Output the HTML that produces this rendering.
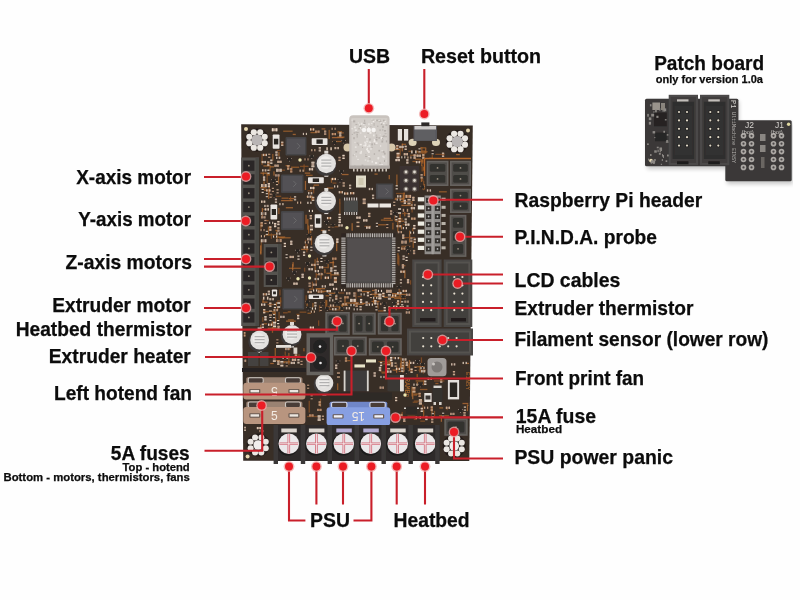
<!DOCTYPE html>
<html><head><meta charset="utf-8"><style>
html,body{margin:0;padding:0;background:#fff;overflow:hidden;}
svg{display:block}
.t{font-family:"Liberation Sans",sans-serif;font-weight:bold;fill:#0c0c0c;stroke:#0c0c0c;stroke-width:0.25px;}
</style></head><body>
<svg width="800" height="600" viewBox="0 0 800 600">
<defs><clipPath id="bclip"><path d="M242.5,125.5 L471.5,126.5 L468,459.5 L244.5,459.5 Z"/></clipPath><filter id="soft" x="0" y="0" width="1" height="1"><feGaussianBlur stdDeviation="0.45"/></filter><filter id="shadow" x="-0.2" y="-0.2" width="1.4" height="1.4"><feGaussianBlur stdDeviation="2"/></filter></defs>
<rect width="800" height="600" fill="#fefefe"/>
<g filter="url(#soft)"><path d="M241.2,124.3 L472.8,125.4 L469.3,461 L243.2,460.8 Z" fill="#382d27"/>
<g clip-path="url(#bclip)"><rect x="285.80" y="207.08" width="7.18" height="1.30" fill="#b87034" opacity="0.75"/><rect x="267.28" y="162.68" width="3.60" height="1.30" fill="#a8652c" opacity="0.75"/><rect x="282.98" y="312.13" width="4.72" height="1.30" fill="#8e5426" opacity="0.75"/><rect x="271.62" y="321.39" width="1.30" height="4.22" fill="#b87034" opacity="0.75"/><rect x="377.20" y="224.13" width="9.48" height="1.30" fill="#a8652c" opacity="0.75"/><rect x="306.44" y="302.76" width="1.30" height="3.83" fill="#a8652c" opacity="0.75"/><rect x="374.50" y="173.45" width="3.16" height="1.30" fill="#b87034" opacity="0.75"/><rect x="408.84" y="359.92" width="1.30" height="11.24" fill="#b87034" opacity="0.75"/><rect x="263.40" y="165.26" width="6.75" height="1.30" fill="#b87034" opacity="0.75"/><rect x="431.63" y="154.73" width="1.30" height="3.27" fill="#8e5426" opacity="0.75"/><rect x="412.60" y="240.38" width="1.30" height="7.48" fill="#a8652c" opacity="0.75"/><rect x="431.35" y="407.93" width="1.30" height="11.55" fill="#b87034" opacity="0.75"/><rect x="306.24" y="244.25" width="1.30" height="8.08" fill="#8e5426" opacity="0.75"/><rect x="283.20" y="130.56" width="9.43" height="1.30" fill="#a8652c" opacity="0.75"/><rect x="400.45" y="201.12" width="11.03" height="1.30" fill="#b87034" opacity="0.75"/><rect x="425.06" y="148.20" width="1.30" height="4.56" fill="#b87034" opacity="0.75"/><rect x="279.98" y="297.21" width="1.30" height="5.31" fill="#8e5426" opacity="0.75"/><rect x="294.13" y="354.41" width="6.20" height="1.30" fill="#8e5426" opacity="0.75"/><rect x="355.24" y="292.39" width="1.30" height="10.67" fill="#8e5426" opacity="0.75"/><rect x="327.54" y="263.84" width="1.30" height="4.44" fill="#a8652c" opacity="0.75"/><rect x="330.28" y="270.92" width="1.30" height="7.89" fill="#8e5426" opacity="0.75"/><rect x="288.21" y="352.87" width="1.30" height="11.72" fill="#a8652c" opacity="0.75"/><rect x="285.65" y="165.05" width="4.42" height="1.30" fill="#b87034" opacity="0.75"/><rect x="401.55" y="411.90" width="1.30" height="6.64" fill="#8e5426" opacity="0.75"/><rect x="285.96" y="320.51" width="9.86" height="1.30" fill="#b87034" opacity="0.75"/><rect x="415.64" y="380.29" width="9.50" height="1.30" fill="#a8652c" opacity="0.75"/><rect x="290.97" y="166.59" width="8.17" height="1.30" fill="#a8652c" opacity="0.75"/><rect x="381.46" y="371.54" width="6.61" height="1.30" fill="#a8652c" opacity="0.75"/><rect x="305.03" y="239.82" width="1.30" height="6.74" fill="#8e5426" opacity="0.75"/><rect x="260.14" y="324.78" width="1.30" height="3.41" fill="#a8652c" opacity="0.75"/><rect x="401.94" y="143.68" width="4.06" height="1.30" fill="#a8652c" opacity="0.75"/><rect x="380.21" y="367.00" width="1.30" height="4.71" fill="#b87034" opacity="0.75"/><rect x="303.96" y="267.74" width="1.30" height="3.92" fill="#8e5426" opacity="0.75"/><rect x="319.11" y="290.65" width="10.83" height="1.30" fill="#a8652c" opacity="0.75"/><rect x="413.77" y="400.46" width="8.88" height="1.30" fill="#8e5426" opacity="0.75"/><rect x="417.49" y="152.18" width="8.96" height="1.30" fill="#a8652c" opacity="0.75"/><rect x="399.40" y="290.77" width="1.30" height="5.95" fill="#a8652c" opacity="0.75"/><rect x="315.55" y="272.96" width="1.30" height="11.12" fill="#8e5426" opacity="0.75"/><rect x="314.46" y="259.26" width="1.30" height="11.05" fill="#a8652c" opacity="0.75"/><rect x="330.81" y="178.23" width="1.30" height="4.60" fill="#a8652c" opacity="0.75"/><rect x="413.76" y="418.58" width="3.20" height="1.30" fill="#8e5426" opacity="0.75"/><rect x="424.08" y="150.99" width="1.30" height="3.42" fill="#8e5426" opacity="0.75"/><rect x="321.56" y="128.28" width="3.80" height="1.30" fill="#b87034" opacity="0.75"/><rect x="288.98" y="267.66" width="11.73" height="1.30" fill="#a8652c" opacity="0.75"/><rect x="276.53" y="169.51" width="8.53" height="1.30" fill="#8e5426" opacity="0.75"/><rect x="311.78" y="281.65" width="1.30" height="6.24" fill="#8e5426" opacity="0.75"/><rect x="274.62" y="348.00" width="1.30" height="9.72" fill="#a8652c" opacity="0.75"/><rect x="296.43" y="313.72" width="3.09" height="1.30" fill="#8e5426" opacity="0.75"/><rect x="364.45" y="225.71" width="6.53" height="1.30" fill="#8e5426" opacity="0.75"/><rect x="262.56" y="189.45" width="3.99" height="1.30" fill="#b87034" opacity="0.75"/><rect x="429.05" y="157.54" width="3.85" height="1.30" fill="#8e5426" opacity="0.75"/><rect x="347.21" y="360.00" width="3.29" height="1.30" fill="#a8652c" opacity="0.75"/><rect x="398.55" y="286.79" width="1.30" height="8.61" fill="#8e5426" opacity="0.75"/><rect x="261.73" y="207.96" width="1.30" height="9.27" fill="#b87034" opacity="0.75"/><rect x="419.39" y="365.86" width="1.30" height="6.63" fill="#b87034" opacity="0.75"/><rect x="466.79" y="404.46" width="1.30" height="6.68" fill="#b87034" opacity="0.75"/><rect x="269.41" y="164.94" width="1.30" height="5.97" fill="#8e5426" opacity="0.75"/><rect x="412.17" y="227.87" width="1.30" height="3.63" fill="#a8652c" opacity="0.75"/><rect x="407.43" y="415.46" width="7.92" height="1.30" fill="#8e5426" opacity="0.75"/><rect x="361.87" y="302.70" width="8.40" height="1.30" fill="#b87034" opacity="0.75"/><rect x="308.58" y="400.76" width="1.30" height="11.85" fill="#8e5426" opacity="0.75"/><rect x="419.98" y="388.86" width="7.40" height="1.30" fill="#a8652c" opacity="0.75"/><rect x="268.71" y="185.99" width="1.30" height="8.22" fill="#8e5426" opacity="0.75"/><rect x="420.01" y="147.24" width="6.28" height="1.30" fill="#a8652c" opacity="0.75"/><rect x="263.57" y="311.07" width="11.42" height="1.30" fill="#a8652c" opacity="0.75"/><rect x="395.97" y="364.33" width="1.30" height="8.51" fill="#b87034" opacity="0.75"/><rect x="288.82" y="197.98" width="5.78" height="1.30" fill="#b87034" opacity="0.75"/><rect x="467.55" y="404.65" width="10.69" height="1.30" fill="#b87034" opacity="0.75"/><rect x="319.91" y="266.78" width="8.24" height="1.30" fill="#8e5426" opacity="0.75"/><rect x="434.02" y="380.31" width="10.41" height="1.30" fill="#8e5426" opacity="0.75"/><rect x="404.09" y="210.35" width="1.30" height="5.94" fill="#b87034" opacity="0.75"/><rect x="438.93" y="191.15" width="7.85" height="1.30" fill="#a8652c" opacity="0.75"/><rect x="274.95" y="317.79" width="1.30" height="4.95" fill="#b87034" opacity="0.75"/><rect x="383.69" y="217.70" width="7.34" height="1.30" fill="#b87034" opacity="0.75"/><rect x="312.29" y="302.88" width="1.30" height="10.22" fill="#a8652c" opacity="0.75"/><rect x="326.88" y="187.36" width="6.60" height="1.30" fill="#a8652c" opacity="0.75"/><rect x="292.42" y="262.12" width="1.30" height="4.60" fill="#b87034" opacity="0.75"/><rect x="320.53" y="272.46" width="1.30" height="6.82" fill="#8e5426" opacity="0.75"/><rect x="327.48" y="306.13" width="11.28" height="1.30" fill="#8e5426" opacity="0.75"/><rect x="409.05" y="230.59" width="1.30" height="11.90" fill="#b87034" opacity="0.75"/><rect x="267.99" y="188.87" width="1.30" height="10.11" fill="#a8652c" opacity="0.75"/><rect x="422.99" y="410.02" width="1.30" height="7.94" fill="#a8652c" opacity="0.75"/><rect x="287.34" y="348.24" width="3.14" height="1.30" fill="#b87034" opacity="0.75"/><rect x="289.93" y="196.37" width="1.30" height="4.54" fill="#8e5426" opacity="0.75"/><rect x="398.62" y="370.70" width="5.79" height="1.30" fill="#b87034" opacity="0.75"/><rect x="380.87" y="219.43" width="4.11" height="1.30" fill="#a8652c" opacity="0.75"/><rect x="307.10" y="415.84" width="10.69" height="1.30" fill="#8e5426" opacity="0.75"/><rect x="317.99" y="320.40" width="1.30" height="5.41" fill="#8e5426" opacity="0.75"/><rect x="319.85" y="398.59" width="1.30" height="8.32" fill="#8e5426" opacity="0.75"/><rect x="374.47" y="291.62" width="1.30" height="7.64" fill="#a8652c" opacity="0.75"/><rect x="409.91" y="154.65" width="8.84" height="1.30" fill="#8e5426" opacity="0.75"/><rect x="266.51" y="172.56" width="1.30" height="10.29" fill="#8e5426" opacity="0.75"/><rect x="267.81" y="226.55" width="1.30" height="8.79" fill="#a8652c" opacity="0.75"/><rect x="330.70" y="226.13" width="7.83" height="1.30" fill="#8e5426" opacity="0.75"/><rect x="301.11" y="248.76" width="7.29" height="1.30" fill="#b87034" opacity="0.75"/><rect x="407.96" y="250.60" width="1.30" height="3.94" fill="#8e5426" opacity="0.75"/><rect x="408.31" y="150.65" width="10.51" height="1.30" fill="#8e5426" opacity="0.75"/><rect x="264.83" y="234.29" width="11.53" height="1.30" fill="#a8652c" opacity="0.75"/><rect x="398.15" y="255.43" width="1.30" height="3.95" fill="#8e5426" opacity="0.75"/><rect x="435.36" y="382.85" width="3.13" height="1.30" fill="#a8652c" opacity="0.75"/><rect x="276.26" y="359.97" width="3.81" height="1.30" fill="#b87034" opacity="0.75"/><rect x="404.21" y="270.23" width="1.30" height="8.04" fill="#b87034" opacity="0.75"/><rect x="412.45" y="160.86" width="10.63" height="1.30" fill="#a8652c" opacity="0.75"/><rect x="307.46" y="312.62" width="3.68" height="1.30" fill="#a8652c" opacity="0.75"/><rect x="307.14" y="218.88" width="1.30" height="10.86" fill="#a8652c" opacity="0.75"/><rect x="423.05" y="180.88" width="1.30" height="9.32" fill="#8e5426" opacity="0.75"/><rect x="401.64" y="265.12" width="3.71" height="1.30" fill="#b87034" opacity="0.75"/><rect x="277.01" y="306.14" width="1.30" height="4.39" fill="#b87034" opacity="0.75"/><rect x="262.44" y="298.87" width="1.30" height="3.29" fill="#a8652c" opacity="0.75"/><rect x="310.03" y="226.56" width="1.30" height="6.73" fill="#a8652c" opacity="0.75"/><rect x="413.41" y="394.38" width="3.61" height="1.30" fill="#a8652c" opacity="0.75"/><rect x="462.47" y="402.85" width="6.02" height="1.30" fill="#b87034" opacity="0.75"/><rect x="284.59" y="351.45" width="1.30" height="8.36" fill="#8e5426" opacity="0.75"/><rect x="310.84" y="236.09" width="1.30" height="9.07" fill="#a8652c" opacity="0.75"/><rect x="292.01" y="264.15" width="1.30" height="6.34" fill="#b87034" opacity="0.75"/><rect x="270.70" y="233.34" width="1.30" height="5.46" fill="#8e5426" opacity="0.75"/><rect x="456.10" y="153.97" width="3.69" height="1.30" fill="#b87034" opacity="0.75"/><rect x="332.68" y="140.81" width="8.70" height="1.30" fill="#a8652c" opacity="0.75"/><rect x="351.50" y="223.19" width="1.30" height="7.53" fill="#b87034" opacity="0.75"/><rect x="401.65" y="143.64" width="1.30" height="7.74" fill="#b87034" opacity="0.75"/><rect x="287.83" y="319.24" width="5.95" height="1.30" fill="#a8652c" opacity="0.75"/><rect x="337.43" y="131.05" width="4.64" height="1.30" fill="#a8652c" opacity="0.75"/><rect x="462.98" y="362.77" width="6.28" height="1.30" fill="#b87034" opacity="0.75"/><rect x="361.87" y="290.91" width="8.63" height="1.30" fill="#b87034" opacity="0.75"/><rect x="392.24" y="222.71" width="1.30" height="6.78" fill="#a8652c" opacity="0.75"/><rect x="373.13" y="297.02" width="1.30" height="6.58" fill="#b87034" opacity="0.75"/><rect x="276.44" y="229.98" width="1.30" height="11.40" fill="#a8652c" opacity="0.75"/><rect x="446.49" y="406.95" width="1.30" height="3.25" fill="#8e5426" opacity="0.75"/><rect x="420.29" y="420.50" width="4.64" height="1.30" fill="#8e5426" opacity="0.75"/><rect x="399.53" y="147.74" width="1.30" height="7.89" fill="#8e5426" opacity="0.75"/><rect x="353.67" y="303.52" width="10.14" height="1.30" fill="#b87034" opacity="0.75"/><rect x="393.08" y="357.21" width="7.21" height="1.30" fill="#b87034" opacity="0.75"/><rect x="292.74" y="133.80" width="3.03" height="1.30" fill="#b87034" opacity="0.75"/><rect x="310.44" y="131.96" width="6.75" height="1.30" fill="#a8652c" opacity="0.75"/><rect x="303.45" y="164.39" width="1.30" height="7.22" fill="#8e5426" opacity="0.75"/><rect x="267.64" y="303.87" width="6.84" height="1.30" fill="#8e5426" opacity="0.75"/><rect x="394.69" y="198.76" width="7.89" height="1.30" fill="#b87034" opacity="0.75"/><rect x="313.00" y="185.67" width="1.30" height="7.71" fill="#8e5426" opacity="0.75"/><rect x="409.94" y="232.78" width="3.06" height="1.30" fill="#8e5426" opacity="0.75"/><rect x="394.75" y="148.81" width="5.13" height="1.30" fill="#b87034" opacity="0.75"/><rect x="300.02" y="165.69" width="8.48" height="1.30" fill="#8e5426" opacity="0.75"/><rect x="414.23" y="366.11" width="10.43" height="1.30" fill="#a8652c" opacity="0.75"/><rect x="388.61" y="174.99" width="1.30" height="4.25" fill="#b87034" opacity="0.75"/><rect x="307.50" y="190.22" width="4.80" height="1.30" fill="#8e5426" opacity="0.75"/><rect x="299.63" y="311.53" width="6.74" height="1.30" fill="#8e5426" opacity="0.75"/><rect x="384.47" y="219.58" width="8.46" height="1.30" fill="#a8652c" opacity="0.75"/><rect x="303.29" y="348.07" width="1.30" height="3.27" fill="#a8652c" opacity="0.75"/><rect x="287.71" y="311.27" width="3.01" height="1.30" fill="#a8652c" opacity="0.75"/><rect x="394.26" y="215.77" width="1.30" height="5.17" fill="#8e5426" opacity="0.75"/><rect x="409.87" y="280.25" width="1.30" height="4.37" fill="#8e5426" opacity="0.75"/><rect x="271.82" y="326.73" width="1.30" height="6.10" fill="#a8652c" opacity="0.75"/><rect x="316.51" y="273.98" width="6.82" height="1.30" fill="#a8652c" opacity="0.75"/><rect x="357.63" y="295.95" width="4.18" height="1.30" fill="#8e5426" opacity="0.75"/><rect x="435.33" y="153.71" width="9.31" height="1.30" fill="#8e5426" opacity="0.75"/><rect x="394.90" y="197.78" width="8.45" height="1.30" fill="#a8652c" opacity="0.75"/><rect x="337.03" y="383.34" width="1.30" height="6.77" fill="#a8652c" opacity="0.75"/><rect x="274.48" y="307.84" width="1.30" height="10.78" fill="#a8652c" opacity="0.75"/><rect x="262.84" y="293.23" width="4.20" height="2.20" fill="#9a6a48" /><rect x="262.84" y="293.23" width="1.20" height="2.20" fill="#c8b8a8" /><rect x="265.84" y="293.23" width="1.20" height="2.20" fill="#c8b8a8" /><rect x="418.94" y="383.44" width="3.20" height="3.20" fill="#2a2624" /><rect x="418.34" y="383.84" width="0.60" height="0.80" fill="#b89478" /><rect x="422.14" y="383.84" width="0.60" height="0.80" fill="#b89478" /><rect x="420.14" y="386.64" width="0.80" height="0.60" fill="#b89478" /><rect x="277.28" y="220.96" width="2.20" height="4.20" fill="#8b7568" /><rect x="277.28" y="220.96" width="2.20" height="1.20" fill="#d8c4b0" /><rect x="277.28" y="223.96" width="2.20" height="1.20" fill="#d8c4b0" /><rect x="382.65" y="302.10" width="3.20" height="3.20" fill="#2a2624" /><rect x="382.05" y="302.50" width="0.60" height="0.80" fill="#b89478" /><rect x="385.85" y="302.50" width="0.60" height="0.80" fill="#b89478" /><rect x="383.85" y="305.30" width="0.80" height="0.60" fill="#b89478" /><rect x="380.37" y="375.87" width="4.20" height="2.20" fill="#3a2e28" /><rect x="380.37" y="375.87" width="1.20" height="2.20" fill="#c8b8a8" /><rect x="383.37" y="375.87" width="1.20" height="2.20" fill="#c8b8a8" /><rect x="263.09" y="309.10" width="2.20" height="4.20" fill="#9a6a48" /><rect x="263.09" y="309.10" width="2.20" height="1.20" fill="#d8c4b0" /><rect x="263.09" y="312.10" width="2.20" height="1.20" fill="#d8c4b0" /><rect x="335.13" y="295.45" width="2.20" height="4.20" fill="#9a6a48" /><rect x="335.13" y="295.45" width="2.20" height="1.20" fill="#c8b8a8" /><rect x="335.13" y="298.45" width="2.20" height="1.20" fill="#c8b8a8" /><rect x="280.30" y="315.76" width="4.20" height="2.20" fill="#8b7568" /><rect x="280.30" y="315.76" width="1.20" height="2.20" fill="#c8b8a8" /><rect x="283.30" y="315.76" width="1.20" height="2.20" fill="#c8b8a8" /><rect x="290.16" y="240.73" width="2.20" height="4.20" fill="#b09888" /><rect x="290.16" y="240.73" width="2.20" height="1.20" fill="#c8b8a8" /><rect x="290.16" y="243.73" width="2.20" height="1.20" fill="#c8b8a8" /><rect x="345.85" y="307.13" width="4.20" height="2.20" fill="#6e5a4e" /><rect x="345.85" y="307.13" width="1.20" height="2.20" fill="#c8b8a8" /><rect x="348.85" y="307.13" width="1.20" height="2.20" fill="#c8b8a8" /><rect x="398.21" y="413.88" width="4.20" height="2.20" fill="#9a6a48" /><rect x="398.21" y="413.88" width="1.20" height="2.20" fill="#b89478" /><rect x="401.21" y="413.88" width="1.20" height="2.20" fill="#b89478" /><rect x="279.33" y="203.04" width="4.20" height="2.20" fill="#3a2e28" /><rect x="279.33" y="203.04" width="1.20" height="2.20" fill="#d8c4b0" /><rect x="282.33" y="203.04" width="1.20" height="2.20" fill="#d8c4b0" /><rect x="324.74" y="276.64" width="4.20" height="2.20" fill="#9a6a48" /><rect x="324.74" y="276.64" width="1.20" height="2.20" fill="#e2d2c0" /><rect x="327.74" y="276.64" width="1.20" height="2.20" fill="#e2d2c0" /><rect x="261.06" y="200.60" width="4.20" height="2.20" fill="#8b7568" /><rect x="261.06" y="200.60" width="1.20" height="2.20" fill="#d8c4b0" /><rect x="264.06" y="200.60" width="1.20" height="2.20" fill="#d8c4b0" /><rect x="318.34" y="273.01" width="4.20" height="2.20" fill="#6e5a4e" /><rect x="318.34" y="273.01" width="1.20" height="2.20" fill="#caa98c" /><rect x="321.34" y="273.01" width="1.20" height="2.20" fill="#caa98c" /><rect x="261.59" y="188.75" width="2.20" height="4.20" fill="#2a221e" /><rect x="261.59" y="188.75" width="2.20" height="1.20" fill="#e2d2c0" /><rect x="261.59" y="191.75" width="2.20" height="1.20" fill="#e2d2c0" /><rect x="418.90" y="399.02" width="3.00" height="5.50" fill="#b09888" /><rect x="418.90" y="399.02" width="3.00" height="1.50" fill="#caa98c" /><rect x="418.90" y="403.02" width="3.00" height="1.50" fill="#caa98c" /><rect x="333.88" y="277.26" width="3.00" height="5.50" fill="#9a6a48" /><rect x="333.88" y="277.26" width="3.00" height="1.50" fill="#d8c4b0" /><rect x="333.88" y="281.26" width="3.00" height="1.50" fill="#d8c4b0" /><rect x="397.55" y="247.13" width="2.20" height="4.20" fill="#2a221e" /><rect x="397.55" y="247.13" width="2.20" height="1.20" fill="#d8c4b0" /><rect x="397.55" y="250.13" width="2.20" height="1.20" fill="#d8c4b0" /><rect x="297.07" y="201.56" width="4.20" height="2.20" fill="#2a221e" /><rect x="297.07" y="201.56" width="1.20" height="2.20" fill="#caa98c" /><rect x="300.07" y="201.56" width="1.20" height="2.20" fill="#caa98c" /><rect x="259.26" y="429.96" width="4.20" height="2.20" fill="#2a221e" /><rect x="259.26" y="429.96" width="1.20" height="2.20" fill="#b89478" /><rect x="262.26" y="429.96" width="1.20" height="2.20" fill="#b89478" /><rect x="350.05" y="192.08" width="4.20" height="2.20" fill="#9a6a48" /><rect x="350.05" y="192.08" width="1.20" height="2.20" fill="#d8c4b0" /><rect x="353.05" y="192.08" width="1.20" height="2.20" fill="#d8c4b0" /><rect x="395.51" y="158.99" width="4.20" height="2.20" fill="#b09888" /><rect x="395.51" y="158.99" width="1.20" height="2.20" fill="#e2d2c0" /><rect x="398.51" y="158.99" width="1.20" height="2.20" fill="#e2d2c0" /><rect x="350.21" y="298.87" width="5.50" height="3.00" fill="#b09888" /><rect x="350.21" y="298.87" width="1.50" height="3.00" fill="#e2d2c0" /><rect x="354.21" y="298.87" width="1.50" height="3.00" fill="#e2d2c0" /><rect x="309.80" y="326.62" width="4.20" height="2.20" fill="#b09888" /><rect x="309.80" y="326.62" width="1.20" height="2.20" fill="#e2d2c0" /><rect x="312.80" y="326.62" width="1.20" height="2.20" fill="#e2d2c0" /><rect x="414.46" y="366.81" width="2.20" height="4.20" fill="#2a221e" /><rect x="414.46" y="366.81" width="2.20" height="1.20" fill="#b89478" /><rect x="414.46" y="369.81" width="2.20" height="1.20" fill="#b89478" /><rect x="294.80" y="351.56" width="2.20" height="4.20" fill="#6e5a4e" /><rect x="294.80" y="351.56" width="2.20" height="1.20" fill="#caa98c" /><rect x="294.80" y="354.56" width="2.20" height="1.20" fill="#caa98c" /><rect x="424.05" y="406.65" width="4.20" height="2.20" fill="#3a2e28" /><rect x="424.05" y="406.65" width="1.20" height="2.20" fill="#caa98c" /><rect x="427.05" y="406.65" width="1.20" height="2.20" fill="#caa98c" /><rect x="243.55" y="426.76" width="2.20" height="4.20" fill="#8b7568" /><rect x="243.55" y="426.76" width="2.20" height="1.20" fill="#d8c4b0" /><rect x="243.55" y="429.76" width="2.20" height="1.20" fill="#d8c4b0" /><rect x="308.90" y="168.16" width="4.20" height="2.20" fill="#b09888" /><rect x="308.90" y="168.16" width="1.20" height="2.20" fill="#d8c4b0" /><rect x="311.90" y="168.16" width="1.20" height="2.20" fill="#d8c4b0" /><rect x="297.38" y="255.51" width="2.20" height="4.20" fill="#3a2e28" /><rect x="297.38" y="255.51" width="2.20" height="1.20" fill="#e2d2c0" /><rect x="297.38" y="258.51" width="2.20" height="1.20" fill="#e2d2c0" /><rect x="394.45" y="362.53" width="2.20" height="4.20" fill="#3a2e28" /><rect x="394.45" y="362.53" width="2.20" height="1.20" fill="#caa98c" /><rect x="394.45" y="365.53" width="2.20" height="1.20" fill="#caa98c" /><rect x="267.17" y="161.49" width="2.20" height="4.20" fill="#9a6a48" /><rect x="267.17" y="161.49" width="2.20" height="1.20" fill="#d8c4b0" /><rect x="267.17" y="164.49" width="2.20" height="1.20" fill="#d8c4b0" /><rect x="368.14" y="212.86" width="2.20" height="4.20" fill="#8b7568" /><rect x="368.14" y="212.86" width="2.20" height="1.20" fill="#caa98c" /><rect x="368.14" y="215.86" width="2.20" height="1.20" fill="#caa98c" /><rect x="285.15" y="347.95" width="4.20" height="2.20" fill="#8b7568" /><rect x="285.15" y="347.95" width="1.20" height="2.20" fill="#b89478" /><rect x="288.15" y="347.95" width="1.20" height="2.20" fill="#b89478" /><rect x="243.24" y="332.23" width="2.20" height="4.20" fill="#9a6a48" /><rect x="243.24" y="332.23" width="2.20" height="1.20" fill="#caa98c" /><rect x="243.24" y="335.23" width="2.20" height="1.20" fill="#caa98c" /><rect x="375.83" y="222.72" width="2.20" height="4.20" fill="#2a221e" /><rect x="375.83" y="222.72" width="2.20" height="1.20" fill="#c8b8a8" /><rect x="375.83" y="225.72" width="2.20" height="1.20" fill="#c8b8a8" /><rect x="395.02" y="396.97" width="2.20" height="4.20" fill="#6e5a4e" /><rect x="395.02" y="396.97" width="2.20" height="1.20" fill="#d8c4b0" /><rect x="395.02" y="399.97" width="2.20" height="1.20" fill="#d8c4b0" /><rect x="359.97" y="298.94" width="2.20" height="4.20" fill="#b09888" /><rect x="359.97" y="298.94" width="2.20" height="1.20" fill="#e2d2c0" /><rect x="359.97" y="301.94" width="2.20" height="1.20" fill="#e2d2c0" /><rect x="309.72" y="214.99" width="2.20" height="4.20" fill="#8b7568" /><rect x="309.72" y="214.99" width="2.20" height="1.20" fill="#caa98c" /><rect x="309.72" y="217.99" width="2.20" height="1.20" fill="#caa98c" /><rect x="324.92" y="220.74" width="3.20" height="3.20" fill="#2a2624" /><rect x="324.32" y="221.14" width="0.60" height="0.80" fill="#d8c4b0" /><rect x="328.12" y="221.14" width="0.60" height="0.80" fill="#d8c4b0" /><rect x="326.12" y="223.94" width="0.80" height="0.60" fill="#d8c4b0" /><rect x="400.38" y="270.61" width="4.20" height="2.20" fill="#9a6a48" /><rect x="400.38" y="270.61" width="1.20" height="2.20" fill="#e2d2c0" /><rect x="403.38" y="270.61" width="1.20" height="2.20" fill="#e2d2c0" /><rect x="359.50" y="306.07" width="2.20" height="4.20" fill="#6e5a4e" /><rect x="359.50" y="306.07" width="2.20" height="1.20" fill="#c8b8a8" /><rect x="359.50" y="309.07" width="2.20" height="1.20" fill="#c8b8a8" /><rect x="373.57" y="372.37" width="2.20" height="4.20" fill="#8b7568" /><rect x="373.57" y="372.37" width="2.20" height="1.20" fill="#d8c4b0" /><rect x="373.57" y="375.37" width="2.20" height="1.20" fill="#d8c4b0" /><rect x="463.80" y="406.51" width="2.20" height="4.20" fill="#3a2e28" /><rect x="463.80" y="406.51" width="2.20" height="1.20" fill="#d8c4b0" /><rect x="463.80" y="409.51" width="2.20" height="1.20" fill="#d8c4b0" /><rect x="393.52" y="211.76" width="3.20" height="3.20" fill="#2a2624" /><rect x="392.92" y="212.16" width="0.60" height="0.80" fill="#d8c4b0" /><rect x="396.72" y="212.16" width="0.60" height="0.80" fill="#d8c4b0" /><rect x="394.72" y="214.96" width="0.80" height="0.60" fill="#d8c4b0" /><rect x="366.07" y="226.46" width="4.20" height="2.20" fill="#b09888" /><rect x="366.07" y="226.46" width="1.20" height="2.20" fill="#d8c4b0" /><rect x="369.07" y="226.46" width="1.20" height="2.20" fill="#d8c4b0" /><rect x="368.80" y="187.91" width="4.20" height="2.20" fill="#6e5a4e" /><rect x="368.80" y="187.91" width="1.20" height="2.20" fill="#c8b8a8" /><rect x="371.80" y="187.91" width="1.20" height="2.20" fill="#c8b8a8" /><rect x="307.04" y="384.62" width="2.20" height="4.20" fill="#2a221e" /><rect x="307.04" y="384.62" width="2.20" height="1.20" fill="#b89478" /><rect x="307.04" y="387.62" width="2.20" height="1.20" fill="#b89478" /><rect x="338.60" y="218.87" width="2.20" height="4.20" fill="#b09888" /><rect x="338.60" y="218.87" width="2.20" height="1.20" fill="#e2d2c0" /><rect x="338.60" y="221.87" width="2.20" height="1.20" fill="#e2d2c0" /><rect x="326.66" y="290.02" width="4.20" height="2.20" fill="#b09888" /><rect x="326.66" y="290.02" width="1.20" height="2.20" fill="#e2d2c0" /><rect x="329.66" y="290.02" width="1.20" height="2.20" fill="#e2d2c0" /><rect x="401.85" y="264.17" width="2.20" height="4.20" fill="#b09888" /><rect x="401.85" y="264.17" width="2.20" height="1.20" fill="#b89478" /><rect x="401.85" y="267.17" width="2.20" height="1.20" fill="#b89478" /><rect x="273.04" y="321.77" width="3.00" height="5.50" fill="#8b7568" /><rect x="273.04" y="321.77" width="3.00" height="1.50" fill="#e2d2c0" /><rect x="273.04" y="325.77" width="3.00" height="1.50" fill="#e2d2c0" /><rect x="285.51" y="254.11" width="2.20" height="4.20" fill="#2a221e" /><rect x="285.51" y="254.11" width="2.20" height="1.20" fill="#c8b8a8" /><rect x="285.51" y="257.11" width="2.20" height="1.20" fill="#c8b8a8" /><rect x="402.64" y="289.86" width="4.20" height="2.20" fill="#9a6a48" /><rect x="402.64" y="289.86" width="1.20" height="2.20" fill="#d8c4b0" /><rect x="405.64" y="289.86" width="1.20" height="2.20" fill="#d8c4b0" /><rect x="310.12" y="186.91" width="4.20" height="2.20" fill="#b09888" /><rect x="310.12" y="186.91" width="1.20" height="2.20" fill="#e2d2c0" /><rect x="313.12" y="186.91" width="1.20" height="2.20" fill="#e2d2c0" /><rect x="403.79" y="153.11" width="4.20" height="2.20" fill="#b09888" /><rect x="403.79" y="153.11" width="1.20" height="2.20" fill="#caa98c" /><rect x="406.79" y="153.11" width="1.20" height="2.20" fill="#caa98c" /><rect x="378.85" y="366.87" width="2.20" height="4.20" fill="#b09888" /><rect x="378.85" y="366.87" width="2.20" height="1.20" fill="#c8b8a8" /><rect x="378.85" y="369.87" width="2.20" height="1.20" fill="#c8b8a8" /><rect x="396.56" y="152.78" width="3.00" height="5.50" fill="#9a6a48" /><rect x="396.56" y="152.78" width="3.00" height="1.50" fill="#d8c4b0" /><rect x="396.56" y="156.78" width="3.00" height="1.50" fill="#d8c4b0" /><rect x="394.66" y="357.03" width="4.20" height="2.20" fill="#3a2e28" /><rect x="394.66" y="357.03" width="1.20" height="2.20" fill="#e2d2c0" /><rect x="397.66" y="357.03" width="1.20" height="2.20" fill="#e2d2c0" /><rect x="406.96" y="250.02" width="3.20" height="3.20" fill="#2a2624" /><rect x="406.36" y="250.42" width="0.60" height="0.80" fill="#caa98c" /><rect x="410.16" y="250.42" width="0.60" height="0.80" fill="#caa98c" /><rect x="408.16" y="253.22" width="0.80" height="0.60" fill="#caa98c" /><rect x="303.66" y="246.25" width="4.20" height="2.20" fill="#9a6a48" /><rect x="303.66" y="246.25" width="1.20" height="2.20" fill="#e2d2c0" /><rect x="306.66" y="246.25" width="1.20" height="2.20" fill="#e2d2c0" /><rect x="262.13" y="169.25" width="4.20" height="2.20" fill="#6e5a4e" /><rect x="262.13" y="169.25" width="1.20" height="2.20" fill="#c8b8a8" /><rect x="265.13" y="169.25" width="1.20" height="2.20" fill="#c8b8a8" /><rect x="413.21" y="224.95" width="2.20" height="4.20" fill="#8b7568" /><rect x="413.21" y="224.95" width="2.20" height="1.20" fill="#e2d2c0" /><rect x="413.21" y="227.95" width="2.20" height="1.20" fill="#e2d2c0" /><rect x="310.75" y="310.56" width="4.20" height="2.20" fill="#2a221e" /><rect x="310.75" y="310.56" width="1.20" height="2.20" fill="#caa98c" /><rect x="313.75" y="310.56" width="1.20" height="2.20" fill="#caa98c" /><rect x="406.92" y="279.03" width="2.20" height="4.20" fill="#b09888" /><rect x="406.92" y="279.03" width="2.20" height="1.20" fill="#caa98c" /><rect x="406.92" y="282.03" width="2.20" height="1.20" fill="#caa98c" /><rect x="286.69" y="277.28" width="3.20" height="3.20" fill="#2a2624" /><rect x="286.09" y="277.68" width="0.60" height="0.80" fill="#d8c4b0" /><rect x="289.89" y="277.68" width="0.60" height="0.80" fill="#d8c4b0" /><rect x="287.89" y="280.48" width="0.80" height="0.60" fill="#d8c4b0" /><rect x="274.86" y="198.62" width="2.20" height="4.20" fill="#6e5a4e" /><rect x="274.86" y="198.62" width="2.20" height="1.20" fill="#c8b8a8" /><rect x="274.86" y="201.62" width="2.20" height="1.20" fill="#c8b8a8" /><rect x="311.25" y="149.09" width="4.20" height="2.20" fill="#2a221e" /><rect x="311.25" y="149.09" width="1.20" height="2.20" fill="#caa98c" /><rect x="314.25" y="149.09" width="1.20" height="2.20" fill="#caa98c" /><rect x="365.53" y="301.51" width="2.20" height="4.20" fill="#8b7568" /><rect x="365.53" y="301.51" width="2.20" height="1.20" fill="#c8b8a8" /><rect x="365.53" y="304.51" width="2.20" height="1.20" fill="#c8b8a8" /><rect x="401.26" y="240.63" width="5.50" height="3.00" fill="#8b7568" /><rect x="401.26" y="240.63" width="1.50" height="3.00" fill="#b89478" /><rect x="405.26" y="240.63" width="1.50" height="3.00" fill="#b89478" /><rect x="463.42" y="411.99" width="2.20" height="4.20" fill="#8b7568" /><rect x="463.42" y="411.99" width="2.20" height="1.20" fill="#b89478" /><rect x="463.42" y="414.99" width="2.20" height="1.20" fill="#b89478" /><rect x="404.64" y="218.55" width="2.20" height="4.20" fill="#6e5a4e" /><rect x="404.64" y="218.55" width="2.20" height="1.20" fill="#d8c4b0" /><rect x="404.64" y="221.55" width="2.20" height="1.20" fill="#d8c4b0" /><rect x="293.95" y="196.20" width="2.20" height="4.20" fill="#6e5a4e" /><rect x="293.95" y="196.20" width="2.20" height="1.20" fill="#c8b8a8" /><rect x="293.95" y="199.20" width="2.20" height="1.20" fill="#c8b8a8" /><rect x="293.39" y="282.57" width="4.20" height="2.20" fill="#b09888" /><rect x="293.39" y="282.57" width="1.20" height="2.20" fill="#d8c4b0" /><rect x="296.39" y="282.57" width="1.20" height="2.20" fill="#d8c4b0" /><rect x="307.21" y="238.17" width="4.20" height="2.20" fill="#8b7568" /><rect x="307.21" y="238.17" width="1.20" height="2.20" fill="#caa98c" /><rect x="310.21" y="238.17" width="1.20" height="2.20" fill="#caa98c" /><rect x="395.94" y="417.12" width="2.20" height="4.20" fill="#3a2e28" /><rect x="395.94" y="417.12" width="2.20" height="1.20" fill="#caa98c" /><rect x="395.94" y="420.12" width="2.20" height="1.20" fill="#caa98c" /><rect x="462.60" y="361.85" width="4.20" height="2.20" fill="#3a2e28" /><rect x="462.60" y="361.85" width="1.20" height="2.20" fill="#e2d2c0" /><rect x="465.60" y="361.85" width="1.20" height="2.20" fill="#e2d2c0" /><rect x="331.52" y="127.71" width="4.20" height="2.20" fill="#2a221e" /><rect x="331.52" y="127.71" width="1.20" height="2.20" fill="#b89478" /><rect x="334.52" y="127.71" width="1.20" height="2.20" fill="#b89478" /><rect x="396.96" y="300.39" width="2.20" height="4.20" fill="#9a6a48" /><rect x="396.96" y="300.39" width="2.20" height="1.20" fill="#e2d2c0" /><rect x="396.96" y="303.39" width="2.20" height="1.20" fill="#e2d2c0" /><rect x="410.01" y="231.53" width="4.20" height="2.20" fill="#2a221e" /><rect x="410.01" y="231.53" width="1.20" height="2.20" fill="#d8c4b0" /><rect x="413.01" y="231.53" width="1.20" height="2.20" fill="#d8c4b0" /><rect x="307.53" y="290.87" width="4.20" height="2.20" fill="#9a6a48" /><rect x="307.53" y="290.87" width="1.20" height="2.20" fill="#c8b8a8" /><rect x="310.53" y="290.87" width="1.20" height="2.20" fill="#c8b8a8" /><rect x="332.98" y="287.84" width="4.20" height="2.20" fill="#6e5a4e" /><rect x="332.98" y="287.84" width="1.20" height="2.20" fill="#d8c4b0" /><rect x="335.98" y="287.84" width="1.20" height="2.20" fill="#d8c4b0" /><rect x="261.07" y="303.55" width="4.20" height="2.20" fill="#8b7568" /><rect x="261.07" y="303.55" width="1.20" height="2.20" fill="#e2d2c0" /><rect x="264.07" y="303.55" width="1.20" height="2.20" fill="#e2d2c0" /><rect x="338.36" y="178.64" width="3.20" height="3.20" fill="#2a2624" /><rect x="337.76" y="179.04" width="0.60" height="0.80" fill="#d8c4b0" /><rect x="341.56" y="179.04" width="0.60" height="0.80" fill="#d8c4b0" /><rect x="339.56" y="181.84" width="0.80" height="0.60" fill="#d8c4b0" /><rect x="353.28" y="292.44" width="2.20" height="4.20" fill="#8b7568" /><rect x="353.28" y="292.44" width="2.20" height="1.20" fill="#b89478" /><rect x="353.28" y="295.44" width="2.20" height="1.20" fill="#b89478" /><rect x="338.42" y="224.33" width="4.20" height="2.20" fill="#8b7568" /><rect x="338.42" y="224.33" width="1.20" height="2.20" fill="#d8c4b0" /><rect x="341.42" y="224.33" width="1.20" height="2.20" fill="#d8c4b0" /><rect x="265.81" y="230.76" width="2.20" height="4.20" fill="#2a221e" /><rect x="265.81" y="230.76" width="2.20" height="1.20" fill="#c8b8a8" /><rect x="265.81" y="233.76" width="2.20" height="1.20" fill="#c8b8a8" /><rect x="283.78" y="242.83" width="2.20" height="4.20" fill="#6e5a4e" /><rect x="283.78" y="242.83" width="2.20" height="1.20" fill="#e2d2c0" /><rect x="283.78" y="245.83" width="2.20" height="1.20" fill="#e2d2c0" /><rect x="397.42" y="285.58" width="3.20" height="3.20" fill="#2a2624" /><rect x="396.82" y="285.98" width="0.60" height="0.80" fill="#c8b8a8" /><rect x="400.62" y="285.98" width="0.60" height="0.80" fill="#c8b8a8" /><rect x="398.62" y="288.78" width="0.80" height="0.60" fill="#c8b8a8" /><rect x="307.30" y="201.74" width="4.20" height="2.20" fill="#3a2e28" /><rect x="307.30" y="201.74" width="1.20" height="2.20" fill="#e2d2c0" /><rect x="310.30" y="201.74" width="1.20" height="2.20" fill="#e2d2c0" /><rect x="308.55" y="282.62" width="2.20" height="4.20" fill="#6e5a4e" /><rect x="308.55" y="282.62" width="2.20" height="1.20" fill="#b89478" /><rect x="308.55" y="285.62" width="2.20" height="1.20" fill="#b89478" /><rect x="452.88" y="371.06" width="2.20" height="4.20" fill="#6e5a4e" /><rect x="452.88" y="371.06" width="2.20" height="1.20" fill="#caa98c" /><rect x="452.88" y="374.06" width="2.20" height="1.20" fill="#caa98c" /><rect x="338.43" y="156.82" width="2.20" height="4.20" fill="#6e5a4e" /><rect x="338.43" y="156.82" width="2.20" height="1.20" fill="#b89478" /><rect x="338.43" y="159.82" width="2.20" height="1.20" fill="#b89478" /><rect x="430.64" y="406.47" width="2.20" height="4.20" fill="#9a6a48" /><rect x="430.64" y="406.47" width="2.20" height="1.20" fill="#caa98c" /><rect x="430.64" y="409.47" width="2.20" height="1.20" fill="#caa98c" /><rect x="344.89" y="357.42" width="2.20" height="4.20" fill="#9a6a48" /><rect x="344.89" y="357.42" width="2.20" height="1.20" fill="#b89478" /><rect x="344.89" y="360.42" width="2.20" height="1.20" fill="#b89478" /><rect x="360.55" y="293.33" width="4.20" height="2.20" fill="#3a2e28" /><rect x="360.55" y="293.33" width="1.20" height="2.20" fill="#c8b8a8" /><rect x="363.55" y="293.33" width="1.20" height="2.20" fill="#c8b8a8" /><rect x="336.45" y="360.14" width="3.20" height="3.20" fill="#2a2624" /><rect x="335.85" y="360.54" width="0.60" height="0.80" fill="#d8c4b0" /><rect x="339.65" y="360.54" width="0.60" height="0.80" fill="#d8c4b0" /><rect x="337.65" y="363.34" width="0.80" height="0.60" fill="#d8c4b0" /><rect x="356.46" y="221.63" width="3.00" height="5.50" fill="#3a2e28" /><rect x="356.46" y="221.63" width="3.00" height="1.50" fill="#caa98c" /><rect x="356.46" y="225.63" width="3.00" height="1.50" fill="#caa98c" /><rect x="308.79" y="209.86" width="4.20" height="2.20" fill="#2a221e" /><rect x="308.79" y="209.86" width="1.20" height="2.20" fill="#e2d2c0" /><rect x="311.79" y="209.86" width="1.20" height="2.20" fill="#e2d2c0" /><rect x="268.12" y="153.69" width="2.20" height="4.20" fill="#3a2e28" /><rect x="268.12" y="153.69" width="2.20" height="1.20" fill="#b89478" /><rect x="268.12" y="156.69" width="2.20" height="1.20" fill="#b89478" /><rect x="328.04" y="226.59" width="2.20" height="4.20" fill="#2a221e" /><rect x="328.04" y="226.59" width="2.20" height="1.20" fill="#b89478" /><rect x="328.04" y="229.59" width="2.20" height="1.20" fill="#b89478" /><rect x="276.19" y="168.78" width="5.50" height="3.00" fill="#b09888" /><rect x="276.19" y="168.78" width="1.50" height="3.00" fill="#c8b8a8" /><rect x="280.19" y="168.78" width="1.50" height="3.00" fill="#c8b8a8" /><rect x="431.12" y="418.54" width="2.20" height="4.20" fill="#6e5a4e" /><rect x="431.12" y="418.54" width="2.20" height="1.20" fill="#caa98c" /><rect x="431.12" y="421.54" width="2.20" height="1.20" fill="#caa98c" /><rect x="321.83" y="415.61" width="2.20" height="4.20" fill="#3a2e28" /><rect x="321.83" y="415.61" width="2.20" height="1.20" fill="#caa98c" /><rect x="321.83" y="418.61" width="2.20" height="1.20" fill="#caa98c" /><rect x="272.85" y="356.34" width="3.00" height="5.50" fill="#6e5a4e" /><rect x="272.85" y="356.34" width="3.00" height="1.50" fill="#d8c4b0" /><rect x="272.85" y="360.34" width="3.00" height="1.50" fill="#d8c4b0" /><rect x="309.98" y="224.81" width="3.00" height="5.50" fill="#6e5a4e" /><rect x="309.98" y="224.81" width="3.00" height="1.50" fill="#d8c4b0" /><rect x="309.98" y="228.81" width="3.00" height="1.50" fill="#d8c4b0" /><rect x="402.80" y="226.98" width="4.20" height="2.20" fill="#3a2e28" /><rect x="402.80" y="226.98" width="1.20" height="2.20" fill="#c8b8a8" /><rect x="405.80" y="226.98" width="1.20" height="2.20" fill="#c8b8a8" /><rect x="411.12" y="150.42" width="5.50" height="3.00" fill="#2a221e" /><rect x="411.12" y="150.42" width="1.50" height="3.00" fill="#d8c4b0" /><rect x="415.12" y="150.42" width="1.50" height="3.00" fill="#d8c4b0" /><rect x="287.09" y="165.37" width="2.20" height="4.20" fill="#9a6a48" /><rect x="287.09" y="165.37" width="2.20" height="1.20" fill="#caa98c" /><rect x="287.09" y="168.37" width="2.20" height="1.20" fill="#caa98c" /><rect x="317.67" y="415.34" width="3.00" height="5.50" fill="#b09888" /><rect x="317.67" y="415.34" width="3.00" height="1.50" fill="#c8b8a8" /><rect x="317.67" y="419.34" width="3.00" height="1.50" fill="#c8b8a8" /><rect x="342.12" y="139.57" width="3.20" height="3.20" fill="#2a2624" /><rect x="341.52" y="139.97" width="0.60" height="0.80" fill="#c8b8a8" /><rect x="345.32" y="139.97" width="0.60" height="0.80" fill="#c8b8a8" /><rect x="343.32" y="142.77" width="0.80" height="0.60" fill="#c8b8a8" /><rect x="315.29" y="130.57" width="4.20" height="2.20" fill="#9a6a48" /><rect x="315.29" y="130.57" width="1.20" height="2.20" fill="#b89478" /><rect x="318.29" y="130.57" width="1.20" height="2.20" fill="#b89478" /><rect x="450.23" y="412.82" width="4.20" height="2.20" fill="#8b7568" /><rect x="450.23" y="412.82" width="1.20" height="2.20" fill="#b89478" /><rect x="453.23" y="412.82" width="1.20" height="2.20" fill="#b89478" /><rect x="415.55" y="416.07" width="5.50" height="3.00" fill="#3a2e28" /><rect x="415.55" y="416.07" width="1.50" height="3.00" fill="#caa98c" /><rect x="419.55" y="416.07" width="1.50" height="3.00" fill="#caa98c" /><rect x="268.94" y="310.35" width="3.00" height="5.50" fill="#2a221e" /><rect x="268.94" y="310.35" width="3.00" height="1.50" fill="#b89478" /><rect x="268.94" y="314.35" width="3.00" height="1.50" fill="#b89478" /><rect x="388.11" y="306.35" width="2.20" height="4.20" fill="#6e5a4e" /><rect x="388.11" y="306.35" width="2.20" height="1.20" fill="#caa98c" /><rect x="388.11" y="309.35" width="2.20" height="1.20" fill="#caa98c" /><rect x="321.76" y="285.24" width="4.20" height="2.20" fill="#6e5a4e" /><rect x="321.76" y="285.24" width="1.20" height="2.20" fill="#c8b8a8" /><rect x="324.76" y="285.24" width="1.20" height="2.20" fill="#c8b8a8" /><rect x="325.25" y="259.70" width="3.20" height="3.20" fill="#2a2624" /><rect x="324.65" y="260.10" width="0.60" height="0.80" fill="#b89478" /><rect x="328.45" y="260.10" width="0.60" height="0.80" fill="#b89478" /><rect x="326.45" y="262.90" width="0.80" height="0.60" fill="#b89478" /><rect x="399.35" y="145.84" width="4.20" height="2.20" fill="#b09888" /><rect x="399.35" y="145.84" width="1.20" height="2.20" fill="#c8b8a8" /><rect x="402.35" y="145.84" width="1.20" height="2.20" fill="#c8b8a8" /><rect x="451.07" y="363.28" width="4.20" height="2.20" fill="#6e5a4e" /><rect x="451.07" y="363.28" width="1.20" height="2.20" fill="#c8b8a8" /><rect x="454.07" y="363.28" width="1.20" height="2.20" fill="#c8b8a8" /><rect x="335.32" y="301.56" width="3.20" height="3.20" fill="#2a2624" /><rect x="334.72" y="301.96" width="0.60" height="0.80" fill="#d8c4b0" /><rect x="338.52" y="301.96" width="0.60" height="0.80" fill="#d8c4b0" /><rect x="336.52" y="304.76" width="0.80" height="0.60" fill="#d8c4b0" /><rect x="427.60" y="377.81" width="4.20" height="2.20" fill="#6e5a4e" /><rect x="427.60" y="377.81" width="1.20" height="2.20" fill="#d8c4b0" /><rect x="430.60" y="377.81" width="1.20" height="2.20" fill="#d8c4b0" /><rect x="349.00" y="184.70" width="2.20" height="4.20" fill="#6e5a4e" /><rect x="349.00" y="184.70" width="2.20" height="1.20" fill="#c8b8a8" /><rect x="349.00" y="187.70" width="2.20" height="1.20" fill="#c8b8a8" /><rect x="399.85" y="279.26" width="2.20" height="4.20" fill="#3a2e28" /><rect x="399.85" y="279.26" width="2.20" height="1.20" fill="#d8c4b0" /><rect x="399.85" y="282.26" width="2.20" height="1.20" fill="#d8c4b0" /><rect x="276.12" y="239.09" width="5.50" height="3.00" fill="#6e5a4e" /><rect x="276.12" y="239.09" width="1.50" height="3.00" fill="#b89478" /><rect x="280.12" y="239.09" width="1.50" height="3.00" fill="#b89478" /><rect x="274.46" y="164.60" width="4.20" height="2.20" fill="#b09888" /><rect x="274.46" y="164.60" width="1.20" height="2.20" fill="#b89478" /><rect x="277.46" y="164.60" width="1.20" height="2.20" fill="#b89478" /><rect x="377.87" y="289.78" width="4.20" height="2.20" fill="#2a221e" /><rect x="377.87" y="289.78" width="1.20" height="2.20" fill="#e2d2c0" /><rect x="380.87" y="289.78" width="1.20" height="2.20" fill="#e2d2c0" /><rect x="326.33" y="147.26" width="5.50" height="3.00" fill="#3a2e28" /><rect x="326.33" y="147.26" width="1.50" height="3.00" fill="#d8c4b0" /><rect x="330.33" y="147.26" width="1.50" height="3.00" fill="#d8c4b0" /><rect x="362.69" y="198.59" width="3.00" height="5.50" fill="#8b7568" /><rect x="362.69" y="198.59" width="3.00" height="1.50" fill="#caa98c" /><rect x="362.69" y="202.59" width="3.00" height="1.50" fill="#caa98c" /><rect x="334.55" y="146.98" width="4.20" height="2.20" fill="#6e5a4e" /><rect x="334.55" y="146.98" width="1.20" height="2.20" fill="#d8c4b0" /><rect x="337.55" y="146.98" width="1.20" height="2.20" fill="#d8c4b0" /><rect x="299.53" y="169.58" width="4.20" height="2.20" fill="#3a2e28" /><rect x="299.53" y="169.58" width="1.20" height="2.20" fill="#caa98c" /><rect x="302.53" y="169.58" width="1.20" height="2.20" fill="#caa98c" /><rect x="306.57" y="306.60" width="3.20" height="3.20" fill="#2a2624" /><rect x="305.97" y="307.00" width="0.60" height="0.80" fill="#c8b8a8" /><rect x="309.77" y="307.00" width="0.60" height="0.80" fill="#c8b8a8" /><rect x="307.77" y="309.80" width="0.80" height="0.60" fill="#c8b8a8" /><rect x="317.26" y="408.83" width="4.20" height="2.20" fill="#9a6a48" /><rect x="317.26" y="408.83" width="1.20" height="2.20" fill="#b89478" /><rect x="320.26" y="408.83" width="1.20" height="2.20" fill="#b89478" /><rect x="301.53" y="273.78" width="2.20" height="4.20" fill="#b09888" /><rect x="301.53" y="273.78" width="2.20" height="1.20" fill="#c8b8a8" /><rect x="301.53" y="276.78" width="2.20" height="1.20" fill="#c8b8a8" /><rect x="403.17" y="417.76" width="2.20" height="4.20" fill="#b09888" /><rect x="403.17" y="417.76" width="2.20" height="1.20" fill="#b89478" /><rect x="403.17" y="420.76" width="2.20" height="1.20" fill="#b89478" /><rect x="344.08" y="192.45" width="4.20" height="2.20" fill="#9a6a48" /><rect x="344.08" y="192.45" width="1.20" height="2.20" fill="#e2d2c0" /><rect x="347.08" y="192.45" width="1.20" height="2.20" fill="#e2d2c0" /><rect x="320.36" y="257.82" width="2.20" height="4.20" fill="#2a221e" /><rect x="320.36" y="257.82" width="2.20" height="1.20" fill="#e2d2c0" /><rect x="320.36" y="260.82" width="2.20" height="1.20" fill="#e2d2c0" /><rect x="396.62" y="198.49" width="4.20" height="2.20" fill="#3a2e28" /><rect x="396.62" y="198.49" width="1.20" height="2.20" fill="#c8b8a8" /><rect x="399.62" y="198.49" width="1.20" height="2.20" fill="#c8b8a8" /><rect x="264.38" y="316.16" width="2.20" height="4.20" fill="#b09888" /><rect x="264.38" y="316.16" width="2.20" height="1.20" fill="#e2d2c0" /><rect x="264.38" y="319.16" width="2.20" height="1.20" fill="#e2d2c0" /><rect x="311.45" y="161.73" width="3.00" height="5.50" fill="#b09888" /><rect x="311.45" y="161.73" width="3.00" height="1.50" fill="#c8b8a8" /><rect x="311.45" y="165.73" width="3.00" height="1.50" fill="#c8b8a8" /><rect x="425.31" y="415.93" width="2.20" height="4.20" fill="#8b7568" /><rect x="425.31" y="415.93" width="2.20" height="1.20" fill="#d8c4b0" /><rect x="425.31" y="418.93" width="2.20" height="1.20" fill="#d8c4b0" /><rect x="292.69" y="271.00" width="3.20" height="3.20" fill="#2a2624" /><rect x="292.09" y="271.40" width="0.60" height="0.80" fill="#e2d2c0" /><rect x="295.89" y="271.40" width="0.60" height="0.80" fill="#e2d2c0" /><rect x="293.89" y="274.20" width="0.80" height="0.60" fill="#e2d2c0" /><rect x="302.95" y="251.61" width="2.20" height="4.20" fill="#6e5a4e" /><rect x="302.95" y="251.61" width="2.20" height="1.20" fill="#e2d2c0" /><rect x="302.95" y="254.61" width="2.20" height="1.20" fill="#e2d2c0" /><rect x="390.00" y="210.43" width="2.20" height="4.20" fill="#6e5a4e" /><rect x="390.00" y="210.43" width="2.20" height="1.20" fill="#caa98c" /><rect x="390.00" y="213.43" width="2.20" height="1.20" fill="#caa98c" /><rect x="363.16" y="219.31" width="4.20" height="2.20" fill="#b09888" /><rect x="363.16" y="219.31" width="1.20" height="2.20" fill="#d8c4b0" /><rect x="366.16" y="219.31" width="1.20" height="2.20" fill="#d8c4b0" /><rect x="271.85" y="128.26" width="5.50" height="3.00" fill="#b09888" /><rect x="271.85" y="128.26" width="1.50" height="3.00" fill="#e2d2c0" /><rect x="275.85" y="128.26" width="1.50" height="3.00" fill="#e2d2c0" /><rect x="407.49" y="198.89" width="3.00" height="5.50" fill="#6e5a4e" /><rect x="407.49" y="198.89" width="3.00" height="1.50" fill="#caa98c" /><rect x="407.49" y="202.89" width="3.00" height="1.50" fill="#caa98c" /><rect x="289.65" y="255.85" width="4.20" height="2.20" fill="#b09888" /><rect x="289.65" y="255.85" width="1.20" height="2.20" fill="#caa98c" /><rect x="292.65" y="255.85" width="1.20" height="2.20" fill="#caa98c" /><rect x="262.95" y="176.49" width="2.20" height="4.20" fill="#b09888" /><rect x="262.95" y="176.49" width="2.20" height="1.20" fill="#c8b8a8" /><rect x="262.95" y="179.49" width="2.20" height="1.20" fill="#c8b8a8" /><rect x="287.97" y="157.65" width="3.20" height="3.20" fill="#2a2624" /><rect x="287.37" y="158.05" width="0.60" height="0.80" fill="#d8c4b0" /><rect x="291.17" y="158.05" width="0.60" height="0.80" fill="#d8c4b0" /><rect x="289.17" y="160.85" width="0.80" height="0.60" fill="#d8c4b0" /><rect x="445.82" y="406.70" width="4.20" height="2.20" fill="#8b7568" /><rect x="445.82" y="406.70" width="1.20" height="2.20" fill="#caa98c" /><rect x="448.82" y="406.70" width="1.20" height="2.20" fill="#caa98c" /><rect x="273.57" y="309.02" width="4.20" height="2.20" fill="#6e5a4e" /><rect x="273.57" y="309.02" width="1.20" height="2.20" fill="#caa98c" /><rect x="276.57" y="309.02" width="1.20" height="2.20" fill="#caa98c" /><rect x="276.26" y="339.23" width="2.20" height="4.20" fill="#2a221e" /><rect x="276.26" y="339.23" width="2.20" height="1.20" fill="#b89478" /><rect x="276.26" y="342.23" width="2.20" height="1.20" fill="#b89478" /><rect x="297.03" y="314.97" width="2.20" height="4.20" fill="#8b7568" /><rect x="297.03" y="314.97" width="2.20" height="1.20" fill="#d8c4b0" /><rect x="297.03" y="317.97" width="2.20" height="1.20" fill="#d8c4b0" /><rect x="318.60" y="401.40" width="2.20" height="4.20" fill="#9a6a48" /><rect x="318.60" y="401.40" width="2.20" height="1.20" fill="#caa98c" /><rect x="318.60" y="404.40" width="2.20" height="1.20" fill="#caa98c" /><rect x="304.41" y="158.27" width="4.20" height="2.20" fill="#2a221e" /><rect x="304.41" y="158.27" width="1.20" height="2.20" fill="#b89478" /><rect x="307.41" y="158.27" width="1.20" height="2.20" fill="#b89478" /><rect x="412.26" y="196.81" width="2.20" height="4.20" fill="#b09888" /><rect x="412.26" y="196.81" width="2.20" height="1.20" fill="#caa98c" /><rect x="412.26" y="199.81" width="2.20" height="1.20" fill="#caa98c" /><rect x="440.10" y="378.46" width="2.20" height="4.20" fill="#9a6a48" /><rect x="440.10" y="378.46" width="2.20" height="1.20" fill="#c8b8a8" /><rect x="440.10" y="381.46" width="2.20" height="1.20" fill="#c8b8a8" /><rect x="415.87" y="359.90" width="3.20" height="3.20" fill="#2a2624" /><rect x="415.27" y="360.30" width="0.60" height="0.80" fill="#e2d2c0" /><rect x="419.07" y="360.30" width="0.60" height="0.80" fill="#e2d2c0" /><rect x="417.07" y="363.10" width="0.80" height="0.60" fill="#e2d2c0" /><rect x="336.94" y="372.29" width="3.00" height="5.50" fill="#2a221e" /><rect x="336.94" y="372.29" width="3.00" height="1.50" fill="#b89478" /><rect x="336.94" y="376.29" width="3.00" height="1.50" fill="#b89478" /><rect x="339.50" y="297.58" width="2.20" height="4.20" fill="#3a2e28" /><rect x="339.50" y="297.58" width="2.20" height="1.20" fill="#b89478" /><rect x="339.50" y="300.58" width="2.20" height="1.20" fill="#b89478" /><rect x="267.78" y="182.98" width="2.20" height="4.20" fill="#b09888" /><rect x="267.78" y="182.98" width="2.20" height="1.20" fill="#d8c4b0" /><rect x="267.78" y="185.98" width="2.20" height="1.20" fill="#d8c4b0" /><rect x="309.29" y="414.33" width="4.20" height="2.20" fill="#9a6a48" /><rect x="309.29" y="414.33" width="1.20" height="2.20" fill="#b89478" /><rect x="312.29" y="414.33" width="1.20" height="2.20" fill="#b89478" /><rect x="302.82" y="132.84" width="4.20" height="2.20" fill="#3a2e28" /><rect x="302.82" y="132.84" width="1.20" height="2.20" fill="#c8b8a8" /><rect x="305.82" y="132.84" width="1.20" height="2.20" fill="#c8b8a8" /><rect x="426.84" y="189.38" width="4.20" height="2.20" fill="#6e5a4e" /><rect x="426.84" y="189.38" width="1.20" height="2.20" fill="#c8b8a8" /><rect x="429.84" y="189.38" width="1.20" height="2.20" fill="#c8b8a8" /><rect x="256.85" y="426.97" width="4.20" height="2.20" fill="#b09888" /><rect x="256.85" y="426.97" width="1.20" height="2.20" fill="#d8c4b0" /><rect x="259.85" y="426.97" width="1.20" height="2.20" fill="#d8c4b0" /><rect x="431.53" y="150.13" width="2.20" height="4.20" fill="#2a221e" /><rect x="431.53" y="150.13" width="2.20" height="1.20" fill="#c8b8a8" /><rect x="431.53" y="153.13" width="2.20" height="1.20" fill="#c8b8a8" /><rect x="331.80" y="132.98" width="4.20" height="2.20" fill="#9a6a48" /><rect x="331.80" y="132.98" width="1.20" height="2.20" fill="#b89478" /><rect x="334.80" y="132.98" width="1.20" height="2.20" fill="#b89478" /><rect x="405.78" y="311.36" width="4.20" height="2.20" fill="#8b7568" /><rect x="405.78" y="311.36" width="1.20" height="2.20" fill="#b89478" /><rect x="408.78" y="311.36" width="1.20" height="2.20" fill="#b89478" /><rect x="335.08" y="364.63" width="2.20" height="4.20" fill="#8b7568" /><rect x="335.08" y="364.63" width="2.20" height="1.20" fill="#d8c4b0" /><rect x="335.08" y="367.63" width="2.20" height="1.20" fill="#d8c4b0" /><rect x="260.87" y="212.16" width="5.50" height="3.00" fill="#6e5a4e" /><rect x="260.87" y="212.16" width="1.50" height="3.00" fill="#c8b8a8" /><rect x="264.87" y="212.16" width="1.50" height="3.00" fill="#c8b8a8" /><rect x="386.19" y="224.01" width="2.20" height="4.20" fill="#2a221e" /><rect x="386.19" y="224.01" width="2.20" height="1.20" fill="#b89478" /><rect x="386.19" y="227.01" width="2.20" height="1.20" fill="#b89478" /><rect x="271.70" y="178.90" width="3.20" height="3.20" fill="#2a2624" /><rect x="271.10" y="179.30" width="0.60" height="0.80" fill="#d8c4b0" /><rect x="274.90" y="179.30" width="0.60" height="0.80" fill="#d8c4b0" /><rect x="272.90" y="182.10" width="0.80" height="0.60" fill="#d8c4b0" /><rect x="311.26" y="263.82" width="4.20" height="2.20" fill="#9a6a48" /><rect x="311.26" y="263.82" width="1.20" height="2.20" fill="#c8b8a8" /><rect x="314.26" y="263.82" width="1.20" height="2.20" fill="#c8b8a8" /><rect x="331.76" y="177.89" width="4.20" height="2.20" fill="#9a6a48" /><rect x="331.76" y="177.89" width="1.20" height="2.20" fill="#e2d2c0" /><rect x="334.76" y="177.89" width="1.20" height="2.20" fill="#e2d2c0" /><rect x="314.64" y="277.91" width="4.20" height="2.20" fill="#6e5a4e" /><rect x="314.64" y="277.91" width="1.20" height="2.20" fill="#c8b8a8" /><rect x="317.64" y="277.91" width="1.20" height="2.20" fill="#c8b8a8" /><rect x="310.55" y="395.20" width="2.20" height="4.20" fill="#2a221e" /><rect x="310.55" y="395.20" width="2.20" height="1.20" fill="#b89478" /><rect x="310.55" y="398.20" width="2.20" height="1.20" fill="#b89478" /><rect x="264.30" y="204.84" width="4.20" height="2.20" fill="#6e5a4e" /><rect x="264.30" y="204.84" width="1.20" height="2.20" fill="#c8b8a8" /><rect x="267.30" y="204.84" width="1.20" height="2.20" fill="#c8b8a8" /><rect x="265.76" y="193.03" width="2.20" height="4.20" fill="#3a2e28" /><rect x="265.76" y="193.03" width="2.20" height="1.20" fill="#c8b8a8" /><rect x="265.76" y="196.03" width="2.20" height="1.20" fill="#c8b8a8" /><rect x="290.12" y="168.25" width="2.20" height="4.20" fill="#9a6a48" /><rect x="290.12" y="168.25" width="2.20" height="1.20" fill="#b89478" /><rect x="290.12" y="171.25" width="2.20" height="1.20" fill="#b89478" /><rect x="277.36" y="160.75" width="4.20" height="2.20" fill="#b09888" /><rect x="277.36" y="160.75" width="1.20" height="2.20" fill="#caa98c" /><rect x="280.36" y="160.75" width="1.20" height="2.20" fill="#caa98c" /><rect x="371.96" y="194.67" width="2.20" height="4.20" fill="#6e5a4e" /><rect x="371.96" y="194.67" width="2.20" height="1.20" fill="#c8b8a8" /><rect x="371.96" y="197.67" width="2.20" height="1.20" fill="#c8b8a8" /><rect x="282.39" y="355.87" width="5.50" height="3.00" fill="#2a221e" /><rect x="282.39" y="355.87" width="1.50" height="3.00" fill="#c8b8a8" /><rect x="286.39" y="355.87" width="1.50" height="3.00" fill="#c8b8a8" /><rect x="276.21" y="232.52" width="4.20" height="2.20" fill="#6e5a4e" /><rect x="276.21" y="232.52" width="1.20" height="2.20" fill="#d8c4b0" /><rect x="279.21" y="232.52" width="1.20" height="2.20" fill="#d8c4b0" /><rect x="393.15" y="201.65" width="2.20" height="4.20" fill="#2a221e" /><rect x="393.15" y="201.65" width="2.20" height="1.20" fill="#caa98c" /><rect x="393.15" y="204.65" width="2.20" height="1.20" fill="#caa98c" /><rect x="295.87" y="249.38" width="3.20" height="3.20" fill="#2a2624" /><rect x="295.27" y="249.78" width="0.60" height="0.80" fill="#e2d2c0" /><rect x="299.07" y="249.78" width="0.60" height="0.80" fill="#e2d2c0" /><rect x="297.07" y="252.58" width="0.80" height="0.60" fill="#e2d2c0" /><rect x="290.77" y="361.84" width="4.20" height="2.20" fill="#b09888" /><rect x="290.77" y="361.84" width="1.20" height="2.20" fill="#c8b8a8" /><rect x="293.77" y="361.84" width="1.20" height="2.20" fill="#c8b8a8" /><rect x="441.95" y="152.66" width="2.20" height="4.20" fill="#9a6a48" /><rect x="441.95" y="152.66" width="2.20" height="1.20" fill="#c8b8a8" /><rect x="441.95" y="155.66" width="2.20" height="1.20" fill="#c8b8a8" /><rect x="413.68" y="238.63" width="2.20" height="4.20" fill="#6e5a4e" /><rect x="413.68" y="238.63" width="2.20" height="1.20" fill="#e2d2c0" /><rect x="413.68" y="241.63" width="2.20" height="1.20" fill="#e2d2c0" /><rect x="379.65" y="386.56" width="4.20" height="2.20" fill="#8b7568" /><rect x="379.65" y="386.56" width="1.20" height="2.20" fill="#b89478" /><rect x="382.65" y="386.56" width="1.20" height="2.20" fill="#b89478" /><rect x="318.96" y="266.23" width="4.20" height="2.20" fill="#b09888" /><rect x="318.96" y="266.23" width="1.20" height="2.20" fill="#d8c4b0" /><rect x="321.96" y="266.23" width="1.20" height="2.20" fill="#d8c4b0" /><rect x="356.35" y="216.55" width="4.20" height="2.20" fill="#b09888" /><rect x="356.35" y="216.55" width="1.20" height="2.20" fill="#d8c4b0" /><rect x="359.35" y="216.55" width="1.20" height="2.20" fill="#d8c4b0" /><rect x="405.48" y="256.80" width="2.20" height="4.20" fill="#3a2e28" /><rect x="405.48" y="256.80" width="2.20" height="1.20" fill="#e2d2c0" /><rect x="405.48" y="259.80" width="2.20" height="1.20" fill="#e2d2c0" /><rect x="329.89" y="304.50" width="4.20" height="2.20" fill="#6e5a4e" /><rect x="329.89" y="304.50" width="1.20" height="2.20" fill="#caa98c" /><rect x="332.89" y="304.50" width="1.20" height="2.20" fill="#caa98c" /><rect x="281.14" y="141.67" width="2.20" height="4.20" fill="#9a6a48" /><rect x="281.14" y="141.67" width="2.20" height="1.20" fill="#c8b8a8" /><rect x="281.14" y="144.67" width="2.20" height="1.20" fill="#c8b8a8" /><rect x="357.69" y="289.25" width="4.20" height="2.20" fill="#b09888" /><rect x="357.69" y="289.25" width="1.20" height="2.20" fill="#caa98c" /><rect x="360.69" y="289.25" width="1.20" height="2.20" fill="#caa98c" /><rect x="366.86" y="292.12" width="2.20" height="4.20" fill="#6e5a4e" /><rect x="366.86" y="292.12" width="2.20" height="1.20" fill="#d8c4b0" /><rect x="366.86" y="295.12" width="2.20" height="1.20" fill="#d8c4b0" /><rect x="458.75" y="408.85" width="3.20" height="3.20" fill="#2a2624" /><rect x="458.15" y="409.25" width="0.60" height="0.80" fill="#e2d2c0" /><rect x="461.95" y="409.25" width="0.60" height="0.80" fill="#e2d2c0" /><rect x="459.95" y="412.05" width="0.80" height="0.60" fill="#e2d2c0" /><rect x="314.77" y="270.02" width="4.20" height="2.20" fill="#6e5a4e" /><rect x="314.77" y="270.02" width="1.20" height="2.20" fill="#d8c4b0" /><rect x="317.77" y="270.02" width="1.20" height="2.20" fill="#d8c4b0" /><rect x="278.47" y="311.85" width="1.30" height="7.79" fill="#8e5426" opacity="0.75"/><rect x="262.67" y="172.46" width="1.30" height="3.19" fill="#a8652c" opacity="0.75"/><rect x="267.68" y="327.65" width="5.60" height="1.30" fill="#b87034" opacity="0.75"/><rect x="263.37" y="208.74" width="4.56" height="1.30" fill="#a8652c" opacity="0.75"/><rect x="279.94" y="300.59" width="1.30" height="5.76" fill="#8e5426" opacity="0.75"/><rect x="260.26" y="222.92" width="1.30" height="6.05" fill="#8e5426" opacity="0.75"/><rect x="279.28" y="289.58" width="1.30" height="5.92" fill="#8e5426" opacity="0.75"/><rect x="269.80" y="166.18" width="4.16" height="1.30" fill="#b87034" opacity="0.75"/><rect x="273.34" y="171.35" width="1.30" height="4.26" fill="#b87034" opacity="0.75"/><rect x="260.46" y="187.07" width="6.36" height="1.30" fill="#b87034" opacity="0.75"/><rect x="275.32" y="229.83" width="4.29" height="1.30" fill="#a8652c" opacity="0.75"/><rect x="264.41" y="219.94" width="4.17" height="1.30" fill="#a8652c" opacity="0.75"/><rect x="260.59" y="239.96" width="1.30" height="11.30" fill="#8e5426" opacity="0.75"/><rect x="268.35" y="168.65" width="1.30" height="6.89" fill="#8e5426" opacity="0.75"/><rect x="272.30" y="327.67" width="6.34" height="1.30" fill="#b87034" opacity="0.75"/><rect x="262.16" y="317.08" width="1.30" height="4.82" fill="#8e5426" opacity="0.75"/><rect x="277.91" y="174.64" width="1.30" height="9.14" fill="#b87034" opacity="0.75"/><rect x="275.83" y="301.98" width="1.30" height="4.47" fill="#b87034" opacity="0.75"/><rect x="260.05" y="245.40" width="1.30" height="8.16" fill="#b87034" opacity="0.75"/><rect x="270.86" y="195.65" width="10.35" height="1.30" fill="#8e5426" opacity="0.75"/><rect x="263.41" y="181.29" width="1.30" height="6.83" fill="#b87034" opacity="0.75"/><rect x="277.14" y="300.39" width="4.00" height="1.30" fill="#8e5426" opacity="0.75"/><rect x="260.18" y="251.30" width="1.30" height="3.26" fill="#b87034" opacity="0.75"/><rect x="272.15" y="153.92" width="1.30" height="6.66" fill="#a8652c" opacity="0.75"/><rect x="278.21" y="207.88" width="1.30" height="6.21" fill="#a8652c" opacity="0.75"/><rect x="266.55" y="174.20" width="3.43" height="1.30" fill="#a8652c" opacity="0.75"/><rect x="272.57" y="312.80" width="3.06" height="1.30" fill="#b87034" opacity="0.75"/><rect x="276.73" y="149.92" width="3.81" height="1.30" fill="#8e5426" opacity="0.75"/><rect x="278.25" y="152.13" width="1.30" height="4.22" fill="#b87034" opacity="0.75"/><rect x="260.46" y="172.52" width="8.87" height="1.30" fill="#b87034" opacity="0.75"/><rect x="273.68" y="236.43" width="11.55" height="1.30" fill="#b87034" opacity="0.75"/><rect x="278.96" y="237.15" width="11.69" height="1.30" fill="#a8652c" opacity="0.75"/><rect x="281.09" y="199.95" width="11.65" height="1.30" fill="#b87034" opacity="0.75"/><rect x="262.18" y="301.51" width="5.37" height="1.30" fill="#b87034" opacity="0.75"/><rect x="263.57" y="323.14" width="3.54" height="1.30" fill="#a8652c" opacity="0.75"/><rect x="280.40" y="236.99" width="3.39" height="1.30" fill="#a8652c" opacity="0.75"/><rect x="281.56" y="197.56" width="6.95" height="1.30" fill="#a8652c" opacity="0.75"/><rect x="260.97" y="161.26" width="3.29" height="1.30" fill="#a8652c" opacity="0.75"/><rect x="261.42" y="153.86" width="1.30" height="11.24" fill="#8e5426" opacity="0.75"/><rect x="275.35" y="151.48" width="2.20" height="4.20" fill="#8b7568" /><rect x="275.35" y="151.48" width="2.20" height="1.20" fill="#d8c4b0" /><rect x="275.35" y="154.48" width="2.20" height="1.20" fill="#d8c4b0" /><rect x="261.25" y="216.22" width="4.20" height="2.20" fill="#8b7568" /><rect x="261.25" y="216.22" width="1.20" height="2.20" fill="#b89478" /><rect x="264.25" y="216.22" width="1.20" height="2.20" fill="#b89478" /><rect x="269.21" y="302.60" width="2.20" height="4.20" fill="#9a6a48" /><rect x="269.21" y="302.60" width="2.20" height="1.20" fill="#d8c4b0" /><rect x="269.21" y="305.60" width="2.20" height="1.20" fill="#d8c4b0" /><rect x="269.55" y="193.62" width="2.20" height="4.20" fill="#3a2e28" /><rect x="269.55" y="193.62" width="2.20" height="1.20" fill="#b89478" /><rect x="269.55" y="196.62" width="2.20" height="1.20" fill="#b89478" /><rect x="275.92" y="181.02" width="2.20" height="4.20" fill="#2a221e" /><rect x="275.92" y="181.02" width="2.20" height="1.20" fill="#caa98c" /><rect x="275.92" y="184.02" width="2.20" height="1.20" fill="#caa98c" /><rect x="267.98" y="323.63" width="4.20" height="2.20" fill="#9a6a48" /><rect x="267.98" y="323.63" width="1.20" height="2.20" fill="#e2d2c0" /><rect x="270.98" y="323.63" width="1.20" height="2.20" fill="#e2d2c0" /><rect x="264.33" y="219.86" width="2.20" height="4.20" fill="#3a2e28" /><rect x="264.33" y="219.86" width="2.20" height="1.20" fill="#b89478" /><rect x="264.33" y="222.86" width="2.20" height="1.20" fill="#b89478" /><rect x="260.82" y="235.15" width="4.20" height="2.20" fill="#2a221e" /><rect x="260.82" y="235.15" width="1.20" height="2.20" fill="#caa98c" /><rect x="263.82" y="235.15" width="1.20" height="2.20" fill="#caa98c" /><rect x="269.48" y="298.11" width="4.20" height="2.20" fill="#6e5a4e" /><rect x="269.48" y="298.11" width="1.20" height="2.20" fill="#e2d2c0" /><rect x="272.48" y="298.11" width="1.20" height="2.20" fill="#e2d2c0" /><rect x="269.21" y="226.41" width="2.20" height="4.20" fill="#9a6a48" /><rect x="269.21" y="226.41" width="2.20" height="1.20" fill="#e2d2c0" /><rect x="269.21" y="229.41" width="2.20" height="1.20" fill="#e2d2c0" /><rect x="266.21" y="189.33" width="4.20" height="2.20" fill="#9a6a48" /><rect x="266.21" y="189.33" width="1.20" height="2.20" fill="#d8c4b0" /><rect x="269.21" y="189.33" width="1.20" height="2.20" fill="#d8c4b0" /><rect x="277.20" y="302.28" width="3.00" height="5.50" fill="#3a2e28" /><rect x="277.20" y="302.28" width="3.00" height="1.50" fill="#e2d2c0" /><rect x="277.20" y="306.28" width="3.00" height="1.50" fill="#e2d2c0" /><rect x="262.80" y="153.84" width="4.20" height="2.20" fill="#9a6a48" /><rect x="262.80" y="153.84" width="1.20" height="2.20" fill="#c8b8a8" /><rect x="265.80" y="153.84" width="1.20" height="2.20" fill="#c8b8a8" /><rect x="267.32" y="169.61" width="2.20" height="4.20" fill="#3a2e28" /><rect x="267.32" y="169.61" width="2.20" height="1.20" fill="#e2d2c0" /><rect x="267.32" y="172.61" width="2.20" height="1.20" fill="#e2d2c0" /><rect x="260.60" y="222.23" width="2.20" height="4.20" fill="#9a6a48" /><rect x="260.60" y="222.23" width="2.20" height="1.20" fill="#caa98c" /><rect x="260.60" y="225.23" width="2.20" height="1.20" fill="#caa98c" /><rect x="273.03" y="313.98" width="2.20" height="4.20" fill="#2a221e" /><rect x="273.03" y="313.98" width="2.20" height="1.20" fill="#c8b8a8" /><rect x="273.03" y="316.98" width="2.20" height="1.20" fill="#c8b8a8" /><rect x="277.29" y="227.36" width="2.20" height="4.20" fill="#6e5a4e" /><rect x="277.29" y="227.36" width="2.20" height="1.20" fill="#caa98c" /><rect x="277.29" y="230.36" width="2.20" height="1.20" fill="#caa98c" /><rect x="271.79" y="187.73" width="2.20" height="4.20" fill="#2a221e" /><rect x="271.79" y="187.73" width="2.20" height="1.20" fill="#b89478" /><rect x="271.79" y="190.73" width="2.20" height="1.20" fill="#b89478" /><rect x="273.85" y="303.84" width="2.20" height="4.20" fill="#3a2e28" /><rect x="273.85" y="303.84" width="2.20" height="1.20" fill="#e2d2c0" /><rect x="273.85" y="306.84" width="2.20" height="1.20" fill="#e2d2c0" /><rect x="262.95" y="296.65" width="5.50" height="3.00" fill="#3a2e28" /><rect x="262.95" y="296.65" width="1.50" height="3.00" fill="#d8c4b0" /><rect x="266.95" y="296.65" width="1.50" height="3.00" fill="#d8c4b0" /><rect x="272.97" y="235.45" width="4.20" height="2.20" fill="#2a221e" /><rect x="272.97" y="235.45" width="1.20" height="2.20" fill="#d8c4b0" /><rect x="275.97" y="235.45" width="1.20" height="2.20" fill="#d8c4b0" /><rect x="267.75" y="290.71" width="2.20" height="4.20" fill="#8b7568" /><rect x="267.75" y="290.71" width="2.20" height="1.20" fill="#c8b8a8" /><rect x="267.75" y="293.71" width="2.20" height="1.20" fill="#c8b8a8" /><rect x="260.87" y="239.25" width="5.50" height="3.00" fill="#8b7568" /><rect x="260.87" y="239.25" width="1.50" height="3.00" fill="#c8b8a8" /><rect x="264.87" y="239.25" width="1.50" height="3.00" fill="#c8b8a8" /><rect x="260.45" y="228.99" width="4.20" height="2.20" fill="#2a221e" /><rect x="260.45" y="228.99" width="1.20" height="2.20" fill="#b89478" /><rect x="263.45" y="228.99" width="1.20" height="2.20" fill="#b89478" /><rect x="277.08" y="319.98" width="2.20" height="4.20" fill="#2a221e" /><rect x="277.08" y="319.98" width="2.20" height="1.20" fill="#e2d2c0" /><rect x="277.08" y="322.98" width="2.20" height="1.20" fill="#e2d2c0" /><rect x="261.76" y="323.73" width="2.20" height="4.20" fill="#6e5a4e" /><rect x="261.76" y="323.73" width="2.20" height="1.20" fill="#d8c4b0" /><rect x="261.76" y="326.73" width="2.20" height="1.20" fill="#d8c4b0" /><rect x="275.26" y="174.30" width="4.20" height="2.20" fill="#8b7568" /><rect x="275.26" y="174.30" width="1.20" height="2.20" fill="#b89478" /><rect x="278.26" y="174.30" width="1.20" height="2.20" fill="#b89478" /><rect x="276.48" y="189.23" width="2.20" height="4.20" fill="#3a2e28" /><rect x="276.48" y="189.23" width="2.20" height="1.20" fill="#caa98c" /><rect x="276.48" y="192.23" width="2.20" height="1.20" fill="#caa98c" /><rect x="277.44" y="325.78" width="2.20" height="4.20" fill="#b09888" /><rect x="277.44" y="325.78" width="2.20" height="1.20" fill="#b89478" /><rect x="277.44" y="328.78" width="2.20" height="1.20" fill="#b89478" /><rect x="261.77" y="160.95" width="4.20" height="2.20" fill="#b09888" /><rect x="261.77" y="160.95" width="1.20" height="2.20" fill="#c8b8a8" /><rect x="264.77" y="160.95" width="1.20" height="2.20" fill="#c8b8a8" /><rect x="264.74" y="208.32" width="4.20" height="2.20" fill="#8b7568" /><rect x="264.74" y="208.32" width="1.20" height="2.20" fill="#e2d2c0" /><rect x="267.74" y="208.32" width="1.20" height="2.20" fill="#e2d2c0" /><rect x="269.06" y="221.71" width="4.20" height="2.20" fill="#2a221e" /><rect x="269.06" y="221.71" width="1.20" height="2.20" fill="#c8b8a8" /><rect x="272.06" y="221.71" width="1.20" height="2.20" fill="#c8b8a8" /><rect x="272.46" y="194.05" width="3.20" height="3.20" fill="#2a2624" /><rect x="271.86" y="194.45" width="0.60" height="0.80" fill="#b89478" /><rect x="275.66" y="194.45" width="0.60" height="0.80" fill="#b89478" /><rect x="273.66" y="197.25" width="0.80" height="0.60" fill="#b89478" /><rect x="270.22" y="159.59" width="2.20" height="4.20" fill="#6e5a4e" /><rect x="270.22" y="159.59" width="2.20" height="1.20" fill="#e2d2c0" /><rect x="270.22" y="162.59" width="2.20" height="1.20" fill="#e2d2c0" /><rect x="269.33" y="316.79" width="2.20" height="4.20" fill="#2a221e" /><rect x="269.33" y="316.79" width="2.20" height="1.20" fill="#c8b8a8" /><rect x="269.33" y="319.79" width="2.20" height="1.20" fill="#c8b8a8" /><rect x="274.02" y="222.95" width="2.20" height="4.20" fill="#b09888" /><rect x="274.02" y="222.95" width="2.20" height="1.20" fill="#e2d2c0" /><rect x="274.02" y="225.95" width="2.20" height="1.20" fill="#e2d2c0" /><rect x="261.11" y="184.04" width="5.50" height="3.00" fill="#8b7568" /><rect x="261.11" y="184.04" width="1.50" height="3.00" fill="#d8c4b0" /><rect x="265.11" y="184.04" width="1.50" height="3.00" fill="#d8c4b0" /><rect x="276.01" y="156.74" width="4.20" height="2.20" fill="#6e5a4e" /><rect x="276.01" y="156.74" width="1.20" height="2.20" fill="#c8b8a8" /><rect x="279.01" y="156.74" width="1.20" height="2.20" fill="#c8b8a8" /><rect x="391.98" y="292.96" width="8.03" height="1.30" fill="#b87034" opacity="0.75"/><rect x="395.71" y="293.76" width="11.57" height="1.30" fill="#b87034" opacity="0.75"/><rect x="377.18" y="301.55" width="1.30" height="7.23" fill="#a8652c" opacity="0.75"/><rect x="371.97" y="289.81" width="3.71" height="1.30" fill="#b87034" opacity="0.75"/><rect x="344.35" y="296.51" width="1.30" height="6.59" fill="#b87034" opacity="0.75"/><rect x="325.24" y="299.75" width="1.30" height="7.51" fill="#a8652c" opacity="0.75"/><rect x="328.26" y="292.61" width="10.10" height="1.30" fill="#b87034" opacity="0.75"/><rect x="345.79" y="302.38" width="9.17" height="1.30" fill="#b87034" opacity="0.75"/><rect x="370.82" y="293.65" width="9.60" height="1.30" fill="#b87034" opacity="0.75"/><rect x="305.54" y="295.28" width="1.30" height="8.90" fill="#8e5426" opacity="0.75"/><rect x="332.92" y="309.21" width="10.81" height="1.30" fill="#8e5426" opacity="0.75"/><rect x="337.70" y="292.37" width="6.63" height="1.30" fill="#8e5426" opacity="0.75"/><rect x="326.04" y="300.10" width="1.30" height="5.57" fill="#a8652c" opacity="0.75"/><rect x="341.10" y="304.50" width="7.02" height="1.30" fill="#b87034" opacity="0.75"/><rect x="377.97" y="310.28" width="5.63" height="1.30" fill="#a8652c" opacity="0.75"/><rect x="338.69" y="306.09" width="1.30" height="3.12" fill="#b87034" opacity="0.75"/><rect x="315.07" y="288.80" width="5.78" height="1.30" fill="#8e5426" opacity="0.75"/><rect x="318.92" y="305.36" width="1.30" height="6.28" fill="#8e5426" opacity="0.75"/><rect x="326.52" y="308.76" width="5.12" height="1.30" fill="#8e5426" opacity="0.75"/><rect x="316.95" y="291.23" width="7.35" height="1.30" fill="#a8652c" opacity="0.75"/><rect x="373.90" y="295.80" width="6.15" height="1.30" fill="#a8652c" opacity="0.75"/><rect x="395.14" y="303.47" width="1.30" height="5.30" fill="#a8652c" opacity="0.75"/><rect x="315.72" y="288.03" width="9.47" height="1.30" fill="#b87034" opacity="0.75"/><rect x="371.42" y="300.82" width="8.07" height="1.30" fill="#a8652c" opacity="0.75"/><rect x="390.52" y="296.41" width="9.45" height="1.30" fill="#b87034" opacity="0.75"/><rect x="395.53" y="306.24" width="1.30" height="4.02" fill="#a8652c" opacity="0.75"/><rect x="383.40" y="296.63" width="10.46" height="1.30" fill="#b87034" opacity="0.75"/><rect x="341.72" y="304.02" width="1.30" height="6.34" fill="#a8652c" opacity="0.75"/><rect x="400.01" y="296.47" width="1.30" height="6.77" fill="#8e5426" opacity="0.75"/><rect x="353.79" y="302.25" width="5.10" height="1.30" fill="#b87034" opacity="0.75"/><rect x="325.52" y="295.09" width="6.43" height="1.30" fill="#a8652c" opacity="0.75"/><rect x="394.16" y="297.81" width="11.64" height="1.30" fill="#a8652c" opacity="0.75"/><rect x="309.24" y="288.46" width="4.84" height="1.30" fill="#a8652c" opacity="0.75"/><rect x="373.10" y="296.73" width="4.20" height="2.20" fill="#3a2e28" /><rect x="373.10" y="296.73" width="1.20" height="2.20" fill="#d8c4b0" /><rect x="376.10" y="296.73" width="1.20" height="2.20" fill="#d8c4b0" /><rect x="319.66" y="306.81" width="2.20" height="4.20" fill="#2a221e" /><rect x="319.66" y="306.81" width="2.20" height="1.20" fill="#b89478" /><rect x="319.66" y="309.81" width="2.20" height="1.20" fill="#b89478" /><rect x="340.38" y="307.09" width="3.20" height="3.20" fill="#2a2624" /><rect x="339.78" y="307.49" width="0.60" height="0.80" fill="#e2d2c0" /><rect x="343.58" y="307.49" width="0.60" height="0.80" fill="#e2d2c0" /><rect x="341.58" y="310.29" width="0.80" height="0.60" fill="#e2d2c0" /><rect x="397.27" y="292.01" width="4.20" height="2.20" fill="#8b7568" /><rect x="397.27" y="292.01" width="1.20" height="2.20" fill="#e2d2c0" /><rect x="400.27" y="292.01" width="1.20" height="2.20" fill="#e2d2c0" /><rect x="382.28" y="292.76" width="2.20" height="4.20" fill="#9a6a48" /><rect x="382.28" y="292.76" width="2.20" height="1.20" fill="#e2d2c0" /><rect x="382.28" y="295.76" width="2.20" height="1.20" fill="#e2d2c0" /><rect x="350.37" y="304.05" width="4.20" height="2.20" fill="#2a221e" /><rect x="350.37" y="304.05" width="1.20" height="2.20" fill="#e2d2c0" /><rect x="353.37" y="304.05" width="1.20" height="2.20" fill="#e2d2c0" /><rect x="346.12" y="292.22" width="4.20" height="2.20" fill="#8b7568" /><rect x="346.12" y="292.22" width="1.20" height="2.20" fill="#caa98c" /><rect x="349.12" y="292.22" width="1.20" height="2.20" fill="#caa98c" /><rect x="377.16" y="302.89" width="4.20" height="2.20" fill="#3a2e28" /><rect x="377.16" y="302.89" width="1.20" height="2.20" fill="#b89478" /><rect x="380.16" y="302.89" width="1.20" height="2.20" fill="#b89478" /><rect x="392.04" y="294.48" width="4.20" height="2.20" fill="#9a6a48" /><rect x="392.04" y="294.48" width="1.20" height="2.20" fill="#d8c4b0" /><rect x="395.04" y="294.48" width="1.20" height="2.20" fill="#d8c4b0" /><rect x="404.45" y="300.56" width="4.20" height="2.20" fill="#6e5a4e" /><rect x="404.45" y="300.56" width="1.20" height="2.20" fill="#caa98c" /><rect x="407.45" y="300.56" width="1.20" height="2.20" fill="#caa98c" /><rect x="321.18" y="301.67" width="3.20" height="3.20" fill="#2a2624" /><rect x="320.58" y="302.07" width="0.60" height="0.80" fill="#b89478" /><rect x="324.38" y="302.07" width="0.60" height="0.80" fill="#b89478" /><rect x="322.38" y="304.87" width="0.80" height="0.60" fill="#b89478" /><rect x="342.44" y="303.13" width="4.20" height="2.20" fill="#9a6a48" /><rect x="342.44" y="303.13" width="1.20" height="2.20" fill="#caa98c" /><rect x="345.44" y="303.13" width="1.20" height="2.20" fill="#caa98c" /><rect x="368.75" y="303.55" width="4.20" height="2.20" fill="#3a2e28" /><rect x="368.75" y="303.55" width="1.20" height="2.20" fill="#e2d2c0" /><rect x="371.75" y="303.55" width="1.20" height="2.20" fill="#e2d2c0" /><rect x="387.91" y="294.13" width="3.00" height="5.50" fill="#6e5a4e" /><rect x="387.91" y="294.13" width="3.00" height="1.50" fill="#c8b8a8" /><rect x="387.91" y="298.13" width="3.00" height="1.50" fill="#c8b8a8" /><rect x="401.06" y="301.19" width="2.20" height="4.20" fill="#3a2e28" /><rect x="401.06" y="301.19" width="2.20" height="1.20" fill="#d8c4b0" /><rect x="401.06" y="304.19" width="2.20" height="1.20" fill="#d8c4b0" /><rect x="313.01" y="289.36" width="4.20" height="2.20" fill="#3a2e28" /><rect x="313.01" y="289.36" width="1.20" height="2.20" fill="#e2d2c0" /><rect x="316.01" y="289.36" width="1.20" height="2.20" fill="#e2d2c0" /><rect x="401.58" y="295.34" width="3.20" height="3.20" fill="#2a2624" /><rect x="400.98" y="295.74" width="0.60" height="0.80" fill="#caa98c" /><rect x="404.78" y="295.74" width="0.60" height="0.80" fill="#caa98c" /><rect x="402.78" y="298.54" width="0.80" height="0.60" fill="#caa98c" /><rect x="329.16" y="294.30" width="2.20" height="4.20" fill="#2a221e" /><rect x="329.16" y="294.30" width="2.20" height="1.20" fill="#d8c4b0" /><rect x="329.16" y="297.30" width="2.20" height="1.20" fill="#d8c4b0" /><rect x="311.82" y="307.41" width="4.20" height="2.20" fill="#3a2e28" /><rect x="311.82" y="307.41" width="1.20" height="2.20" fill="#e2d2c0" /><rect x="314.82" y="307.41" width="1.20" height="2.20" fill="#e2d2c0" /><rect x="305.74" y="300.44" width="3.20" height="3.20" fill="#2a2624" /><rect x="305.14" y="300.84" width="0.60" height="0.80" fill="#b89478" /><rect x="308.94" y="300.84" width="0.60" height="0.80" fill="#b89478" /><rect x="306.94" y="303.64" width="0.80" height="0.60" fill="#b89478" /><rect x="344.39" y="296.20" width="4.20" height="2.20" fill="#9a6a48" /><rect x="344.39" y="296.20" width="1.20" height="2.20" fill="#b89478" /><rect x="347.39" y="296.20" width="1.20" height="2.20" fill="#b89478" /><rect x="341.01" y="289.04" width="4.20" height="2.20" fill="#3a2e28" /><rect x="341.01" y="289.04" width="1.20" height="2.20" fill="#d8c4b0" /><rect x="344.01" y="289.04" width="1.20" height="2.20" fill="#d8c4b0" /><rect x="375.33" y="306.24" width="2.20" height="4.20" fill="#2a221e" /><rect x="375.33" y="306.24" width="2.20" height="1.20" fill="#d8c4b0" /><rect x="375.33" y="309.24" width="2.20" height="1.20" fill="#d8c4b0" /><rect x="325.66" y="307.13" width="3.20" height="3.20" fill="#2a2624" /><rect x="325.06" y="307.53" width="0.60" height="0.80" fill="#e2d2c0" /><rect x="328.86" y="307.53" width="0.60" height="0.80" fill="#e2d2c0" /><rect x="326.86" y="310.33" width="0.80" height="0.60" fill="#e2d2c0" /><rect x="386.08" y="289.79" width="5.50" height="3.00" fill="#b09888" /><rect x="386.08" y="289.79" width="1.50" height="3.00" fill="#b89478" /><rect x="390.08" y="289.79" width="1.50" height="3.00" fill="#b89478" /><rect x="392.63" y="301.84" width="3.20" height="3.20" fill="#2a2624" /><rect x="392.03" y="302.24" width="0.60" height="0.80" fill="#d8c4b0" /><rect x="395.83" y="302.24" width="0.60" height="0.80" fill="#d8c4b0" /><rect x="393.83" y="305.04" width="0.80" height="0.60" fill="#d8c4b0" /><rect x="369.79" y="293.98" width="2.20" height="4.20" fill="#2a221e" /><rect x="369.79" y="293.98" width="2.20" height="1.20" fill="#b89478" /><rect x="369.79" y="296.98" width="2.20" height="1.20" fill="#b89478" /><rect x="314.29" y="302.24" width="2.20" height="4.20" fill="#6e5a4e" /><rect x="314.29" y="302.24" width="2.20" height="1.20" fill="#e2d2c0" /><rect x="314.29" y="305.24" width="2.20" height="1.20" fill="#e2d2c0" /><rect x="374.72" y="289.33" width="2.20" height="4.20" fill="#8b7568" /><rect x="374.72" y="289.33" width="2.20" height="1.20" fill="#b89478" /><rect x="374.72" y="292.33" width="2.20" height="1.20" fill="#b89478" /><rect x="335.24" y="291.39" width="3.20" height="3.20" fill="#2a2624" /><rect x="334.64" y="291.79" width="0.60" height="0.80" fill="#d8c4b0" /><rect x="338.44" y="291.79" width="0.60" height="0.80" fill="#d8c4b0" /><rect x="336.44" y="294.59" width="0.80" height="0.60" fill="#d8c4b0" /><rect x="406.43" y="305.46" width="2.20" height="4.20" fill="#2a221e" /><rect x="406.43" y="305.46" width="2.20" height="1.20" fill="#c8b8a8" /><rect x="406.43" y="308.46" width="2.20" height="1.20" fill="#c8b8a8" /><rect x="399.77" y="306.16" width="4.20" height="2.20" fill="#b09888" /><rect x="399.77" y="306.16" width="1.20" height="2.20" fill="#caa98c" /><rect x="402.77" y="306.16" width="1.20" height="2.20" fill="#caa98c" /><rect x="329.19" y="299.29" width="4.20" height="2.20" fill="#3a2e28" /><rect x="329.19" y="299.29" width="1.20" height="2.20" fill="#d8c4b0" /><rect x="332.19" y="299.29" width="1.20" height="2.20" fill="#d8c4b0" /><rect x="406.04" y="293.71" width="4.20" height="2.20" fill="#8b7568" /><rect x="406.04" y="293.71" width="1.20" height="2.20" fill="#b89478" /><rect x="409.04" y="293.71" width="1.20" height="2.20" fill="#b89478" /><rect x="332.19" y="308.11" width="4.20" height="2.20" fill="#6e5a4e" /><rect x="332.19" y="308.11" width="1.20" height="2.20" fill="#e2d2c0" /><rect x="335.19" y="308.11" width="1.20" height="2.20" fill="#e2d2c0" /><rect x="378.38" y="293.76" width="3.00" height="5.50" fill="#b09888" /><rect x="378.38" y="293.76" width="3.00" height="1.50" fill="#d8c4b0" /><rect x="378.38" y="297.76" width="3.00" height="1.50" fill="#d8c4b0" /><rect x="383.61" y="307.07" width="2.20" height="4.20" fill="#6e5a4e" /><rect x="383.61" y="307.07" width="2.20" height="1.20" fill="#e2d2c0" /><rect x="383.61" y="310.07" width="2.20" height="1.20" fill="#e2d2c0" /><rect x="374.17" y="300.18" width="2.20" height="4.20" fill="#b09888" /><rect x="374.17" y="300.18" width="2.20" height="1.20" fill="#e2d2c0" /><rect x="374.17" y="303.18" width="2.20" height="1.20" fill="#e2d2c0" /><rect x="393.15" y="305.75" width="4.20" height="2.20" fill="#6e5a4e" /><rect x="393.15" y="305.75" width="1.20" height="2.20" fill="#e2d2c0" /><rect x="396.15" y="305.75" width="1.20" height="2.20" fill="#e2d2c0" /><rect x="318.00" y="290.47" width="4.20" height="2.20" fill="#9a6a48" /><rect x="318.00" y="290.47" width="1.20" height="2.20" fill="#b89478" /><rect x="321.00" y="290.47" width="1.20" height="2.20" fill="#b89478" /><rect x="353.57" y="308.25" width="4.20" height="2.20" fill="#2a221e" /><rect x="353.57" y="308.25" width="1.20" height="2.20" fill="#c8b8a8" /><rect x="356.57" y="308.25" width="1.20" height="2.20" fill="#c8b8a8" /><rect x="355.55" y="302.74" width="2.20" height="4.20" fill="#9a6a48" /><rect x="355.55" y="302.74" width="2.20" height="1.20" fill="#b89478" /><rect x="355.55" y="305.74" width="2.20" height="1.20" fill="#b89478" /><rect x="278.80" y="361.99" width="6.16" height="1.30" fill="#8e5426" opacity="0.75"/><rect x="281.32" y="361.26" width="9.09" height="1.30" fill="#b87034" opacity="0.75"/><rect x="270.22" y="362.85" width="3.58" height="1.30" fill="#b87034" opacity="0.75"/><rect x="285.62" y="362.32" width="2.20" height="4.20" fill="#2a221e" /><rect x="285.62" y="362.32" width="2.20" height="1.20" fill="#b89478" /><rect x="285.62" y="365.32" width="2.20" height="1.20" fill="#b89478" /><rect x="297.36" y="359.23" width="2.20" height="4.20" fill="#6e5a4e" /><rect x="297.36" y="359.23" width="2.20" height="1.20" fill="#e2d2c0" /><rect x="297.36" y="362.23" width="2.20" height="1.20" fill="#e2d2c0" /><rect x="277.24" y="360.68" width="2.20" height="4.20" fill="#b09888" /><rect x="277.24" y="360.68" width="2.20" height="1.20" fill="#caa98c" /><rect x="277.24" y="363.68" width="2.20" height="1.20" fill="#caa98c" /><rect x="241.96" y="359.65" width="4.20" height="2.20" fill="#8b7568" /><rect x="241.96" y="359.65" width="1.20" height="2.20" fill="#b89478" /><rect x="244.96" y="359.65" width="1.20" height="2.20" fill="#b89478" /><rect x="280.36" y="360.96" width="3.00" height="5.50" fill="#6e5a4e" /><rect x="280.36" y="360.96" width="3.00" height="1.50" fill="#d8c4b0" /><rect x="280.36" y="364.96" width="3.00" height="1.50" fill="#d8c4b0" /><rect x="300.41" y="360.78" width="2.20" height="4.20" fill="#3a2e28" /><rect x="300.41" y="360.78" width="2.20" height="1.20" fill="#b89478" /><rect x="300.41" y="363.78" width="2.20" height="1.20" fill="#b89478" /><rect x="291.90" y="358.73" width="4.20" height="2.20" fill="#b09888" /><rect x="291.90" y="358.73" width="1.20" height="2.20" fill="#caa98c" /><rect x="294.90" y="358.73" width="1.20" height="2.20" fill="#caa98c" /><rect x="402.49" y="363.52" width="1.30" height="8.99" fill="#b87034" opacity="0.75"/><rect x="388.53" y="359.41" width="1.30" height="8.87" fill="#a8652c" opacity="0.75"/><rect x="381.66" y="372.46" width="3.60" height="1.30" fill="#8e5426" opacity="0.75"/><rect x="386.25" y="368.31" width="1.30" height="4.74" fill="#b87034" opacity="0.75"/><rect x="386.88" y="360.30" width="1.30" height="6.91" fill="#a8652c" opacity="0.75"/><rect x="389.21" y="361.69" width="1.30" height="5.80" fill="#8e5426" opacity="0.75"/><rect x="422.78" y="363.22" width="1.30" height="10.33" fill="#8e5426" opacity="0.75"/><rect x="389.53" y="358.70" width="1.30" height="6.34" fill="#8e5426" opacity="0.75"/><rect x="403.25" y="359.34" width="1.30" height="10.69" fill="#b87034" opacity="0.75"/><rect x="416.55" y="374.06" width="1.30" height="3.22" fill="#a8652c" opacity="0.75"/><rect x="401.03" y="361.33" width="1.30" height="8.55" fill="#b87034" opacity="0.75"/><rect x="407.35" y="363.11" width="1.30" height="4.88" fill="#a8652c" opacity="0.75"/><rect x="420.80" y="357.37" width="1.30" height="11.39" fill="#8e5426" opacity="0.75"/><rect x="418.44" y="369.53" width="7.65" height="1.30" fill="#8e5426" opacity="0.75"/><rect x="384.24" y="362.85" width="8.49" height="1.30" fill="#a8652c" opacity="0.75"/><rect x="399.88" y="362.72" width="1.30" height="5.26" fill="#a8652c" opacity="0.75"/><rect x="378.36" y="360.93" width="11.62" height="1.30" fill="#8e5426" opacity="0.75"/><rect x="382.36" y="363.37" width="7.91" height="1.30" fill="#8e5426" opacity="0.75"/><rect x="392.55" y="369.46" width="4.64" height="1.30" fill="#b87034" opacity="0.75"/><rect x="400.43" y="357.70" width="1.30" height="11.47" fill="#a8652c" opacity="0.75"/><rect x="402.20" y="358.35" width="4.20" height="2.20" fill="#8b7568" /><rect x="402.20" y="358.35" width="1.20" height="2.20" fill="#c8b8a8" /><rect x="405.20" y="358.35" width="1.20" height="2.20" fill="#c8b8a8" /><rect x="387.07" y="363.91" width="3.00" height="5.50" fill="#2a221e" /><rect x="387.07" y="363.91" width="3.00" height="1.50" fill="#caa98c" /><rect x="387.07" y="367.91" width="3.00" height="1.50" fill="#caa98c" /><rect x="401.70" y="362.05" width="2.20" height="4.20" fill="#6e5a4e" /><rect x="401.70" y="362.05" width="2.20" height="1.20" fill="#caa98c" /><rect x="401.70" y="365.05" width="2.20" height="1.20" fill="#caa98c" /><rect x="405.69" y="361.74" width="2.20" height="4.20" fill="#b09888" /><rect x="405.69" y="361.74" width="2.20" height="1.20" fill="#caa98c" /><rect x="405.69" y="364.74" width="2.20" height="1.20" fill="#caa98c" /><rect x="420.99" y="362.94" width="3.20" height="3.20" fill="#2a2624" /><rect x="420.39" y="363.34" width="0.60" height="0.80" fill="#e2d2c0" /><rect x="424.19" y="363.34" width="0.60" height="0.80" fill="#e2d2c0" /><rect x="422.19" y="366.14" width="0.80" height="0.60" fill="#e2d2c0" /><rect x="395.89" y="367.82" width="4.20" height="2.20" fill="#9a6a48" /><rect x="395.89" y="367.82" width="1.20" height="2.20" fill="#d8c4b0" /><rect x="398.89" y="367.82" width="1.20" height="2.20" fill="#d8c4b0" /><rect x="379.93" y="361.92" width="2.20" height="4.20" fill="#6e5a4e" /><rect x="379.93" y="361.92" width="2.20" height="1.20" fill="#d8c4b0" /><rect x="379.93" y="364.92" width="2.20" height="1.20" fill="#d8c4b0" /><rect x="410.46" y="368.60" width="2.20" height="4.20" fill="#9a6a48" /><rect x="410.46" y="368.60" width="2.20" height="1.20" fill="#e2d2c0" /><rect x="410.46" y="371.60" width="2.20" height="1.20" fill="#e2d2c0" /><rect x="404.66" y="370.02" width="3.20" height="3.20" fill="#2a2624" /><rect x="404.06" y="370.42" width="0.60" height="0.80" fill="#caa98c" /><rect x="407.86" y="370.42" width="0.60" height="0.80" fill="#caa98c" /><rect x="405.86" y="373.22" width="0.80" height="0.60" fill="#caa98c" /><rect x="410.06" y="361.80" width="4.20" height="2.20" fill="#6e5a4e" /><rect x="410.06" y="361.80" width="1.20" height="2.20" fill="#d8c4b0" /><rect x="413.06" y="361.80" width="1.20" height="2.20" fill="#d8c4b0" /><rect x="401.21" y="367.51" width="2.20" height="4.20" fill="#6e5a4e" /><rect x="401.21" y="367.51" width="2.20" height="1.20" fill="#e2d2c0" /><rect x="401.21" y="370.51" width="2.20" height="1.20" fill="#e2d2c0" /><rect x="384.92" y="358.87" width="2.20" height="4.20" fill="#3a2e28" /><rect x="384.92" y="358.87" width="2.20" height="1.20" fill="#d8c4b0" /><rect x="384.92" y="361.87" width="2.20" height="1.20" fill="#d8c4b0" /><rect x="421.04" y="370.13" width="4.20" height="2.20" fill="#b09888" /><rect x="421.04" y="370.13" width="1.20" height="2.20" fill="#c8b8a8" /><rect x="424.04" y="370.13" width="1.20" height="2.20" fill="#c8b8a8" /><rect x="390.08" y="356.95" width="2.20" height="4.20" fill="#b09888" /><rect x="390.08" y="356.95" width="2.20" height="1.20" fill="#e2d2c0" /><rect x="390.08" y="359.95" width="2.20" height="1.20" fill="#e2d2c0" /><rect x="420.38" y="367.07" width="4.20" height="2.20" fill="#3a2e28" /><rect x="420.38" y="367.07" width="1.20" height="2.20" fill="#d8c4b0" /><rect x="423.38" y="367.07" width="1.20" height="2.20" fill="#d8c4b0" /><rect x="387.20" y="370.51" width="4.20" height="2.20" fill="#8b7568" /><rect x="387.20" y="370.51" width="1.20" height="2.20" fill="#e2d2c0" /><rect x="390.20" y="370.51" width="1.20" height="2.20" fill="#e2d2c0" /><rect x="390.91" y="362.31" width="2.20" height="4.20" fill="#b09888" /><rect x="390.91" y="362.31" width="2.20" height="1.20" fill="#caa98c" /><rect x="390.91" y="365.31" width="2.20" height="1.20" fill="#caa98c" /><rect x="400.83" y="225.20" width="1.30" height="4.25" fill="#b87034" opacity="0.75"/><rect x="395.96" y="192.89" width="8.94" height="1.30" fill="#8e5426" opacity="0.75"/><rect x="397.31" y="253.15" width="1.30" height="11.20" fill="#a8652c" opacity="0.75"/><rect x="402.06" y="212.88" width="7.00" height="1.30" fill="#8e5426" opacity="0.75"/><rect x="418.91" y="160.21" width="4.33" height="1.30" fill="#8e5426" opacity="0.75"/><rect x="397.14" y="222.24" width="1.30" height="9.28" fill="#a8652c" opacity="0.75"/><rect x="402.68" y="223.83" width="4.42" height="1.30" fill="#8e5426" opacity="0.75"/><rect x="422.08" y="178.06" width="1.30" height="3.24" fill="#8e5426" opacity="0.75"/><rect x="421.51" y="165.39" width="1.30" height="6.07" fill="#8e5426" opacity="0.75"/><rect x="420.84" y="177.67" width="1.30" height="4.29" fill="#b87034" opacity="0.75"/><rect x="401.25" y="245.61" width="9.50" height="1.30" fill="#8e5426" opacity="0.75"/><rect x="421.07" y="159.14" width="1.30" height="6.96" fill="#a8652c" opacity="0.75"/><rect x="403.46" y="192.43" width="1.30" height="6.97" fill="#b87034" opacity="0.75"/><rect x="399.24" y="214.32" width="1.30" height="9.71" fill="#8e5426" opacity="0.75"/><rect x="395.31" y="220.50" width="8.92" height="1.30" fill="#b87034" opacity="0.75"/><rect x="422.14" y="150.20" width="3.04" height="1.30" fill="#8e5426" opacity="0.75"/><rect x="398.23" y="258.69" width="1.30" height="6.99" fill="#8e5426" opacity="0.75"/><rect x="414.84" y="158.55" width="6.25" height="1.30" fill="#a8652c" opacity="0.75"/><rect x="421.17" y="147.23" width="1.30" height="4.82" fill="#a8652c" opacity="0.75"/><rect x="423.04" y="166.72" width="1.30" height="3.96" fill="#a8652c" opacity="0.75"/><rect x="422.09" y="152.79" width="1.30" height="4.06" fill="#8e5426" opacity="0.75"/><rect x="399.71" y="211.29" width="1.30" height="6.65" fill="#8e5426" opacity="0.75"/><rect x="401.39" y="204.78" width="9.71" height="1.30" fill="#b87034" opacity="0.75"/><rect x="411.44" y="201.32" width="1.30" height="11.24" fill="#8e5426" opacity="0.75"/><rect x="423.82" y="184.17" width="1.30" height="5.16" fill="#b87034" opacity="0.75"/><rect x="396.24" y="174.50" width="1.30" height="11.01" fill="#a8652c" opacity="0.75"/><rect x="417.33" y="151.10" width="10.27" height="1.30" fill="#a8652c" opacity="0.75"/><rect x="422.12" y="158.23" width="1.30" height="5.37" fill="#a8652c" opacity="0.75"/><rect x="403.53" y="236.95" width="11.77" height="1.30" fill="#8e5426" opacity="0.75"/><rect x="396.52" y="218.34" width="6.07" height="1.30" fill="#a8652c" opacity="0.75"/><rect x="402.69" y="194.41" width="1.30" height="7.54" fill="#b87034" opacity="0.75"/><rect x="416.63" y="154.66" width="4.20" height="2.20" fill="#b09888" /><rect x="416.63" y="154.66" width="1.20" height="2.20" fill="#caa98c" /><rect x="419.63" y="154.66" width="1.20" height="2.20" fill="#caa98c" /><rect x="411.32" y="203.91" width="4.20" height="2.20" fill="#3a2e28" /><rect x="411.32" y="203.91" width="1.20" height="2.20" fill="#caa98c" /><rect x="414.32" y="203.91" width="1.20" height="2.20" fill="#caa98c" /><rect x="405.57" y="194.89" width="5.50" height="3.00" fill="#9a6a48" /><rect x="405.57" y="194.89" width="1.50" height="3.00" fill="#caa98c" /><rect x="409.57" y="194.89" width="1.50" height="3.00" fill="#caa98c" /><rect x="402.71" y="208.78" width="5.50" height="3.00" fill="#2a221e" /><rect x="402.71" y="208.78" width="1.50" height="3.00" fill="#b89478" /><rect x="406.71" y="208.78" width="1.50" height="3.00" fill="#b89478" /><rect x="395.22" y="216.13" width="2.20" height="4.20" fill="#3a2e28" /><rect x="395.22" y="216.13" width="2.20" height="1.20" fill="#e2d2c0" /><rect x="395.22" y="219.13" width="2.20" height="1.20" fill="#e2d2c0" /><rect x="396.15" y="145.12" width="2.20" height="4.20" fill="#9a6a48" /><rect x="396.15" y="145.12" width="2.20" height="1.20" fill="#d8c4b0" /><rect x="396.15" y="148.12" width="2.20" height="1.20" fill="#d8c4b0" /><rect x="398.55" y="217.95" width="2.20" height="4.20" fill="#9a6a48" /><rect x="398.55" y="217.95" width="2.20" height="1.20" fill="#e2d2c0" /><rect x="398.55" y="220.95" width="2.20" height="1.20" fill="#e2d2c0" /><rect x="421.13" y="185.46" width="3.20" height="3.20" fill="#2a2624" /><rect x="420.53" y="185.86" width="0.60" height="0.80" fill="#b89478" /><rect x="424.33" y="185.86" width="0.60" height="0.80" fill="#b89478" /><rect x="422.33" y="188.66" width="0.80" height="0.60" fill="#b89478" /><rect x="403.77" y="199.81" width="2.20" height="4.20" fill="#b09888" /><rect x="403.77" y="199.81" width="2.20" height="1.20" fill="#c8b8a8" /><rect x="403.77" y="202.81" width="2.20" height="1.20" fill="#c8b8a8" /><rect x="402.51" y="255.53" width="2.20" height="4.20" fill="#6e5a4e" /><rect x="402.51" y="255.53" width="2.20" height="1.20" fill="#c8b8a8" /><rect x="402.51" y="258.53" width="2.20" height="1.20" fill="#c8b8a8" /><rect x="412.96" y="249.94" width="2.20" height="4.20" fill="#8b7568" /><rect x="412.96" y="249.94" width="2.20" height="1.20" fill="#b89478" /><rect x="412.96" y="252.94" width="2.20" height="1.20" fill="#b89478" /><rect x="406.25" y="159.33" width="2.20" height="4.20" fill="#8b7568" /><rect x="406.25" y="159.33" width="2.20" height="1.20" fill="#e2d2c0" /><rect x="406.25" y="162.33" width="2.20" height="1.20" fill="#e2d2c0" /><rect x="415.87" y="161.07" width="4.20" height="2.20" fill="#8b7568" /><rect x="415.87" y="161.07" width="1.20" height="2.20" fill="#d8c4b0" /><rect x="418.87" y="161.07" width="1.20" height="2.20" fill="#d8c4b0" /><rect x="411.25" y="217.57" width="4.20" height="2.20" fill="#9a6a48" /><rect x="411.25" y="217.57" width="1.20" height="2.20" fill="#caa98c" /><rect x="414.25" y="217.57" width="1.20" height="2.20" fill="#caa98c" /><rect x="395.61" y="185.20" width="2.20" height="4.20" fill="#3a2e28" /><rect x="395.61" y="185.20" width="2.20" height="1.20" fill="#e2d2c0" /><rect x="395.61" y="188.20" width="2.20" height="1.20" fill="#e2d2c0" /><rect x="401.21" y="156.19" width="4.20" height="2.20" fill="#2a221e" /><rect x="401.21" y="156.19" width="1.20" height="2.20" fill="#c8b8a8" /><rect x="404.21" y="156.19" width="1.20" height="2.20" fill="#c8b8a8" /><rect x="398.04" y="208.26" width="3.00" height="5.50" fill="#2a221e" /><rect x="398.04" y="208.26" width="3.00" height="1.50" fill="#e2d2c0" /><rect x="398.04" y="212.26" width="3.00" height="1.50" fill="#e2d2c0" /><rect x="420.52" y="174.23" width="2.20" height="4.20" fill="#6e5a4e" /><rect x="420.52" y="174.23" width="2.20" height="1.20" fill="#caa98c" /><rect x="420.52" y="177.23" width="2.20" height="1.20" fill="#caa98c" /><rect x="396.57" y="225.03" width="4.20" height="2.20" fill="#9a6a48" /><rect x="396.57" y="225.03" width="1.20" height="2.20" fill="#c8b8a8" /><rect x="399.57" y="225.03" width="1.20" height="2.20" fill="#c8b8a8" /><rect x="407.73" y="212.99" width="2.20" height="4.20" fill="#8b7568" /><rect x="407.73" y="212.99" width="2.20" height="1.20" fill="#caa98c" /><rect x="407.73" y="215.99" width="2.20" height="1.20" fill="#caa98c" /><rect x="413.52" y="154.49" width="2.20" height="4.20" fill="#b09888" /><rect x="413.52" y="154.49" width="2.20" height="1.20" fill="#caa98c" /><rect x="413.52" y="157.49" width="2.20" height="1.20" fill="#caa98c" /><rect x="407.30" y="156.43" width="4.20" height="2.20" fill="#3a2e28" /><rect x="407.30" y="156.43" width="1.20" height="2.20" fill="#caa98c" /><rect x="410.30" y="156.43" width="1.20" height="2.20" fill="#caa98c" /><rect x="397.82" y="230.98" width="4.20" height="2.20" fill="#6e5a4e" /><rect x="397.82" y="230.98" width="1.20" height="2.20" fill="#b89478" /><rect x="400.82" y="230.98" width="1.20" height="2.20" fill="#b89478" /><rect x="406.15" y="245.98" width="3.20" height="3.20" fill="#2a2624" /><rect x="405.55" y="246.38" width="0.60" height="0.80" fill="#c8b8a8" /><rect x="409.35" y="246.38" width="0.60" height="0.80" fill="#c8b8a8" /><rect x="407.35" y="249.18" width="0.80" height="0.60" fill="#c8b8a8" /><rect x="410.84" y="207.05" width="4.20" height="2.20" fill="#b09888" /><rect x="410.84" y="207.05" width="1.20" height="2.20" fill="#c8b8a8" /><rect x="413.84" y="207.05" width="1.20" height="2.20" fill="#c8b8a8" /><rect x="404.59" y="145.71" width="2.20" height="4.20" fill="#6e5a4e" /><rect x="404.59" y="145.71" width="2.20" height="1.20" fill="#d8c4b0" /><rect x="404.59" y="148.71" width="2.20" height="1.20" fill="#d8c4b0" /><rect x="405.17" y="223.54" width="4.20" height="2.20" fill="#b09888" /><rect x="405.17" y="223.54" width="1.20" height="2.20" fill="#e2d2c0" /><rect x="408.17" y="223.54" width="1.20" height="2.20" fill="#e2d2c0" /><rect x="418.42" y="148.21" width="2.20" height="4.20" fill="#3a2e28" /><rect x="418.42" y="148.21" width="2.20" height="1.20" fill="#c8b8a8" /><rect x="418.42" y="151.21" width="2.20" height="1.20" fill="#c8b8a8" /><rect x="402.08" y="234.53" width="2.20" height="4.20" fill="#b09888" /><rect x="402.08" y="234.53" width="2.20" height="1.20" fill="#caa98c" /><rect x="402.08" y="237.53" width="2.20" height="1.20" fill="#caa98c" /><rect x="401.10" y="247.48" width="4.20" height="2.20" fill="#9a6a48" /><rect x="401.10" y="247.48" width="1.20" height="2.20" fill="#b89478" /><rect x="404.10" y="247.48" width="1.20" height="2.20" fill="#b89478" /><rect x="422.24" y="154.37" width="2.20" height="4.20" fill="#9a6a48" /><rect x="422.24" y="154.37" width="2.20" height="1.20" fill="#d8c4b0" /><rect x="422.24" y="157.37" width="2.20" height="1.20" fill="#d8c4b0" /><rect x="397.06" y="195.25" width="4.20" height="2.20" fill="#8b7568" /><rect x="397.06" y="195.25" width="1.20" height="2.20" fill="#c8b8a8" /><rect x="400.06" y="195.25" width="1.20" height="2.20" fill="#c8b8a8" /><rect x="410.24" y="237.56" width="2.20" height="4.20" fill="#6e5a4e" /><rect x="410.24" y="237.56" width="2.20" height="1.20" fill="#b89478" /><rect x="410.24" y="240.56" width="2.20" height="1.20" fill="#b89478" /><rect x="328.55" y="129.88" width="1.30" height="9.09" fill="#a8652c" opacity="0.75"/><rect x="330.42" y="274.15" width="8.93" height="1.30" fill="#a8652c" opacity="0.75"/><rect x="313.73" y="184.46" width="5.33" height="1.30" fill="#b87034" opacity="0.75"/><rect x="306.17" y="196.16" width="6.45" height="1.30" fill="#8e5426" opacity="0.75"/><rect x="316.68" y="257.74" width="1.30" height="5.30" fill="#a8652c" opacity="0.75"/><rect x="339.17" y="198.69" width="1.30" height="4.79" fill="#8e5426" opacity="0.75"/><rect x="305.93" y="174.67" width="6.70" height="1.30" fill="#a8652c" opacity="0.75"/><rect x="341.71" y="173.88" width="6.84" height="1.30" fill="#b87034" opacity="0.75"/><rect x="336.06" y="239.56" width="1.30" height="11.58" fill="#b87034" opacity="0.75"/><rect x="331.92" y="136.97" width="11.56" height="1.30" fill="#b87034" opacity="0.75"/><rect x="308.02" y="225.48" width="1.30" height="9.65" fill="#a8652c" opacity="0.75"/><rect x="329.59" y="261.97" width="4.60" height="1.30" fill="#b87034" opacity="0.75"/><rect x="332.58" y="182.44" width="3.83" height="1.30" fill="#8e5426" opacity="0.75"/><rect x="332.53" y="260.57" width="1.30" height="7.95" fill="#b87034" opacity="0.75"/><rect x="304.81" y="180.82" width="1.30" height="9.12" fill="#b87034" opacity="0.75"/><rect x="324.29" y="268.78" width="1.30" height="4.50" fill="#b87034" opacity="0.75"/><rect x="337.48" y="132.21" width="6.33" height="1.30" fill="#a8652c" opacity="0.75"/><rect x="304.78" y="172.46" width="5.44" height="1.30" fill="#b87034" opacity="0.75"/><rect x="320.83" y="229.77" width="3.90" height="1.30" fill="#a8652c" opacity="0.75"/><rect x="337.29" y="136.46" width="7.20" height="1.30" fill="#b87034" opacity="0.75"/><rect x="326.32" y="272.64" width="4.31" height="1.30" fill="#b87034" opacity="0.75"/><rect x="339.23" y="202.59" width="1.30" height="11.52" fill="#8e5426" opacity="0.75"/><rect x="305.42" y="214.77" width="1.30" height="9.06" fill="#b87034" opacity="0.75"/><rect x="311.29" y="195.52" width="1.30" height="5.24" fill="#b87034" opacity="0.75"/><rect x="307.01" y="195.65" width="4.20" height="2.20" fill="#8b7568" /><rect x="307.01" y="195.65" width="1.20" height="2.20" fill="#caa98c" /><rect x="310.01" y="195.65" width="1.20" height="2.20" fill="#caa98c" /><rect x="339.87" y="170.13" width="3.20" height="3.20" fill="#2a2624" /><rect x="339.27" y="170.53" width="0.60" height="0.80" fill="#d8c4b0" /><rect x="343.07" y="170.53" width="0.60" height="0.80" fill="#d8c4b0" /><rect x="341.07" y="173.33" width="0.80" height="0.60" fill="#d8c4b0" /><rect x="336.23" y="238.56" width="2.20" height="4.20" fill="#b09888" /><rect x="336.23" y="238.56" width="2.20" height="1.20" fill="#e2d2c0" /><rect x="336.23" y="241.56" width="2.20" height="1.20" fill="#e2d2c0" /><rect x="304.70" y="241.25" width="4.20" height="2.20" fill="#2a221e" /><rect x="304.70" y="241.25" width="1.20" height="2.20" fill="#caa98c" /><rect x="307.70" y="241.25" width="1.20" height="2.20" fill="#caa98c" /><rect x="308.02" y="192.10" width="4.20" height="2.20" fill="#6e5a4e" /><rect x="308.02" y="192.10" width="1.20" height="2.20" fill="#c8b8a8" /><rect x="311.02" y="192.10" width="1.20" height="2.20" fill="#c8b8a8" /><rect x="342.62" y="182.37" width="2.20" height="4.20" fill="#6e5a4e" /><rect x="342.62" y="182.37" width="2.20" height="1.20" fill="#caa98c" /><rect x="342.62" y="185.37" width="2.20" height="1.20" fill="#caa98c" /><rect x="342.43" y="154.83" width="2.20" height="4.20" fill="#8b7568" /><rect x="342.43" y="154.83" width="2.20" height="1.20" fill="#e2d2c0" /><rect x="342.43" y="157.83" width="2.20" height="1.20" fill="#e2d2c0" /><rect x="334.04" y="185.35" width="4.20" height="2.20" fill="#3a2e28" /><rect x="334.04" y="185.35" width="1.20" height="2.20" fill="#d8c4b0" /><rect x="337.04" y="185.35" width="1.20" height="2.20" fill="#d8c4b0" /><rect x="312.79" y="283.65" width="4.20" height="2.20" fill="#8b7568" /><rect x="312.79" y="283.65" width="1.20" height="2.20" fill="#b89478" /><rect x="315.79" y="283.65" width="1.20" height="2.20" fill="#b89478" /><rect x="339.16" y="132.24" width="2.20" height="4.20" fill="#b09888" /><rect x="339.16" y="132.24" width="2.20" height="1.20" fill="#caa98c" /><rect x="339.16" y="135.24" width="2.20" height="1.20" fill="#caa98c" /><rect x="329.38" y="283.51" width="4.20" height="2.20" fill="#b09888" /><rect x="329.38" y="283.51" width="1.20" height="2.20" fill="#d8c4b0" /><rect x="332.38" y="283.51" width="1.20" height="2.20" fill="#d8c4b0" /><rect x="338.75" y="191.10" width="4.20" height="2.20" fill="#9a6a48" /><rect x="338.75" y="191.10" width="1.20" height="2.20" fill="#c8b8a8" /><rect x="341.75" y="191.10" width="1.20" height="2.20" fill="#c8b8a8" /><rect x="332.91" y="140.85" width="3.20" height="3.20" fill="#2a2624" /><rect x="332.31" y="141.25" width="0.60" height="0.80" fill="#b89478" /><rect x="336.11" y="141.25" width="0.60" height="0.80" fill="#b89478" /><rect x="334.11" y="144.05" width="0.80" height="0.60" fill="#b89478" /><rect x="338.50" y="213.83" width="2.20" height="4.20" fill="#6e5a4e" /><rect x="338.50" y="213.83" width="2.20" height="1.20" fill="#e2d2c0" /><rect x="338.50" y="216.83" width="2.20" height="1.20" fill="#e2d2c0" /><rect x="333.67" y="265.77" width="3.00" height="5.50" fill="#3a2e28" /><rect x="333.67" y="265.77" width="3.00" height="1.50" fill="#c8b8a8" /><rect x="333.67" y="269.77" width="3.00" height="1.50" fill="#c8b8a8" /><rect x="326.94" y="216.96" width="4.20" height="2.20" fill="#9a6a48" /><rect x="326.94" y="216.96" width="1.20" height="2.20" fill="#d8c4b0" /><rect x="329.94" y="216.96" width="1.20" height="2.20" fill="#d8c4b0" /><rect x="330.23" y="267.43" width="2.20" height="4.20" fill="#b09888" /><rect x="330.23" y="267.43" width="2.20" height="1.20" fill="#c8b8a8" /><rect x="330.23" y="270.43" width="2.20" height="1.20" fill="#c8b8a8" /><rect x="310.26" y="246.66" width="2.20" height="4.20" fill="#3a2e28" /><rect x="310.26" y="246.66" width="2.20" height="1.20" fill="#c8b8a8" /><rect x="310.26" y="249.66" width="2.20" height="1.20" fill="#c8b8a8" /><rect x="305.93" y="262.04" width="3.20" height="3.20" fill="#2a2624" /><rect x="305.33" y="262.44" width="0.60" height="0.80" fill="#d8c4b0" /><rect x="309.13" y="262.44" width="0.60" height="0.80" fill="#d8c4b0" /><rect x="307.13" y="265.24" width="0.80" height="0.60" fill="#d8c4b0" /><rect x="310.02" y="128.31" width="4.20" height="2.20" fill="#9a6a48" /><rect x="310.02" y="128.31" width="1.20" height="2.20" fill="#d8c4b0" /><rect x="313.02" y="128.31" width="1.20" height="2.20" fill="#d8c4b0" /><rect x="312.06" y="196.79" width="2.20" height="4.20" fill="#9a6a48" /><rect x="312.06" y="196.79" width="2.20" height="1.20" fill="#c8b8a8" /><rect x="312.06" y="199.79" width="2.20" height="1.20" fill="#c8b8a8" /><rect x="331.35" y="223.60" width="3.20" height="3.20" fill="#2a2624" /><rect x="330.75" y="224.00" width="0.60" height="0.80" fill="#caa98c" /><rect x="334.55" y="224.00" width="0.60" height="0.80" fill="#caa98c" /><rect x="332.55" y="226.80" width="0.80" height="0.60" fill="#caa98c" /><rect x="308.52" y="268.11" width="4.20" height="2.20" fill="#8b7568" /><rect x="308.52" y="268.11" width="1.20" height="2.20" fill="#e2d2c0" /><rect x="311.52" y="268.11" width="1.20" height="2.20" fill="#e2d2c0" /><rect x="316.68" y="260.92" width="2.20" height="4.20" fill="#6e5a4e" /><rect x="316.68" y="260.92" width="2.20" height="1.20" fill="#b89478" /><rect x="316.68" y="263.92" width="2.20" height="1.20" fill="#b89478" /><rect x="324.03" y="130.58" width="2.20" height="4.20" fill="#8b7568" /><rect x="324.03" y="130.58" width="2.20" height="1.20" fill="#b89478" /><rect x="324.03" y="133.58" width="2.20" height="1.20" fill="#b89478" /><rect x="334.26" y="272.18" width="4.20" height="2.20" fill="#b09888" /><rect x="334.26" y="272.18" width="1.20" height="2.20" fill="#d8c4b0" /><rect x="337.26" y="272.18" width="1.20" height="2.20" fill="#d8c4b0" /><rect x="332.20" y="257.59" width="4.20" height="2.20" fill="#9a6a48" /><rect x="332.20" y="257.59" width="1.20" height="2.20" fill="#b89478" /><rect x="335.20" y="257.59" width="1.20" height="2.20" fill="#b89478" /><rect x="318.71" y="147.19" width="2.20" height="4.20" fill="#8b7568" /><rect x="318.71" y="147.19" width="2.20" height="1.20" fill="#c8b8a8" /><rect x="318.71" y="150.19" width="2.20" height="1.20" fill="#c8b8a8" /><rect x="310.17" y="155.08" width="3.20" height="3.20" fill="#2a2624" /><rect x="309.57" y="155.48" width="0.60" height="0.80" fill="#e2d2c0" /><rect x="313.37" y="155.48" width="0.60" height="0.80" fill="#e2d2c0" /><rect x="311.37" y="158.28" width="0.80" height="0.60" fill="#e2d2c0" /><rect x="307.35" y="233.65" width="3.20" height="3.20" fill="#2a2624" /><rect x="306.75" y="234.05" width="0.60" height="0.80" fill="#b89478" /><rect x="310.55" y="234.05" width="0.60" height="0.80" fill="#b89478" /><rect x="308.55" y="236.85" width="0.80" height="0.60" fill="#b89478" /><rect x="433.81" y="410.90" width="1.30" height="6.24" fill="#8e5426" opacity="0.75"/><rect x="438.94" y="415.14" width="9.99" height="1.30" fill="#a8652c" opacity="0.75"/><rect x="411.40" y="386.60" width="1.30" height="9.92" fill="#a8652c" opacity="0.75"/><rect x="439.43" y="407.26" width="3.73" height="1.30" fill="#b87034" opacity="0.75"/><rect x="413.50" y="393.37" width="6.62" height="1.30" fill="#a8652c" opacity="0.75"/><rect x="440.75" y="415.56" width="1.30" height="6.25" fill="#b87034" opacity="0.75"/><rect x="423.17" y="380.60" width="1.30" height="4.58" fill="#a8652c" opacity="0.75"/><rect x="412.08" y="391.36" width="1.30" height="7.87" fill="#b87034" opacity="0.75"/><rect x="422.22" y="404.61" width="1.30" height="5.41" fill="#8e5426" opacity="0.75"/><rect x="412.67" y="401.61" width="5.02" height="1.30" fill="#8e5426" opacity="0.75"/><rect x="416.68" y="382.05" width="1.30" height="3.93" fill="#b87034" opacity="0.75"/><rect x="413.37" y="383.56" width="4.20" height="2.20" fill="#3a2e28" /><rect x="413.37" y="383.56" width="1.20" height="2.20" fill="#d8c4b0" /><rect x="416.37" y="383.56" width="1.20" height="2.20" fill="#d8c4b0" /><rect x="442.01" y="412.61" width="2.20" height="4.20" fill="#2a221e" /><rect x="442.01" y="412.61" width="2.20" height="1.20" fill="#c8b8a8" /><rect x="442.01" y="415.61" width="2.20" height="1.20" fill="#c8b8a8" /><rect x="418.53" y="392.83" width="2.20" height="4.20" fill="#9a6a48" /><rect x="418.53" y="392.83" width="2.20" height="1.20" fill="#b89478" /><rect x="418.53" y="395.83" width="2.20" height="1.20" fill="#b89478" /><rect x="412.42" y="387.05" width="3.00" height="5.50" fill="#9a6a48" /><rect x="412.42" y="387.05" width="3.00" height="1.50" fill="#caa98c" /><rect x="412.42" y="391.05" width="3.00" height="1.50" fill="#caa98c" /><rect x="420.67" y="407.79" width="2.20" height="4.20" fill="#8b7568" /><rect x="420.67" y="407.79" width="2.20" height="1.20" fill="#d8c4b0" /><rect x="420.67" y="410.79" width="2.20" height="1.20" fill="#d8c4b0" /><rect x="424.16" y="380.69" width="2.20" height="4.20" fill="#8b7568" /><rect x="424.16" y="380.69" width="2.20" height="1.20" fill="#e2d2c0" /><rect x="424.16" y="383.69" width="2.20" height="1.20" fill="#e2d2c0" /><rect x="431.72" y="413.08" width="2.20" height="4.20" fill="#2a221e" /><rect x="431.72" y="413.08" width="2.20" height="1.20" fill="#c8b8a8" /><rect x="431.72" y="416.08" width="2.20" height="1.20" fill="#c8b8a8" /></g>
<circle cx="246" cy="129" r="2" fill="#e8d8b0"/>
<circle cx="468" cy="130.6" r="2" fill="#e8d8b0"/>
<circle cx="247.6" cy="456.5" r="2" fill="#e8d8b0"/>
<circle cx="257" cy="140" r="11.5" fill="#231c19"/><circle cx="264.67" cy="143.18" r="3.1" fill="#ebe7e2"/><circle cx="260.18" cy="147.67" r="3.1" fill="#ebe7e2"/><circle cx="253.82" cy="147.67" r="3.1" fill="#ebe7e2"/><circle cx="249.33" cy="143.18" r="3.1" fill="#ebe7e2"/><circle cx="249.33" cy="136.82" r="3.1" fill="#ebe7e2"/><circle cx="253.82" cy="132.33" r="3.1" fill="#ebe7e2"/><circle cx="260.18" cy="132.33" r="3.1" fill="#ebe7e2"/><circle cx="264.67" cy="136.82" r="3.1" fill="#ebe7e2"/><circle cx="257" cy="140" r="5.6" fill="#b9b5b5"/>
<circle cx="457.3" cy="141.5" r="11.5" fill="#231c19"/><circle cx="464.97" cy="144.68" r="3.1" fill="#ebe7e2"/><circle cx="460.48" cy="149.17" r="3.1" fill="#ebe7e2"/><circle cx="454.12" cy="149.17" r="3.1" fill="#ebe7e2"/><circle cx="449.63" cy="144.68" r="3.1" fill="#ebe7e2"/><circle cx="449.63" cy="138.32" r="3.1" fill="#ebe7e2"/><circle cx="454.12" cy="133.83" r="3.1" fill="#ebe7e2"/><circle cx="460.48" cy="133.83" r="3.1" fill="#ebe7e2"/><circle cx="464.97" cy="138.32" r="3.1" fill="#ebe7e2"/><circle cx="457.3" cy="141.5" r="5.6" fill="#b9b5b5"/>
<circle cx="258.2" cy="445" r="11.5" fill="#231c19"/><circle cx="265.78" cy="448.14" r="3" fill="#ebe7e2"/><circle cx="261.34" cy="452.58" r="3" fill="#ebe7e2"/><circle cx="255.06" cy="452.58" r="3" fill="#ebe7e2"/><circle cx="250.62" cy="448.14" r="3" fill="#ebe7e2"/><circle cx="250.62" cy="441.86" r="3" fill="#ebe7e2"/><circle cx="255.06" cy="437.42" r="3" fill="#ebe7e2"/><circle cx="261.34" cy="437.42" r="3" fill="#ebe7e2"/><circle cx="265.78" cy="441.86" r="3" fill="#ebe7e2"/><circle cx="258.2" cy="445" r="4.8" fill="#f0eeec"/>
<circle cx="454.2" cy="446" r="11.5" fill="#231c19"/><circle cx="461.78" cy="449.14" r="3" fill="#ebe7e2"/><circle cx="457.34" cy="453.58" r="3" fill="#ebe7e2"/><circle cx="451.06" cy="453.58" r="3" fill="#ebe7e2"/><circle cx="446.62" cy="449.14" r="3" fill="#ebe7e2"/><circle cx="446.62" cy="442.86" r="3" fill="#ebe7e2"/><circle cx="451.06" cy="438.42" r="3" fill="#ebe7e2"/><circle cx="457.34" cy="438.42" r="3" fill="#ebe7e2"/><circle cx="461.78" cy="442.86" r="3" fill="#ebe7e2"/><circle cx="454.2" cy="446" r="4.8" fill="#f0eeec"/>
<rect x="285.50" y="137.00" width="21.00" height="18.50" fill="#454446" rx="1"/><rect x="287.00" y="138.50" width="18.00" height="15.50" fill="#525154" /><path d="M297.0,143.2 l3,3 l-3,3" stroke="#6a696b" fill="none"/>
<rect x="281.00" y="174.50" width="22.50" height="18.50" fill="#454446" rx="1"/><rect x="282.50" y="176.00" width="19.50" height="15.50" fill="#525154" /><path d="M293.2,180.8 l3,3 l-3,3" stroke="#6a696b" fill="none"/>
<rect x="281.00" y="211.00" width="23.00" height="19.00" fill="#454446" rx="1"/><rect x="282.50" y="212.50" width="20.00" height="16.00" fill="#525154" /><path d="M293.5,217.5 l3,3 l-3,3" stroke="#6a696b" fill="none"/>
<rect x="282.40" y="288.50" width="21.80" height="21.00" fill="#454446" rx="1"/><rect x="283.90" y="290.00" width="18.80" height="18.00" fill="#525154" /><path d="M294.3,296.0 l3,3 l-3,3" stroke="#6a696b" fill="none"/>
<rect x="375.90" y="183.50" width="17.50" height="15.80" fill="#454446" rx="1"/><rect x="377.40" y="185.00" width="14.50" height="12.80" fill="#525154" /><path d="M385.6,188.4 l3,3 l-3,3" stroke="#6a696b" fill="none"/>
<rect x="344.00" y="200.50" width="14.00" height="11.50" fill="#4a4846" />
<rect x="344.00" y="197.50" width="1.20" height="3.00" fill="#c8c4c0" />
<rect x="344.00" y="212.00" width="1.20" height="3.00" fill="#c8c4c0" />
<rect x="346.40" y="197.50" width="1.20" height="3.00" fill="#c8c4c0" />
<rect x="346.40" y="212.00" width="1.20" height="3.00" fill="#c8c4c0" />
<rect x="348.80" y="197.50" width="1.20" height="3.00" fill="#c8c4c0" />
<rect x="348.80" y="212.00" width="1.20" height="3.00" fill="#c8c4c0" />
<rect x="351.20" y="197.50" width="1.20" height="3.00" fill="#c8c4c0" />
<rect x="351.20" y="212.00" width="1.20" height="3.00" fill="#c8c4c0" />
<rect x="353.60" y="197.50" width="1.20" height="3.00" fill="#c8c4c0" />
<rect x="353.60" y="212.00" width="1.20" height="3.00" fill="#c8c4c0" />
<rect x="356.00" y="197.50" width="1.20" height="3.00" fill="#c8c4c0" />
<rect x="356.00" y="212.00" width="1.20" height="3.00" fill="#c8c4c0" />
<rect x="341.30" y="233.30" width="54.20" height="54.20" fill="#2e2723" />
<rect x="341.30" y="237.60" width="4.30" height="1.10" fill="#bcb8b4" />
<rect x="391.60" y="237.60" width="3.90" height="1.10" fill="#bcb8b4" />
<rect x="346.50" y="233.30" width="1.10" height="4.10" fill="#bcb8b4" />
<rect x="346.50" y="283.20" width="1.10" height="4.30" fill="#bcb8b4" />
<rect x="341.30" y="239.42" width="4.30" height="1.10" fill="#bcb8b4" />
<rect x="391.60" y="239.42" width="3.90" height="1.10" fill="#bcb8b4" />
<rect x="348.32" y="233.30" width="1.10" height="4.10" fill="#bcb8b4" />
<rect x="348.32" y="283.20" width="1.10" height="4.30" fill="#bcb8b4" />
<rect x="341.30" y="241.23" width="4.30" height="1.10" fill="#bcb8b4" />
<rect x="391.60" y="241.23" width="3.90" height="1.10" fill="#bcb8b4" />
<rect x="350.14" y="233.30" width="1.10" height="4.10" fill="#bcb8b4" />
<rect x="350.14" y="283.20" width="1.10" height="4.30" fill="#bcb8b4" />
<rect x="341.30" y="243.05" width="4.30" height="1.10" fill="#bcb8b4" />
<rect x="391.60" y="243.05" width="3.90" height="1.10" fill="#bcb8b4" />
<rect x="351.96" y="233.30" width="1.10" height="4.10" fill="#bcb8b4" />
<rect x="351.96" y="283.20" width="1.10" height="4.30" fill="#bcb8b4" />
<rect x="341.30" y="244.86" width="4.30" height="1.10" fill="#bcb8b4" />
<rect x="391.60" y="244.86" width="3.90" height="1.10" fill="#bcb8b4" />
<rect x="353.78" y="233.30" width="1.10" height="4.10" fill="#bcb8b4" />
<rect x="353.78" y="283.20" width="1.10" height="4.30" fill="#bcb8b4" />
<rect x="341.30" y="246.68" width="4.30" height="1.10" fill="#bcb8b4" />
<rect x="391.60" y="246.68" width="3.90" height="1.10" fill="#bcb8b4" />
<rect x="355.60" y="233.30" width="1.10" height="4.10" fill="#bcb8b4" />
<rect x="355.60" y="283.20" width="1.10" height="4.30" fill="#bcb8b4" />
<rect x="341.30" y="248.50" width="4.30" height="1.10" fill="#bcb8b4" />
<rect x="391.60" y="248.50" width="3.90" height="1.10" fill="#bcb8b4" />
<rect x="357.42" y="233.30" width="1.10" height="4.10" fill="#bcb8b4" />
<rect x="357.42" y="283.20" width="1.10" height="4.30" fill="#bcb8b4" />
<rect x="341.30" y="250.31" width="4.30" height="1.10" fill="#bcb8b4" />
<rect x="391.60" y="250.31" width="3.90" height="1.10" fill="#bcb8b4" />
<rect x="359.24" y="233.30" width="1.10" height="4.10" fill="#bcb8b4" />
<rect x="359.24" y="283.20" width="1.10" height="4.30" fill="#bcb8b4" />
<rect x="341.30" y="252.13" width="4.30" height="1.10" fill="#bcb8b4" />
<rect x="391.60" y="252.13" width="3.90" height="1.10" fill="#bcb8b4" />
<rect x="361.06" y="233.30" width="1.10" height="4.10" fill="#bcb8b4" />
<rect x="361.06" y="283.20" width="1.10" height="4.30" fill="#bcb8b4" />
<rect x="341.30" y="253.94" width="4.30" height="1.10" fill="#bcb8b4" />
<rect x="391.60" y="253.94" width="3.90" height="1.10" fill="#bcb8b4" />
<rect x="362.88" y="233.30" width="1.10" height="4.10" fill="#bcb8b4" />
<rect x="362.88" y="283.20" width="1.10" height="4.30" fill="#bcb8b4" />
<rect x="341.30" y="255.76" width="4.30" height="1.10" fill="#bcb8b4" />
<rect x="391.60" y="255.76" width="3.90" height="1.10" fill="#bcb8b4" />
<rect x="364.70" y="233.30" width="1.10" height="4.10" fill="#bcb8b4" />
<rect x="364.70" y="283.20" width="1.10" height="4.30" fill="#bcb8b4" />
<rect x="341.30" y="257.58" width="4.30" height="1.10" fill="#bcb8b4" />
<rect x="391.60" y="257.58" width="3.90" height="1.10" fill="#bcb8b4" />
<rect x="366.52" y="233.30" width="1.10" height="4.10" fill="#bcb8b4" />
<rect x="366.52" y="283.20" width="1.10" height="4.30" fill="#bcb8b4" />
<rect x="341.30" y="259.39" width="4.30" height="1.10" fill="#bcb8b4" />
<rect x="391.60" y="259.39" width="3.90" height="1.10" fill="#bcb8b4" />
<rect x="368.34" y="233.30" width="1.10" height="4.10" fill="#bcb8b4" />
<rect x="368.34" y="283.20" width="1.10" height="4.30" fill="#bcb8b4" />
<rect x="341.30" y="261.21" width="4.30" height="1.10" fill="#bcb8b4" />
<rect x="391.60" y="261.21" width="3.90" height="1.10" fill="#bcb8b4" />
<rect x="370.16" y="233.30" width="1.10" height="4.10" fill="#bcb8b4" />
<rect x="370.16" y="283.20" width="1.10" height="4.30" fill="#bcb8b4" />
<rect x="341.30" y="263.02" width="4.30" height="1.10" fill="#bcb8b4" />
<rect x="391.60" y="263.02" width="3.90" height="1.10" fill="#bcb8b4" />
<rect x="371.98" y="233.30" width="1.10" height="4.10" fill="#bcb8b4" />
<rect x="371.98" y="283.20" width="1.10" height="4.30" fill="#bcb8b4" />
<rect x="341.30" y="264.84" width="4.30" height="1.10" fill="#bcb8b4" />
<rect x="391.60" y="264.84" width="3.90" height="1.10" fill="#bcb8b4" />
<rect x="373.80" y="233.30" width="1.10" height="4.10" fill="#bcb8b4" />
<rect x="373.80" y="283.20" width="1.10" height="4.30" fill="#bcb8b4" />
<rect x="341.30" y="266.66" width="4.30" height="1.10" fill="#bcb8b4" />
<rect x="391.60" y="266.66" width="3.90" height="1.10" fill="#bcb8b4" />
<rect x="375.62" y="233.30" width="1.10" height="4.10" fill="#bcb8b4" />
<rect x="375.62" y="283.20" width="1.10" height="4.30" fill="#bcb8b4" />
<rect x="341.30" y="268.47" width="4.30" height="1.10" fill="#bcb8b4" />
<rect x="391.60" y="268.47" width="3.90" height="1.10" fill="#bcb8b4" />
<rect x="377.44" y="233.30" width="1.10" height="4.10" fill="#bcb8b4" />
<rect x="377.44" y="283.20" width="1.10" height="4.30" fill="#bcb8b4" />
<rect x="341.30" y="270.29" width="4.30" height="1.10" fill="#bcb8b4" />
<rect x="391.60" y="270.29" width="3.90" height="1.10" fill="#bcb8b4" />
<rect x="379.26" y="233.30" width="1.10" height="4.10" fill="#bcb8b4" />
<rect x="379.26" y="283.20" width="1.10" height="4.30" fill="#bcb8b4" />
<rect x="341.30" y="272.10" width="4.30" height="1.10" fill="#bcb8b4" />
<rect x="391.60" y="272.10" width="3.90" height="1.10" fill="#bcb8b4" />
<rect x="381.08" y="233.30" width="1.10" height="4.10" fill="#bcb8b4" />
<rect x="381.08" y="283.20" width="1.10" height="4.30" fill="#bcb8b4" />
<rect x="341.30" y="273.92" width="4.30" height="1.10" fill="#bcb8b4" />
<rect x="391.60" y="273.92" width="3.90" height="1.10" fill="#bcb8b4" />
<rect x="382.90" y="233.30" width="1.10" height="4.10" fill="#bcb8b4" />
<rect x="382.90" y="283.20" width="1.10" height="4.30" fill="#bcb8b4" />
<rect x="341.30" y="275.74" width="4.30" height="1.10" fill="#bcb8b4" />
<rect x="391.60" y="275.74" width="3.90" height="1.10" fill="#bcb8b4" />
<rect x="384.72" y="233.30" width="1.10" height="4.10" fill="#bcb8b4" />
<rect x="384.72" y="283.20" width="1.10" height="4.30" fill="#bcb8b4" />
<rect x="341.30" y="277.55" width="4.30" height="1.10" fill="#bcb8b4" />
<rect x="391.60" y="277.55" width="3.90" height="1.10" fill="#bcb8b4" />
<rect x="386.54" y="233.30" width="1.10" height="4.10" fill="#bcb8b4" />
<rect x="386.54" y="283.20" width="1.10" height="4.30" fill="#bcb8b4" />
<rect x="341.30" y="279.37" width="4.30" height="1.10" fill="#bcb8b4" />
<rect x="391.60" y="279.37" width="3.90" height="1.10" fill="#bcb8b4" />
<rect x="388.36" y="233.30" width="1.10" height="4.10" fill="#bcb8b4" />
<rect x="388.36" y="283.20" width="1.10" height="4.30" fill="#bcb8b4" />
<rect x="341.30" y="281.18" width="4.30" height="1.10" fill="#bcb8b4" />
<rect x="391.60" y="281.18" width="3.90" height="1.10" fill="#bcb8b4" />
<rect x="390.18" y="233.30" width="1.10" height="4.10" fill="#bcb8b4" />
<rect x="390.18" y="283.20" width="1.10" height="4.30" fill="#bcb8b4" />
<rect x="341.30" y="283.00" width="4.30" height="1.10" fill="#bcb8b4" />
<rect x="391.60" y="283.00" width="3.90" height="1.10" fill="#bcb8b4" />
<rect x="392.00" y="233.30" width="1.10" height="4.10" fill="#bcb8b4" />
<rect x="392.00" y="283.20" width="1.10" height="4.30" fill="#bcb8b4" />
<rect x="346.50" y="237.60" width="45.50" height="45.40" fill="#4d4a48" />
<rect x="348.00" y="239.00" width="42.50" height="42.50" fill="#535050" />
<rect x="272.70" y="134.50" width="6.80" height="14.20" fill="#e9e5e1" rx="0.8"/><rect x="273.90" y="138.76" width="4.40" height="5.68" fill="#2a2523" />
<rect x="311.70" y="138.20" width="15.80" height="6.80" fill="#e9e5e1" rx="0.8"/><rect x="316.44" y="139.40" width="6.32" height="4.40" fill="#2a2523" />
<rect x="308.00" y="177.20" width="15.80" height="6.00" fill="#e9e5e1" rx="0.8"/><rect x="312.74" y="178.40" width="6.32" height="3.60" fill="#2a2523" />
<rect x="270.50" y="204.50" width="6.70" height="15.00" fill="#e9e5e1" rx="0.8"/><rect x="271.70" y="209.00" width="4.30" height="6.00" fill="#2a2523" />
<rect x="314.70" y="214.20" width="6.80" height="13.50" fill="#e9e5e1" rx="0.8"/><rect x="315.90" y="218.25" width="4.40" height="5.40" fill="#2a2523" />
<rect x="271.90" y="289.40" width="5.20" height="7.00" fill="#e9e5e1" rx="0.8"/><rect x="273.10" y="291.50" width="2.80" height="2.80" fill="#2a2523" />
<rect x="308.60" y="294.60" width="14.90" height="4.40" fill="#e9e5e1" rx="0.8"/><rect x="313.07" y="295.80" width="5.96" height="2.00" fill="#2a2523" />
<rect x="324.3" y="150.7" width="4" height="3" fill="#ddd8d2"/><rect x="324.3" y="173.8" width="4" height="3" fill="#ddd8d2"/><circle cx="325.5" cy="165.0" r="10.8" fill="#3e3a3a"/><circle cx="326.3" cy="163.5" r="9.700000000000001" fill="#e3e1df"/><circle cx="325.3" cy="162.5" r="6.300000000000001" fill="#eeecea"/><rect x="321.3" y="159.5" width="10" height="1.2" fill="#8a8a8a" opacity="0.6"/><rect x="321.3" y="162.5" width="10" height="1.2" fill="#8a8a8a" opacity="0.6"/><rect x="321.3" y="165.5" width="10" height="1.2" fill="#8a8a8a" opacity="0.6"/>
<rect x="324.3" y="188.0" width="4" height="3" fill="#ddd8d2"/><rect x="324.3" y="211.10000000000002" width="4" height="3" fill="#ddd8d2"/><circle cx="325.5" cy="202.3" r="10.8" fill="#3e3a3a"/><circle cx="326.3" cy="200.8" r="9.700000000000001" fill="#e3e1df"/><circle cx="325.3" cy="199.8" r="6.300000000000001" fill="#eeecea"/><rect x="321.3" y="196.8" width="10" height="1.2" fill="#8a8a8a" opacity="0.6"/><rect x="321.3" y="199.8" width="10" height="1.2" fill="#8a8a8a" opacity="0.6"/><rect x="321.3" y="202.8" width="10" height="1.2" fill="#8a8a8a" opacity="0.6"/>
<rect x="322.4" y="230.39999999999998" width="4" height="3" fill="#ddd8d2"/><rect x="322.4" y="253.5" width="4" height="3" fill="#ddd8d2"/><circle cx="323.59999999999997" cy="244.7" r="10.8" fill="#3e3a3a"/><circle cx="324.4" cy="243.2" r="9.700000000000001" fill="#e3e1df"/><circle cx="323.4" cy="242.2" r="6.300000000000001" fill="#eeecea"/><rect x="319.4" y="239.2" width="10" height="1.2" fill="#8a8a8a" opacity="0.6"/><rect x="319.4" y="242.2" width="10" height="1.2" fill="#8a8a8a" opacity="0.6"/><rect x="319.4" y="245.2" width="10" height="1.2" fill="#8a8a8a" opacity="0.6"/>
<rect x="257.6" y="327.5" width="4" height="3" fill="#ddd8d2"/><rect x="257.6" y="350" width="4" height="3" fill="#ddd8d2"/><circle cx="258.8" cy="341.5" r="10.5" fill="#3e3a3a"/><circle cx="259.6" cy="340" r="9.4" fill="#e3e1df"/><circle cx="258.6" cy="339" r="6" fill="#eeecea"/><rect x="254.60000000000002" y="336" width="10" height="1.2" fill="#8a8a8a" opacity="0.6"/><rect x="254.60000000000002" y="339" width="10" height="1.2" fill="#8a8a8a" opacity="0.6"/><rect x="254.60000000000002" y="342" width="10" height="1.2" fill="#8a8a8a" opacity="0.6"/>
<rect x="290" y="322.0" width="4" height="3" fill="#ddd8d2"/><rect x="290" y="344.5" width="4" height="3" fill="#ddd8d2"/><circle cx="291.2" cy="336.0" r="10.5" fill="#3e3a3a"/><circle cx="292" cy="334.5" r="9.4" fill="#e3e1df"/><circle cx="291" cy="333.5" r="6" fill="#eeecea"/><rect x="287" y="330.5" width="10" height="1.2" fill="#8a8a8a" opacity="0.6"/><rect x="287" y="333.5" width="10" height="1.2" fill="#8a8a8a" opacity="0.6"/><rect x="287" y="336.5" width="10" height="1.2" fill="#8a8a8a" opacity="0.6"/>
<rect x="322.4" y="371.0" width="4" height="3" fill="#ddd8d2"/><rect x="322.4" y="392.5" width="4" height="3" fill="#ddd8d2"/><circle cx="323.59999999999997" cy="384.5" r="10.0" fill="#3e3a3a"/><circle cx="324.4" cy="383" r="8.9" fill="#e3e1df"/><circle cx="323.4" cy="382" r="5.5" fill="#eeecea"/><rect x="319.4" y="379" width="10" height="1.2" fill="#8a8a8a" opacity="0.6"/><rect x="319.4" y="382" width="10" height="1.2" fill="#8a8a8a" opacity="0.6"/><rect x="319.4" y="385" width="10" height="1.2" fill="#8a8a8a" opacity="0.6"/>
<circle cx="347.5" cy="147.5" r="4" fill="#d6c7a8"/><circle cx="391.5" cy="147.5" r="4" fill="#d6c7a8"/>
<path d="M349.2,119.5 Q349.2,115.3 353.2,115.3 L385.6,115.3 Q389.6,115.3 389.6,119.5 L389.6,168.6 L349.2,168.6 Z" fill="#c9c3be"/>
<rect x="351.50" y="118.00" width="35.80" height="48.50" fill="#d3cec9" />
<rect x="359.71" y="143.85" width="2.08" height="1.46" fill="#f0ece8" />
<rect x="371.54" y="146.77" width="1.16" height="1.13" fill="#b6b0ab" />
<rect x="385.85" y="140.34" width="1.36" height="2.01" fill="#b6b0ab" />
<rect x="359.50" y="125.20" width="1.84" height="1.74" fill="#b6b0ab" />
<rect x="353.71" y="154.02" width="1.22" height="0.84" fill="#e8e4e0" />
<rect x="381.36" y="140.46" width="1.80" height="2.09" fill="#b6b0ab" />
<rect x="365.13" y="156.04" width="2.15" height="0.99" fill="#b6b0ab" />
<rect x="364.11" y="119.70" width="1.10" height="2.15" fill="#b6b0ab" />
<rect x="366.55" y="147.77" width="1.39" height="1.97" fill="#f0ece8" />
<rect x="371.30" y="143.37" width="1.62" height="2.07" fill="#b6b0ab" />
<rect x="375.03" y="162.12" width="2.19" height="1.74" fill="#f0ece8" />
<rect x="357.13" y="158.88" width="1.80" height="1.10" fill="#e8e4e0" />
<rect x="380.19" y="145.24" width="0.97" height="1.47" fill="#f0ece8" />
<rect x="373.54" y="140.97" width="1.92" height="1.37" fill="#f0ece8" />
<rect x="356.70" y="131.96" width="2.02" height="0.86" fill="#b6b0ab" />
<rect x="372.70" y="120.13" width="1.57" height="2.09" fill="#f0ece8" />
<rect x="361.13" y="129.21" width="1.23" height="0.91" fill="#e8e4e0" />
<rect x="372.19" y="119.49" width="2.16" height="1.21" fill="#bfb9b4" />
<rect x="360.59" y="150.76" width="1.24" height="2.14" fill="#f0ece8" />
<rect x="382.43" y="135.94" width="2.02" height="1.34" fill="#b6b0ab" />
<rect x="381.41" y="150.35" width="1.67" height="2.12" fill="#e8e4e0" />
<rect x="368.99" y="138.48" width="2.11" height="1.41" fill="#bfb9b4" />
<rect x="360.41" y="132.39" width="0.82" height="1.38" fill="#f0ece8" />
<rect x="371.51" y="118.95" width="0.88" height="1.68" fill="#bfb9b4" />
<rect x="367.59" y="150.27" width="1.65" height="1.19" fill="#f0ece8" />
<rect x="368.39" y="146.00" width="2.15" height="1.15" fill="#e8e4e0" />
<rect x="367.24" y="146.15" width="1.05" height="1.06" fill="#f0ece8" />
<rect x="377.65" y="158.08" width="1.22" height="1.33" fill="#f0ece8" />
<rect x="378.14" y="119.28" width="1.23" height="1.11" fill="#bfb9b4" />
<rect x="379.23" y="129.34" width="1.75" height="1.71" fill="#bfb9b4" />
<rect x="354.85" y="146.53" width="1.74" height="1.11" fill="#f0ece8" />
<rect x="379.44" y="163.63" width="1.27" height="1.71" fill="#e8e4e0" />
<rect x="382.03" y="139.43" width="1.90" height="0.85" fill="#bfb9b4" />
<rect x="384.54" y="132.97" width="2.01" height="1.28" fill="#bfb9b4" />
<rect x="380.06" y="122.06" width="1.63" height="1.39" fill="#f0ece8" />
<rect x="369.38" y="158.37" width="1.28" height="1.38" fill="#b6b0ab" />
<rect x="365.98" y="137.45" width="1.02" height="0.81" fill="#b6b0ab" />
<rect x="384.04" y="159.80" width="1.58" height="2.18" fill="#b6b0ab" />
<rect x="376.25" y="119.54" width="1.97" height="1.73" fill="#b6b0ab" />
<rect x="369.41" y="131.73" width="2.05" height="2.01" fill="#f0ece8" />
<rect x="381.10" y="164.12" width="1.93" height="0.86" fill="#e8e4e0" />
<rect x="382.67" y="150.95" width="2.06" height="2.06" fill="#bfb9b4" />
<rect x="371.40" y="118.62" width="1.04" height="1.22" fill="#e8e4e0" />
<rect x="374.37" y="142.94" width="0.87" height="2.08" fill="#b6b0ab" />
<rect x="355.42" y="123.96" width="1.94" height="0.89" fill="#b6b0ab" />
<rect x="359.12" y="123.81" width="1.04" height="1.91" fill="#e8e4e0" />
<rect x="383.30" y="156.29" width="1.48" height="1.60" fill="#e8e4e0" />
<rect x="365.31" y="153.93" width="1.18" height="1.54" fill="#bfb9b4" />
<rect x="366.09" y="140.46" width="2.00" height="1.89" fill="#e8e4e0" />
<rect x="353.09" y="120.37" width="2.16" height="2.00" fill="#b6b0ab" />
<rect x="354.47" y="141.85" width="1.02" height="0.90" fill="#f0ece8" />
<rect x="364.81" y="136.51" width="1.31" height="1.07" fill="#f0ece8" />
<rect x="362.84" y="123.88" width="1.80" height="1.33" fill="#e8e4e0" />
<rect x="354.26" y="126.48" width="1.45" height="1.71" fill="#f0ece8" />
<rect x="370.18" y="148.24" width="1.67" height="1.40" fill="#e8e4e0" />
<rect x="364.35" y="141.57" width="1.39" height="1.77" fill="#f0ece8" />
<rect x="367.40" y="129.64" width="1.77" height="0.90" fill="#f0ece8" />
<rect x="366.16" y="138.23" width="2.11" height="1.32" fill="#e8e4e0" />
<rect x="382.48" y="155.57" width="0.97" height="1.77" fill="#f0ece8" />
<rect x="383.90" y="152.75" width="1.73" height="1.83" fill="#b6b0ab" />
<rect x="370.95" y="122.90" width="1.46" height="1.13" fill="#e8e4e0" />
<rect x="364.91" y="143.04" width="1.72" height="1.33" fill="#e8e4e0" />
<rect x="379.77" y="134.22" width="0.84" height="0.96" fill="#e8e4e0" />
<rect x="368.13" y="151.08" width="1.61" height="1.92" fill="#f0ece8" />
<rect x="352.75" y="154.45" width="0.95" height="1.85" fill="#bfb9b4" />
<rect x="383.74" y="120.90" width="2.02" height="1.05" fill="#f0ece8" />
<rect x="354.17" y="165.42" width="1.44" height="1.78" fill="#bfb9b4" />
<rect x="384.02" y="130.01" width="2.11" height="1.58" fill="#b6b0ab" />
<rect x="384.84" y="135.83" width="2.16" height="1.38" fill="#bfb9b4" />
<rect x="377.29" y="125.63" width="1.02" height="1.36" fill="#b6b0ab" />
<rect x="382.12" y="125.72" width="1.85" height="2.08" fill="#b6b0ab" />
<rect x="369.35" y="139.05" width="0.99" height="1.85" fill="#bfb9b4" />
<rect x="356.56" y="142.49" width="1.99" height="1.55" fill="#bfb9b4" />
<rect x="378.39" y="149.89" width="1.63" height="1.62" fill="#b6b0ab" />
<rect x="385.44" y="160.25" width="0.83" height="1.47" fill="#f0ece8" />
<rect x="364.70" y="126.18" width="1.13" height="1.48" fill="#f0ece8" />
<rect x="381.30" y="137.87" width="1.78" height="1.09" fill="#b6b0ab" />
<rect x="371.53" y="160.83" width="1.47" height="1.81" fill="#e8e4e0" />
<rect x="381.05" y="137.01" width="1.45" height="1.12" fill="#e8e4e0" />
<rect x="359.60" y="152.09" width="2.14" height="2.00" fill="#e8e4e0" />
<rect x="359.85" y="127.01" width="0.99" height="1.67" fill="#f0ece8" />
<rect x="374.79" y="119.75" width="1.04" height="0.86" fill="#f0ece8" />
<rect x="357.82" y="122.32" width="0.97" height="1.17" fill="#e8e4e0" />
<rect x="383.02" y="119.72" width="1.61" height="1.75" fill="#b6b0ab" />
<rect x="351.74" y="133.90" width="1.33" height="0.91" fill="#b6b0ab" />
<rect x="373.73" y="153.26" width="1.35" height="1.56" fill="#b6b0ab" />
<rect x="355.61" y="131.05" width="0.96" height="2.04" fill="#b6b0ab" />
<rect x="382.85" y="122.60" width="1.75" height="1.32" fill="#f0ece8" />
<rect x="367.04" y="149.49" width="0.95" height="2.12" fill="#f0ece8" />
<rect x="363.18" y="144.89" width="1.73" height="1.51" fill="#e8e4e0" />
<rect x="353.55" y="131.99" width="1.70" height="1.82" fill="#bfb9b4" />
<rect x="356.66" y="135.61" width="0.97" height="2.10" fill="#b6b0ab" />
<rect x="356.38" y="133.75" width="1.58" height="1.71" fill="#b6b0ab" />
<rect x="367.29" y="132.84" width="1.79" height="0.95" fill="#bfb9b4" />
<rect x="357.75" y="144.30" width="1.30" height="1.17" fill="#b6b0ab" />
<rect x="364.73" y="159.45" width="1.47" height="1.18" fill="#e8e4e0" />
<rect x="375.49" y="142.45" width="2.12" height="1.43" fill="#f0ece8" />
<rect x="379.42" y="121.29" width="1.99" height="0.96" fill="#b6b0ab" />
<rect x="360.83" y="122.73" width="1.59" height="2.07" fill="#e8e4e0" />
<rect x="355.37" y="151.16" width="1.74" height="1.35" fill="#b6b0ab" />
<rect x="385.43" y="124.10" width="2.00" height="1.92" fill="#bfb9b4" />
<rect x="370.29" y="126.09" width="1.08" height="1.15" fill="#bfb9b4" />
<rect x="378.47" y="119.43" width="2.05" height="2.13" fill="#b6b0ab" />
<rect x="364.72" y="144.25" width="1.69" height="2.17" fill="#f0ece8" />
<rect x="375.19" y="132.22" width="0.84" height="1.07" fill="#b6b0ab" />
<rect x="373.37" y="123.11" width="1.49" height="1.53" fill="#bfb9b4" />
<rect x="367.39" y="127.19" width="0.85" height="1.50" fill="#bfb9b4" />
<rect x="373.79" y="139.10" width="2.14" height="2.05" fill="#f0ece8" />
<rect x="356.18" y="155.64" width="0.84" height="1.67" fill="#e8e4e0" />
<rect x="368.96" y="141.68" width="2.10" height="1.25" fill="#e8e4e0" />
<rect x="381.53" y="151.00" width="0.91" height="1.97" fill="#bfb9b4" />
<rect x="378.25" y="119.61" width="1.84" height="1.28" fill="#e8e4e0" />
<rect x="379.33" y="162.26" width="1.41" height="1.86" fill="#bfb9b4" />
<rect x="368.23" y="123.18" width="1.37" height="1.98" fill="#e8e4e0" />
<rect x="375.85" y="136.60" width="1.78" height="1.55" fill="#b6b0ab" />
<rect x="366.06" y="148.84" width="0.83" height="1.44" fill="#f0ece8" />
<rect x="375.35" y="138.82" width="2.06" height="1.81" fill="#b6b0ab" />
<rect x="364.16" y="135.62" width="1.64" height="1.11" fill="#f0ece8" />
<rect x="351.59" y="127.93" width="1.00" height="1.44" fill="#f0ece8" />
<rect x="358.24" y="127.94" width="1.62" height="1.51" fill="#bfb9b4" />
<rect x="373.47" y="124.61" width="1.42" height="1.06" fill="#bfb9b4" />
<rect x="380.53" y="137.15" width="1.37" height="1.78" fill="#f0ece8" />
<rect x="353.26" y="137.16" width="1.49" height="2.07" fill="#b6b0ab" />
<rect x="381.97" y="129.47" width="1.46" height="1.03" fill="#b6b0ab" />
<rect x="372.97" y="134.45" width="1.63" height="1.93" fill="#e8e4e0" />
<rect x="361.53" y="164.61" width="1.90" height="2.15" fill="#b6b0ab" />
<rect x="368.36" y="144.65" width="1.94" height="1.68" fill="#e8e4e0" />
<rect x="363.39" y="122.45" width="2.16" height="1.63" fill="#b6b0ab" />
<rect x="351.63" y="119.44" width="0.83" height="1.50" fill="#e8e4e0" />
<rect x="368.12" y="126.98" width="1.08" height="2.16" fill="#f0ece8" />
<rect x="367.95" y="156.17" width="2.12" height="0.85" fill="#f0ece8" />
<rect x="362.01" y="146.83" width="0.92" height="1.21" fill="#b6b0ab" />
<rect x="380.82" y="123.45" width="1.57" height="1.55" fill="#b6b0ab" />
<rect x="378.35" y="137.13" width="1.97" height="1.57" fill="#b6b0ab" />
<rect x="383.36" y="135.23" width="1.41" height="1.42" fill="#b6b0ab" />
<rect x="375.74" y="134.40" width="1.51" height="1.85" fill="#bfb9b4" />
<rect x="383.07" y="151.10" width="0.86" height="1.04" fill="#b6b0ab" />
<rect x="377.43" y="157.08" width="1.86" height="1.75" fill="#e8e4e0" />
<rect x="354.85" y="129.27" width="2.03" height="2.02" fill="#e8e4e0" />
<rect x="367.02" y="160.60" width="2.20" height="0.80" fill="#f0ece8" />
<circle cx="364" cy="130" r="2.2" fill="#f6f4f2"/><circle cx="368.8" cy="130" r="2.2" fill="#f6f4f2"/><circle cx="373.6" cy="130" r="2.2" fill="#f6f4f2"/>
<rect x="349.20" y="165.50" width="40.40" height="3.10" fill="#b0aaa5" />
<ellipse cx="412.6" cy="142.4" rx="4" ry="3.6" fill="#ddd3b8"/><ellipse cx="436" cy="142.4" rx="4" ry="3.6" fill="#ddd3b8"/>
<rect x="413.50" y="126.00" width="23.50" height="15.00" fill="#57565a" />
<rect x="414.50" y="126.00" width="21.50" height="3.50" fill="#cfcccb" />
<rect x="415.00" y="130.00" width="20.50" height="10.00" fill="#5f5e62" />
<rect x="421.30" y="122.40" width="8.10" height="3.80" fill="#2e2c2c" />
<rect x="397.80" y="129.00" width="4.20" height="11.60" fill="#e6e2dc" /><rect x="404.00" y="129.00" width="4.20" height="11.60" fill="#e6e2dc" />
<rect x="241.20" y="157.50" width="17.80" height="168.50" fill="#55534f" /><rect x="255.50" y="157.50" width="3.50" height="168.50" fill="#4a4845" /><rect x="243.20" y="160.50" width="11.30" height="10.30" fill="#2a2726" /><circle cx="248.85" cy="165.65" r="0.9" fill="#9a9080"/><rect x="243.20" y="174.30" width="11.30" height="10.30" fill="#2a2726" /><circle cx="248.85" cy="179.45" r="0.9" fill="#9a9080"/><rect x="243.20" y="188.10" width="11.30" height="10.30" fill="#2a2726" /><circle cx="248.85" cy="193.25" r="0.9" fill="#9a9080"/><rect x="243.20" y="201.90" width="11.30" height="10.30" fill="#2a2726" /><circle cx="248.85" cy="207.05" r="0.9" fill="#9a9080"/><rect x="243.20" y="215.70" width="11.30" height="10.30" fill="#2a2726" /><circle cx="248.85" cy="220.85" r="0.9" fill="#9a9080"/><rect x="243.20" y="229.50" width="11.30" height="10.30" fill="#2a2726" /><circle cx="248.85" cy="234.65" r="0.9" fill="#9a9080"/><rect x="243.20" y="243.30" width="11.30" height="10.30" fill="#2a2726" /><circle cx="248.85" cy="248.45" r="0.9" fill="#9a9080"/><rect x="243.20" y="257.10" width="11.30" height="10.30" fill="#2a2726" /><circle cx="248.85" cy="262.25" r="0.9" fill="#9a9080"/><rect x="243.20" y="270.90" width="11.30" height="10.30" fill="#2a2726" /><circle cx="248.85" cy="276.05" r="0.9" fill="#9a9080"/><rect x="243.20" y="284.70" width="11.30" height="10.30" fill="#2a2726" /><circle cx="248.85" cy="289.85" r="0.9" fill="#9a9080"/><rect x="243.20" y="298.50" width="11.30" height="10.30" fill="#2a2726" /><circle cx="248.85" cy="303.65" r="0.9" fill="#9a9080"/><rect x="243.20" y="312.30" width="11.30" height="10.30" fill="#2a2726" /><circle cx="248.85" cy="317.45" r="0.9" fill="#9a9080"/>
<rect x="263.70" y="244.00" width="17.80" height="43.00" fill="#55534f" /><rect x="278.00" y="244.00" width="3.50" height="43.00" fill="#4a4845" /><rect x="265.70" y="247.30" width="11.30" height="10.20" fill="#2a2726" /><circle cx="271.35" cy="252.40" r="0.9" fill="#9a9080"/><rect x="265.70" y="261.30" width="11.30" height="10.20" fill="#2a2726" /><circle cx="271.35" cy="266.40" r="0.9" fill="#9a9080"/><rect x="265.70" y="275.00" width="11.30" height="10.00" fill="#2a2726" /><circle cx="271.35" cy="280.00" r="0.9" fill="#9a9080"/>
<rect x="426.60" y="160.80" width="21.90" height="25.20" fill="#66635f" /><rect x="428.20" y="162.40" width="18.70" height="22.00" fill="#504d4a" /><rect x="429.80" y="164.00" width="15.50" height="7.80" fill="#33302e" rx="1.5"/><circle cx="437.55" cy="167.90" r="0.9" fill="#9a9080"/><rect x="429.80" y="175.00" width="15.50" height="7.80" fill="#33302e" rx="1.5"/><circle cx="437.55" cy="178.90" r="0.9" fill="#9a9080"/>
<rect x="450.00" y="160.80" width="21.00" height="25.20" fill="#66635f" /><rect x="451.60" y="162.40" width="17.80" height="22.00" fill="#504d4a" /><rect x="453.20" y="164.00" width="14.60" height="7.80" fill="#33302e" rx="1.5"/><circle cx="460.50" cy="167.90" r="0.9" fill="#9a9080"/><rect x="453.20" y="175.00" width="14.60" height="7.80" fill="#33302e" rx="1.5"/><circle cx="460.50" cy="178.90" r="0.9" fill="#9a9080"/>
<rect x="450.00" y="188.70" width="21.00" height="24.30" fill="#66635f" /><rect x="451.60" y="190.30" width="17.80" height="21.10" fill="#504d4a" /><rect x="453.20" y="191.90" width="14.60" height="7.35" fill="#33302e" rx="1.5"/><circle cx="460.50" cy="195.57" r="0.9" fill="#9a9080"/><rect x="453.20" y="202.45" width="14.60" height="7.35" fill="#33302e" rx="1.5"/><circle cx="460.50" cy="206.12" r="0.9" fill="#9a9080"/>
<rect x="449.70" y="214.90" width="16.70" height="42.00" fill="#66635f" /><rect x="451.30" y="216.50" width="13.50" height="38.80" fill="#504d4a" /><rect x="452.90" y="218.10" width="10.30" height="9.73" fill="#33302e" rx="1.5"/><circle cx="458.05" cy="222.97" r="0.9" fill="#9a9080"/><rect x="452.90" y="231.03" width="10.30" height="9.73" fill="#33302e" rx="1.5"/><circle cx="458.05" cy="235.90" r="0.9" fill="#9a9080"/><rect x="452.90" y="243.97" width="10.30" height="9.73" fill="#33302e" rx="1.5"/><circle cx="458.05" cy="248.83" r="0.9" fill="#9a9080"/>
<rect x="325.30" y="312.00" width="24.50" height="22.90" fill="#66635f" /><rect x="326.90" y="313.60" width="21.30" height="19.70" fill="#504d4a" /><rect x="328.50" y="315.20" width="7.45" height="16.50" fill="#33302e" rx="1.5"/><circle cx="332.23" cy="323.45" r="0.9" fill="#9a9080"/><rect x="339.15" y="315.20" width="7.45" height="16.50" fill="#33302e" rx="1.5"/><circle cx="342.88" cy="323.45" r="0.9" fill="#9a9080"/>
<rect x="352.40" y="312.50" width="23.40" height="22.20" fill="#66635f" /><rect x="354.00" y="314.10" width="20.20" height="19.00" fill="#504d4a" /><rect x="355.60" y="315.70" width="6.90" height="15.80" fill="#33302e" rx="1.5"/><circle cx="359.05" cy="323.60" r="0.9" fill="#9a9080"/><rect x="365.70" y="315.70" width="6.90" height="15.80" fill="#33302e" rx="1.5"/><circle cx="369.15" cy="323.60" r="0.9" fill="#9a9080"/>
<rect x="377.80" y="312.70" width="24.00" height="21.80" fill="#66635f" /><rect x="379.40" y="314.30" width="20.80" height="18.60" fill="#504d4a" /><rect x="381.00" y="315.90" width="7.20" height="15.40" fill="#33302e" rx="1.5"/><circle cx="384.60" cy="323.60" r="0.9" fill="#9a9080"/><rect x="391.40" y="315.90" width="7.20" height="15.40" fill="#33302e" rx="1.5"/><circle cx="395.00" cy="323.60" r="0.9" fill="#9a9080"/>
<rect x="334.00" y="336.60" width="32.80" height="18.90" fill="#66635f" /><rect x="335.60" y="338.20" width="29.60" height="15.70" fill="#504d4a" /><rect x="337.20" y="339.80" width="11.60" height="12.50" fill="#33302e" rx="1.5"/><circle cx="343.00" cy="346.05" r="0.9" fill="#9a9080"/><rect x="352.00" y="339.80" width="11.60" height="12.50" fill="#33302e" rx="1.5"/><circle cx="357.80" cy="346.05" r="0.9" fill="#9a9080"/>
<rect x="368.80" y="338.20" width="33.00" height="17.30" fill="#66635f" /><rect x="370.40" y="339.80" width="29.80" height="14.10" fill="#504d4a" /><rect x="372.00" y="341.40" width="11.70" height="10.90" fill="#33302e" rx="1.5"/><circle cx="377.85" cy="346.85" r="0.9" fill="#9a9080"/><rect x="386.90" y="341.40" width="11.70" height="10.90" fill="#33302e" rx="1.5"/><circle cx="392.75" cy="346.85" r="0.9" fill="#9a9080"/>
<rect x="306.50" y="333.20" width="26.80" height="42.00" fill="#66635f" /><rect x="310.00" y="337.50" width="19.90" height="34.20" fill="#2f2c2b" />
<circle cx="320" cy="346.6" r="7" fill="#242120"/><circle cx="320" cy="363" r="7" fill="#242120"/>
<circle cx="320" cy="346.6" r="1.3" fill="#e8e8e8"/><circle cx="320.5" cy="363" r="1.3" fill="#e8e8e8"/>
<rect x="424.60" y="195.50" width="16.20" height="58.70" fill="#908d8a" />
<rect x="431.60" y="195.50" width="2.20" height="58.70" fill="#a29f9c" />
<rect x="417.80" y="197.20" width="6.40" height="4.20" fill="#ecebe2" />
<rect x="426.00" y="197.80" width="5.20" height="5.00" fill="#34302e" /><rect x="434.90" y="197.80" width="5.10" height="5.00" fill="#34302e" />
<circle cx="428.6" cy="200.3" r="0.9" fill="#bbb"/><circle cx="437.5" cy="200.3" r="0.9" fill="#bbb"/>
<rect x="441.50" y="197.70" width="4.10" height="3.00" fill="#b8b2a8" />
<rect x="417.80" y="205.30" width="6.40" height="4.20" fill="#ecebe2" />
<rect x="426.00" y="205.90" width="5.20" height="5.00" fill="#34302e" /><rect x="434.90" y="205.90" width="5.10" height="5.00" fill="#34302e" />
<circle cx="428.6" cy="208.4" r="0.9" fill="#bbb"/><circle cx="437.5" cy="208.4" r="0.9" fill="#bbb"/>
<rect x="441.50" y="205.80" width="4.10" height="3.00" fill="#b8b2a8" />
<rect x="417.80" y="213.40" width="6.40" height="4.20" fill="#ecebe2" />
<rect x="426.00" y="214.00" width="5.20" height="5.00" fill="#34302e" /><rect x="434.90" y="214.00" width="5.10" height="5.00" fill="#34302e" />
<circle cx="428.6" cy="216.5" r="0.9" fill="#bbb"/><circle cx="437.5" cy="216.5" r="0.9" fill="#bbb"/>
<rect x="441.50" y="213.90" width="4.10" height="3.00" fill="#b8b2a8" />
<rect x="417.80" y="221.50" width="6.40" height="4.20" fill="#ecebe2" />
<rect x="426.00" y="222.10" width="5.20" height="5.00" fill="#34302e" /><rect x="434.90" y="222.10" width="5.10" height="5.00" fill="#34302e" />
<circle cx="428.6" cy="224.6" r="0.9" fill="#bbb"/><circle cx="437.5" cy="224.6" r="0.9" fill="#bbb"/>
<rect x="441.50" y="222.00" width="4.10" height="3.00" fill="#b8b2a8" />
<rect x="417.80" y="229.60" width="6.40" height="4.20" fill="#ecebe2" />
<rect x="426.00" y="230.20" width="5.20" height="5.00" fill="#34302e" /><rect x="434.90" y="230.20" width="5.10" height="5.00" fill="#34302e" />
<circle cx="428.6" cy="232.7" r="0.9" fill="#bbb"/><circle cx="437.5" cy="232.7" r="0.9" fill="#bbb"/>
<rect x="441.50" y="230.10" width="4.10" height="3.00" fill="#b8b2a8" />
<rect x="417.80" y="237.70" width="6.40" height="4.20" fill="#ecebe2" />
<rect x="426.00" y="238.30" width="5.20" height="5.00" fill="#34302e" /><rect x="434.90" y="238.30" width="5.10" height="5.00" fill="#34302e" />
<circle cx="428.6" cy="240.8" r="0.9" fill="#bbb"/><circle cx="437.5" cy="240.8" r="0.9" fill="#bbb"/>
<rect x="441.50" y="238.20" width="4.10" height="3.00" fill="#b8b2a8" />
<rect x="417.80" y="245.80" width="6.40" height="4.20" fill="#ecebe2" />
<rect x="426.00" y="246.40" width="5.20" height="5.00" fill="#34302e" /><rect x="434.90" y="246.40" width="5.10" height="5.00" fill="#34302e" />
<circle cx="428.6" cy="248.9" r="0.9" fill="#bbb"/><circle cx="437.5" cy="248.9" r="0.9" fill="#bbb"/>
<rect x="441.50" y="246.30" width="4.10" height="3.00" fill="#b8b2a8" />
<rect x="412.20" y="259.50" width="29.40" height="67.50" fill="#484644" /><rect x="414.20" y="261.50" width="25.40" height="63.50" fill="#55524f" /><rect x="416.20" y="263.50" width="21.40" height="59.50" fill="#42403e" /><circle cx="423.0" cy="277.0" r="1.1" fill="#e8e0d0"/><circle cx="423.0" cy="285.3" r="1.1" fill="#e8e0d0"/><circle cx="423.0" cy="293.6" r="1.1" fill="#e8e0d0"/><circle cx="423.0" cy="301.9" r="1.1" fill="#e8e0d0"/><circle cx="423.0" cy="310.2" r="1.1" fill="#e8e0d0"/><circle cx="431.2" cy="277.0" r="1.1" fill="#e8e0d0"/><circle cx="431.2" cy="285.3" r="1.1" fill="#e8e0d0"/><circle cx="431.2" cy="293.6" r="1.1" fill="#e8e0d0"/><circle cx="431.2" cy="301.9" r="1.1" fill="#e8e0d0"/><circle cx="431.2" cy="310.2" r="1.1" fill="#e8e0d0"/>
<rect x="443.70" y="259.50" width="28.60" height="67.50" fill="#484644" /><rect x="445.70" y="261.50" width="24.60" height="63.50" fill="#55524f" /><rect x="447.70" y="263.50" width="20.60" height="59.50" fill="#42403e" /><circle cx="454.3" cy="277.0" r="1.1" fill="#e8e0d0"/><circle cx="454.3" cy="285.3" r="1.1" fill="#e8e0d0"/><circle cx="454.3" cy="293.6" r="1.1" fill="#e8e0d0"/><circle cx="454.3" cy="301.9" r="1.1" fill="#e8e0d0"/><circle cx="454.3" cy="310.2" r="1.1" fill="#e8e0d0"/><circle cx="462.4" cy="277.0" r="1.1" fill="#e8e0d0"/><circle cx="462.4" cy="285.3" r="1.1" fill="#e8e0d0"/><circle cx="462.4" cy="293.6" r="1.1" fill="#e8e0d0"/><circle cx="462.4" cy="301.9" r="1.1" fill="#e8e0d0"/><circle cx="462.4" cy="310.2" r="1.1" fill="#e8e0d0"/>
<rect x="420.00" y="318.00" width="15.50" height="3.50" fill="#201e1d" /><rect x="451.00" y="318.00" width="15.00" height="3.50" fill="#201e1d" />
<rect x="407.00" y="328.50" width="66.00" height="27.00" fill="#484644" /><rect x="409.00" y="330.50" width="62.00" height="23.00" fill="#55524f" /><rect x="411.00" y="332.50" width="58.00" height="19.00" fill="#42403e" /><circle cx="423.2" cy="338.0" r="1.1" fill="#e8e0d0"/><circle cx="423.2" cy="346.3" r="1.1" fill="#e8e0d0"/><circle cx="431.3" cy="338.0" r="1.1" fill="#e8e0d0"/><circle cx="431.3" cy="346.3" r="1.1" fill="#e8e0d0"/><circle cx="439.8" cy="338.0" r="1.1" fill="#e8e0d0"/><circle cx="439.8" cy="346.3" r="1.1" fill="#e8e0d0"/><circle cx="448.2" cy="338.0" r="1.1" fill="#e8e0d0"/><circle cx="448.2" cy="346.3" r="1.1" fill="#e8e0d0"/><circle cx="456.6" cy="338.0" r="1.1" fill="#e8e0d0"/><circle cx="456.6" cy="346.3" r="1.1" fill="#e8e0d0"/>
<rect x="427.5" y="358" width="19" height="18.3" rx="3.5" fill="#a09c99"/><circle cx="437" cy="367" r="5.5" fill="#7e7a77"/><circle cx="433.5" cy="364" r="1.5" fill="#c8c4c0"/>
<rect x="447.90" y="380.00" width="11.20" height="19.40" fill="#e4e0dc" /><rect x="449.80" y="382.50" width="7.40" height="14.50" fill="#2a2523" />
<rect x="388.50" y="375.00" width="11.90" height="16.30" fill="#3a3634" /><rect x="400.40" y="375.00" width="3.10" height="16.30" fill="#e8e4e0" />
<rect x="343.70" y="370.60" width="25.00" height="20.60" fill="#3e3b3a" /><rect x="343.70" y="370.60" width="1.80" height="20.60" fill="#d6d2cc" /><rect x="366.90" y="370.60" width="1.80" height="20.60" fill="#d6d2cc" />
<rect x="387.50" y="375.00" width="12.50" height="16.20" fill="#3a3736" /><rect x="400.00" y="375.00" width="3.70" height="16.20" fill="#e2ded8" />
<rect x="248.00" y="352.00" width="10.50" height="14.00" fill="#454240" />
<rect x="259.80" y="352.00" width="8.70" height="14.00" fill="#454240" />
<rect x="276.00" y="345.00" width="15.00" height="2.80" fill="#e4e0da" /><rect x="293.50" y="347.50" width="3.80" height="6.30" fill="#d8d2c8" />
<rect x="366.00" y="359.40" width="10.00" height="3.10" fill="#e8e4c8" /><rect x="354.40" y="364.40" width="10.60" height="3.10" fill="#e8e4c8" />
<rect x="242.00" y="368.00" width="64.00" height="4.00" fill="#262220" />
<rect x="330.00" y="392.50" width="62.00" height="7.50" fill="#2d2a28" />
<text x="405" y="378" font-size="6.5" fill="#b8702e" font-family="Liberation Mono" transform="rotate(90 405 378)">RAMBo</text>
<text x="466" y="372" font-size="6" fill="#b8702e" font-family="Liberation Mono" transform="rotate(90 466 372)">EINSY</text>
<rect x="356.00" y="175.50" width="10.00" height="12.00" fill="#e0dbc8" /><rect x="358.50" y="178.00" width="5.00" height="7.00" fill="#cfc8b0" />
<rect x="399.50" y="166.00" width="19.50" height="25.00" fill="#3a3230" />
<circle cx="406" cy="172" r="2.6" fill="#6a625c"/><circle cx="406" cy="172" r="1.4" fill="#e0dad0"/>
<circle cx="414.5" cy="172" r="2.6" fill="#6a625c"/><circle cx="414.5" cy="172" r="1.4" fill="#e0dad0"/>
<circle cx="406" cy="180.5" r="2.6" fill="#6a625c"/><circle cx="406" cy="180.5" r="1.4" fill="#e0dad0"/>
<circle cx="414.5" cy="180.5" r="2.6" fill="#6a625c"/><circle cx="414.5" cy="180.5" r="1.4" fill="#e0dad0"/>
<circle cx="406" cy="189" r="2.6" fill="#6a625c"/><circle cx="406" cy="189" r="1.4" fill="#e0dad0"/>
<circle cx="414.5" cy="189" r="2.6" fill="#6a625c"/><circle cx="414.5" cy="189" r="1.4" fill="#e0dad0"/>
<rect x="367.50" y="203.50" width="11.00" height="4.00" fill="#ece8e2" /><rect x="379.50" y="203.50" width="11.50" height="4.00" fill="#ece8e2" />
<rect x="353.00" y="168.60" width="1.60" height="2.90" fill="#d0c8bc" />
<rect x="356.60" y="168.60" width="1.60" height="2.90" fill="#d0c8bc" />
<rect x="360.20" y="168.60" width="1.60" height="2.90" fill="#d0c8bc" />
<rect x="363.80" y="168.60" width="1.60" height="2.90" fill="#d0c8bc" />
<rect x="367.40" y="168.60" width="1.60" height="2.90" fill="#d0c8bc" />
<rect x="371.00" y="168.60" width="1.60" height="2.90" fill="#d0c8bc" />
<rect x="374.60" y="168.60" width="1.60" height="2.90" fill="#d0c8bc" />
<rect x="378.20" y="168.60" width="1.60" height="2.90" fill="#d0c8bc" />
<rect x="381.80" y="168.60" width="1.60" height="2.90" fill="#d0c8bc" />
<rect x="385.40" y="168.60" width="1.60" height="2.90" fill="#d0c8bc" />
<rect x="432.50" y="388.00" width="10.10" height="14.00" fill="#34302e" /><rect x="433.50" y="385.60" width="8.10" height="2.40" fill="#d8d4ce" /><rect x="433.50" y="402.00" width="2.50" height="3.00" fill="#d8d4ce" /><rect x="439.00" y="402.00" width="2.60" height="3.00" fill="#d8d4ce" />
<rect x="424.30" y="393.00" width="7.30" height="9.00" fill="#e6e2dc" /><rect x="425.50" y="395.50" width="4.90" height="4.00" fill="#3a3431" />
<rect x="406.00" y="406.70" width="11.00" height="7.30" fill="#2e2a28" /><rect x="404.00" y="407.50" width="2.00" height="1.50" fill="#d8d4ce" /><rect x="417.00" y="407.50" width="2.00" height="1.50" fill="#d8d4ce" />
<circle cx="347" cy="227.7" r="1.7" fill="#ece6b0"/>
<circle cx="309.5" cy="256" r="1.7" fill="#ece6b0"/>
<circle cx="298" cy="278.7" r="1.7" fill="#ece6b0"/>
<circle cx="309.5" cy="278" r="1.7" fill="#ece6b0"/>
<circle cx="405" cy="395" r="1.7" fill="#ece6b0"/>
<circle cx="300" cy="160" r="1.7" fill="#ece6b0"/>
<path d="M424.5,176 V158.5 H471" fill="none" stroke="#b8682a" stroke-width="1.4"/>
<rect x="246.30" y="377.20" width="56.10" height="6.50" fill="#9a8272" rx="1.5"/><rect x="248.3" y="377.7" width="14.9" height="5.5" rx="1.5" fill="#4a3e38" stroke="#cdc7c2" stroke-width="1.1"/><rect x="285.5" y="377.7" width="14.9" height="5.5" rx="1.5" fill="#4a3e38" stroke="#cdc7c2" stroke-width="1.1"/><rect x="243.30" y="382.70" width="62.10" height="16.90" rx="3" fill="#b8957f"/><rect x="249.30" y="388.95" width="11.00" height="4.40" fill="#6a5a50" rx="0.8"/><rect x="250.50" y="389.95" width="8.60" height="2.40" fill="#ece6e0" /><rect x="288.40" y="388.95" width="11.00" height="4.40" fill="#6a5a50" rx="0.8"/><rect x="289.60" y="389.95" width="8.60" height="2.40" fill="#ece6e0" /><text x="274.4" y="395.4" font-size="12" fill="#f3ece4" text-anchor="middle" font-family="Liberation Sans" transform="rotate(180 274.4 391.1)">5</text>
<rect x="246.30" y="401.50" width="56.10" height="6.50" fill="#9a8272" rx="1.5"/><rect x="248.3" y="402.0" width="14.9" height="5.5" rx="1.5" fill="#4a3e38" stroke="#cdc7c2" stroke-width="1.1"/><rect x="285.5" y="402.0" width="14.9" height="5.5" rx="1.5" fill="#4a3e38" stroke="#cdc7c2" stroke-width="1.1"/><rect x="243.30" y="407.00" width="62.10" height="16.90" rx="3" fill="#b8957f"/><rect x="249.30" y="413.25" width="11.00" height="4.40" fill="#6a5a50" rx="0.8"/><rect x="250.50" y="414.25" width="8.60" height="2.40" fill="#ece6e0" /><rect x="288.40" y="413.25" width="11.00" height="4.40" fill="#6a5a50" rx="0.8"/><rect x="289.60" y="414.25" width="8.60" height="2.40" fill="#ece6e0" /><text x="274.4" y="419.8" font-size="12" fill="#f3ece4" text-anchor="middle" font-family="Liberation Sans">5</text>
<rect x="329.60" y="401.80" width="57.60" height="6.50" fill="#6f86c8" rx="1.5"/><rect x="331.6" y="402.3" width="15.3" height="5.5" rx="1.5" fill="#4a3e38" stroke="#d8dcf0" stroke-width="1.1"/><rect x="369.9" y="402.3" width="15.3" height="5.5" rx="1.5" fill="#4a3e38" stroke="#d8dcf0" stroke-width="1.1"/><rect x="326.60" y="407.30" width="63.60" height="18.20" rx="3" fill="#879fe2"/><rect x="332.60" y="414.20" width="11.00" height="4.40" fill="#6a5a50" rx="0.8"/><rect x="333.80" y="415.20" width="8.60" height="2.40" fill="#f0f2fa" /><rect x="373.20" y="414.20" width="11.00" height="4.40" fill="#6a5a50" rx="0.8"/><rect x="374.40" y="415.20" width="8.60" height="2.40" fill="#f0f2fa" /><text x="358.4" y="420.7" font-size="12" fill="#f3ece4" text-anchor="middle" font-family="Liberation Sans" transform="rotate(180 358.4 416.4)">15</text>
<rect x="274.00" y="425.00" width="166.00" height="36.00" fill="#2f2c2b" />
<rect x="281.30" y="428.50" width="15.50" height="3.90" fill="#dcd6d0" />
<circle cx="288.0" cy="444.6" r="11" fill="#1e1c1c"/>
<circle cx="288.8" cy="443.8" r="10.3" fill="#ebe8ea"/>
<path d="M279.5,443.8 H298.1 M288.8,434.0 V453.6" stroke="#cf6a78" stroke-width="2.6"/>
<path d="M279.5,443.8 H298.1 M288.8,434.0 V453.6" stroke="#f8f2f2" stroke-width="0.9"/>
<rect x="308.90" y="428.50" width="15.50" height="3.90" fill="#dcd6d0" />
<circle cx="315.6" cy="444.6" r="11" fill="#1e1c1c"/>
<circle cx="316.4" cy="443.8" r="10.3" fill="#ebe8ea"/>
<path d="M307.09999999999997,443.8 H325.7 M316.4,434.0 V453.6" stroke="#cf6a78" stroke-width="2.6"/>
<path d="M307.09999999999997,443.8 H325.7 M316.4,434.0 V453.6" stroke="#f8f2f2" stroke-width="0.9"/>
<rect x="336.30" y="428.50" width="15.50" height="3.90" fill="#b4acd2" />
<circle cx="343.0" cy="444.6" r="11" fill="#1e1c1c"/>
<circle cx="343.8" cy="443.8" r="10.3" fill="#ebe8ea"/>
<path d="M334.5,443.8 H353.1 M343.8,434.0 V453.6" stroke="#cf6a78" stroke-width="2.6"/>
<path d="M334.5,443.8 H353.1 M343.8,434.0 V453.6" stroke="#f8f2f2" stroke-width="0.9"/>
<rect x="363.30" y="428.50" width="15.50" height="3.90" fill="#b4acd2" />
<circle cx="370.0" cy="444.6" r="11" fill="#1e1c1c"/>
<circle cx="370.8" cy="443.8" r="10.3" fill="#ebe8ea"/>
<path d="M361.5,443.8 H380.1 M370.8,434.0 V453.6" stroke="#cf6a78" stroke-width="2.6"/>
<path d="M361.5,443.8 H380.1 M370.8,434.0 V453.6" stroke="#f8f2f2" stroke-width="0.9"/>
<rect x="390.20" y="428.50" width="15.50" height="3.90" fill="#dcd6d0" />
<circle cx="396.9" cy="444.6" r="11" fill="#1e1c1c"/>
<circle cx="397.7" cy="443.8" r="10.3" fill="#ebe8ea"/>
<path d="M388.4,443.8 H407.0 M397.7,434.0 V453.6" stroke="#cf6a78" stroke-width="2.6"/>
<path d="M388.4,443.8 H407.0 M397.7,434.0 V453.6" stroke="#f8f2f2" stroke-width="0.9"/>
<rect x="417.70" y="428.50" width="15.50" height="3.90" fill="#dcd6d0" />
<circle cx="424.4" cy="444.6" r="11" fill="#1e1c1c"/>
<circle cx="425.2" cy="443.8" r="10.3" fill="#ebe8ea"/>
<path d="M415.9,443.8 H434.5 M425.2,434.0 V453.6" stroke="#cf6a78" stroke-width="2.6"/>
<path d="M415.9,443.8 H434.5 M425.2,434.0 V453.6" stroke="#f8f2f2" stroke-width="0.9"/>
<rect x="273.60" y="425.00" width="4.40" height="39.00" fill="#3b3938" />
<rect x="300.80" y="425.00" width="4.40" height="39.00" fill="#3b3938" />
<rect x="327.60" y="425.00" width="4.40" height="39.00" fill="#3b3938" />
<rect x="354.60" y="425.00" width="4.40" height="39.00" fill="#3b3938" />
<rect x="381.50" y="425.00" width="4.40" height="39.00" fill="#3b3938" />
<rect x="408.50" y="425.00" width="4.40" height="39.00" fill="#3b3938" />
<rect x="435.20" y="425.00" width="4.40" height="39.00" fill="#3b3938" />
<rect x="444.30" y="418.30" width="23.40" height="17.50" fill="#66635f" /><rect x="445.90" y="419.90" width="20.20" height="14.30" fill="#504d4a" /><rect x="447.50" y="421.50" width="17.00" height="11.10" fill="#33302e" rx="1.5"/><circle cx="456.00" cy="427.05" r="0.9" fill="#9a9080"/>
<g filter="url(#shadow)" opacity="0.22"><rect x="647" y="101" width="92" height="68" fill="#000"/><rect x="727" y="123" width="66" height="61" fill="#000"/></g>
<rect x="645.00" y="98.80" width="93.40" height="67.40" fill="#3a3838" rx="1.5"/>
<rect x="725.30" y="120.30" width="66.40" height="60.90" fill="#3a3838" rx="1.5"/>
<circle cx="788.6" cy="124.3" r="1.7" fill="#e0d8a0"/>
<circle cx="651" cy="160.6" r="1.9" fill="#e8dcb8"/>
<rect x="652.40" y="102.50" width="7.60" height="7.50" fill="#9a948c" /><rect x="661.00" y="103.00" width="4.00" height="7.00" fill="#8a847c" />
<rect x="654.00" y="112.50" width="12.80" height="13.80" fill="#262424" /><rect x="655.00" y="132.50" width="11.80" height="8.80" fill="#282626" />
<rect x="659.46" y="147.47" width="2.59" height="2.88" fill="#8c8884" />
<rect x="661.80" y="159.03" width="1.06" height="1.93" fill="#8c8884" />
<rect x="665.87" y="141.53" width="2.80" height="1.23" fill="#8c8884" />
<rect x="656.38" y="115.78" width="2.09" height="2.15" fill="#8c8884" />
<rect x="647.26" y="113.87" width="1.56" height="2.83" fill="#8c8884" />
<rect x="662.31" y="110.21" width="2.59" height="1.28" fill="#8c8884" />
<rect x="659.35" y="108.11" width="1.00" height="2.74" fill="#8c8884" />
<rect x="651.19" y="113.79" width="2.96" height="2.74" fill="#8c8884" />
<rect x="652.79" y="161.53" width="2.08" height="2.36" fill="#8c8884" />
<rect x="651.10" y="160.22" width="2.38" height="2.93" fill="#8c8884" />
<rect x="664.87" y="119.12" width="1.72" height="1.33" fill="#8c8884" />
<rect x="649.91" y="104.17" width="1.60" height="2.21" fill="#8c8884" />
<rect x="647.07" y="143.39" width="1.68" height="1.62" fill="#8c8884" />
<rect x="663.37" y="130.77" width="1.63" height="1.96" fill="#8c8884" />
<rect x="661.09" y="103.65" width="2.95" height="1.05" fill="#8c8884" />
<rect x="662.00" y="154.07" width="1.04" height="2.58" fill="#8c8884" />
<rect x="654.32" y="137.03" width="1.02" height="1.09" fill="#8c8884" />
<rect x="650.62" y="161.13" width="1.39" height="2.51" fill="#8c8884" />
<rect x="665.59" y="160.29" width="1.69" height="1.71" fill="#8c8884" />
<rect x="657.49" y="149.64" width="1.22" height="2.50" fill="#8c8884" />
<rect x="662.94" y="155.02" width="1.07" height="2.89" fill="#8c8884" />
<rect x="648.82" y="121.81" width="2.22" height="2.84" fill="#8c8884" />
<rect x="653.80" y="159.15" width="2.09" height="1.62" fill="#8c8884" />
<rect x="653.34" y="111.36" width="1.16" height="1.30" fill="#8c8884" />
<rect x="660.78" y="163.79" width="1.32" height="1.10" fill="#8c8884" />
<rect x="666.73" y="134.15" width="1.81" height="1.47" fill="#8c8884" />
<rect x="658.88" y="152.88" width="1.91" height="1.84" fill="#8c8884" />
<rect x="648.11" y="158.63" width="1.07" height="1.99" fill="#8c8884" />
<rect x="663.77" y="108.36" width="2.46" height="2.90" fill="#8c8884" />
<rect x="659.61" y="150.43" width="1.21" height="1.87" fill="#8c8884" />
<rect x="649.98" y="154.06" width="1.59" height="1.91" fill="#8c8884" />
<rect x="666.99" y="154.54" width="2.95" height="1.91" fill="#8c8884" />
<rect x="656.76" y="146.69" width="1.96" height="1.58" fill="#8c8884" />
<rect x="655.08" y="109.38" width="1.75" height="2.98" fill="#8c8884" />
<rect x="666.20" y="140.13" width="2.00" height="1.68" fill="#8c8884" />
<rect x="648.78" y="117.43" width="2.56" height="2.73" fill="#8c8884" />
<rect x="654.23" y="150.31" width="2.55" height="2.39" fill="#8c8884" />
<rect x="660.28" y="148.62" width="1.73" height="2.41" fill="#8c8884" />
<rect x="652.62" y="131.08" width="2.54" height="2.38" fill="#8c8884" />
<rect x="652.88" y="160.52" width="2.30" height="2.16" fill="#8c8884" />
<rect x="668.70" y="94.80" width="29.30" height="70.40" fill="#4b4948" />
<rect x="670.70" y="97.00" width="25.30" height="66.00" fill="#403e3d" />
<rect x="672.50" y="101.70" width="21.70" height="57.30" fill="#2f2d2d" />
<rect x="674.20" y="106.00" width="18.30" height="49.00" fill="#333131" />
<rect x="677.00" y="99.30" width="11.50" height="2.20" fill="#c2beba" />
<rect x="677.00" y="161.30" width="11.50" height="2.90" fill="#1b1a1a" />
<rect x="677.4" y="110.4" width="3.2" height="3.2" fill="#222"/><circle cx="679.0" cy="112.0" r="1.1" fill="#e0d8c6"/>
<rect x="685.4" y="110.4" width="3.2" height="3.2" fill="#222"/><circle cx="687.0" cy="112.0" r="1.1" fill="#e0d8c6"/>
<rect x="677.4" y="118.8" width="3.2" height="3.2" fill="#222"/><circle cx="679.0" cy="120.4" r="1.1" fill="#e0d8c6"/>
<rect x="685.4" y="118.8" width="3.2" height="3.2" fill="#222"/><circle cx="687.0" cy="120.4" r="1.1" fill="#e0d8c6"/>
<rect x="677.4" y="127.2" width="3.2" height="3.2" fill="#222"/><circle cx="679.0" cy="128.8" r="1.1" fill="#e0d8c6"/>
<rect x="685.4" y="127.2" width="3.2" height="3.2" fill="#222"/><circle cx="687.0" cy="128.8" r="1.1" fill="#e0d8c6"/>
<rect x="677.4" y="135.6" width="3.2" height="3.2" fill="#222"/><circle cx="679.0" cy="137.2" r="1.1" fill="#e0d8c6"/>
<rect x="685.4" y="135.6" width="3.2" height="3.2" fill="#222"/><circle cx="687.0" cy="137.2" r="1.1" fill="#e0d8c6"/>
<rect x="677.4" y="144.0" width="3.2" height="3.2" fill="#222"/><circle cx="679.0" cy="145.6" r="1.1" fill="#e0d8c6"/>
<rect x="685.4" y="144.0" width="3.2" height="3.2" fill="#222"/><circle cx="687.0" cy="145.6" r="1.1" fill="#e0d8c6"/>
<rect x="700.00" y="94.80" width="29.30" height="70.40" fill="#4b4948" />
<rect x="702.00" y="97.00" width="25.30" height="66.00" fill="#403e3d" />
<rect x="703.80" y="101.70" width="21.70" height="57.30" fill="#2f2d2d" />
<rect x="705.50" y="106.00" width="18.30" height="49.00" fill="#333131" />
<rect x="708.30" y="99.30" width="11.50" height="2.20" fill="#c2beba" />
<rect x="708.30" y="161.30" width="11.50" height="2.90" fill="#1b1a1a" />
<rect x="708.7" y="110.4" width="3.2" height="3.2" fill="#222"/><circle cx="710.3" cy="112.0" r="1.1" fill="#e0d8c6"/>
<rect x="716.7" y="110.4" width="3.2" height="3.2" fill="#222"/><circle cx="718.3" cy="112.0" r="1.1" fill="#e0d8c6"/>
<rect x="708.7" y="118.8" width="3.2" height="3.2" fill="#222"/><circle cx="710.3" cy="120.4" r="1.1" fill="#e0d8c6"/>
<rect x="716.7" y="118.8" width="3.2" height="3.2" fill="#222"/><circle cx="718.3" cy="120.4" r="1.1" fill="#e0d8c6"/>
<rect x="708.7" y="127.2" width="3.2" height="3.2" fill="#222"/><circle cx="710.3" cy="128.8" r="1.1" fill="#e0d8c6"/>
<rect x="716.7" y="127.2" width="3.2" height="3.2" fill="#222"/><circle cx="718.3" cy="128.8" r="1.1" fill="#e0d8c6"/>
<rect x="708.7" y="135.6" width="3.2" height="3.2" fill="#222"/><circle cx="710.3" cy="137.2" r="1.1" fill="#e0d8c6"/>
<rect x="716.7" y="135.6" width="3.2" height="3.2" fill="#222"/><circle cx="718.3" cy="137.2" r="1.1" fill="#e0d8c6"/>
<rect x="708.7" y="144.0" width="3.2" height="3.2" fill="#222"/><circle cx="710.3" cy="145.6" r="1.1" fill="#e0d8c6"/>
<rect x="716.7" y="144.0" width="3.2" height="3.2" fill="#222"/><circle cx="718.3" cy="145.6" r="1.1" fill="#e0d8c6"/>
<text x="731" y="100" font-size="7" fill="#d8d4d0" font-family="Liberation Mono" transform="rotate(90 731 100)">P1</text>
<text x="731.5" y="112" font-size="5" fill="#b8b4b0" font-family="Liberation Mono" transform="rotate(90 731.5 112)">UltiMachine EINSY</text>
<circle cx="743.5" cy="135.8" r="2.8" fill="#aca8a4"/><circle cx="743.5" cy="135.8" r="1.1" fill="#4a4646"/>
<circle cx="751.5" cy="135.8" r="2.8" fill="#aca8a4"/><circle cx="751.5" cy="135.8" r="1.1" fill="#4a4646"/>
<circle cx="743.5" cy="143.70000000000002" r="2.8" fill="#aca8a4"/><circle cx="743.5" cy="143.70000000000002" r="1.1" fill="#4a4646"/>
<circle cx="751.5" cy="143.70000000000002" r="2.8" fill="#aca8a4"/><circle cx="751.5" cy="143.70000000000002" r="1.1" fill="#4a4646"/>
<circle cx="743.5" cy="151.60000000000002" r="2.8" fill="#aca8a4"/><circle cx="743.5" cy="151.60000000000002" r="1.1" fill="#4a4646"/>
<circle cx="751.5" cy="151.60000000000002" r="2.8" fill="#aca8a4"/><circle cx="751.5" cy="151.60000000000002" r="1.1" fill="#4a4646"/>
<circle cx="743.5" cy="159.5" r="2.8" fill="#aca8a4"/><circle cx="743.5" cy="159.5" r="1.1" fill="#4a4646"/>
<circle cx="751.5" cy="159.5" r="2.8" fill="#aca8a4"/><circle cx="751.5" cy="159.5" r="1.1" fill="#4a4646"/>
<circle cx="743.5" cy="167.4" r="2.8" fill="#aca8a4"/><circle cx="743.5" cy="167.4" r="1.1" fill="#4a4646"/>
<circle cx="751.5" cy="167.4" r="2.8" fill="#aca8a4"/><circle cx="751.5" cy="167.4" r="1.1" fill="#4a4646"/>
<circle cx="773.5" cy="135.8" r="2.8" fill="#aca8a4"/><circle cx="773.5" cy="135.8" r="1.1" fill="#4a4646"/>
<circle cx="781.5" cy="135.8" r="2.8" fill="#aca8a4"/><circle cx="781.5" cy="135.8" r="1.1" fill="#4a4646"/>
<circle cx="773.5" cy="143.70000000000002" r="2.8" fill="#aca8a4"/><circle cx="773.5" cy="143.70000000000002" r="1.1" fill="#4a4646"/>
<circle cx="781.5" cy="143.70000000000002" r="2.8" fill="#aca8a4"/><circle cx="781.5" cy="143.70000000000002" r="1.1" fill="#4a4646"/>
<circle cx="773.5" cy="151.60000000000002" r="2.8" fill="#aca8a4"/><circle cx="773.5" cy="151.60000000000002" r="1.1" fill="#4a4646"/>
<circle cx="781.5" cy="151.60000000000002" r="2.8" fill="#aca8a4"/><circle cx="781.5" cy="151.60000000000002" r="1.1" fill="#4a4646"/>
<circle cx="773.5" cy="159.5" r="2.8" fill="#aca8a4"/><circle cx="773.5" cy="159.5" r="1.1" fill="#4a4646"/>
<circle cx="781.5" cy="159.5" r="2.8" fill="#aca8a4"/><circle cx="781.5" cy="159.5" r="1.1" fill="#4a4646"/>
<circle cx="773.5" cy="167.4" r="2.8" fill="#aca8a4"/><circle cx="773.5" cy="167.4" r="1.1" fill="#4a4646"/>
<circle cx="781.5" cy="167.4" r="2.8" fill="#aca8a4"/><circle cx="781.5" cy="167.4" r="1.1" fill="#4a4646"/>
<text x="745" y="128" font-size="8.5" fill="#d8d4d0" font-family="Liberation Sans">J2</text><text x="775" y="128" font-size="8.5" fill="#d8d4d0" font-family="Liberation Sans">J1</text>
<text x="741.5" y="134" font-size="6" fill="#c8c4c0" font-family="Liberation Sans">(bot)</text><text x="770.5" y="134" font-size="6" fill="#c8c4c0" font-family="Liberation Sans">(bot)</text>
<rect x="760.00" y="134.00" width="5.50" height="7.00" fill="#8a8682" /><rect x="760.00" y="145.00" width="5.50" height="7.00" fill="#8a8682" /><rect x="761.00" y="157.00" width="3.50" height="11.00" fill="#6a6662" /></g><polyline points="204,177 246,177" fill="none" stroke="#c91f2a" stroke-width="2.1"/>
<circle cx="246" cy="176.5" r="5.4" fill="#f0a8a8" opacity="0.8"/><circle cx="246" cy="176.5" r="4" fill="#ec1c24"/>
<polyline points="204,221 246,221" fill="none" stroke="#c91f2a" stroke-width="2.1"/>
<circle cx="245.8" cy="221" r="5.4" fill="#f0a8a8" opacity="0.8"/><circle cx="245.8" cy="221" r="4" fill="#ec1c24"/>
<polyline points="204,259 246,259" fill="none" stroke="#c91f2a" stroke-width="2.1"/>
<circle cx="246" cy="259" r="5.4" fill="#f0a8a8" opacity="0.8"/><circle cx="246" cy="259" r="4" fill="#ec1c24"/>
<polyline points="204,266.6 269.6,266.6" fill="none" stroke="#c91f2a" stroke-width="2.1"/>
<circle cx="269.6" cy="266.6" r="5.4" fill="#f0a8a8" opacity="0.8"/><circle cx="269.6" cy="266.6" r="4" fill="#ec1c24"/>
<polyline points="204,308 246,308" fill="none" stroke="#c91f2a" stroke-width="2.1"/>
<circle cx="246" cy="308" r="5.4" fill="#f0a8a8" opacity="0.8"/><circle cx="246" cy="308" r="4" fill="#ec1c24"/>
<polyline points="205,329.6 337,329.6 337,321.5" fill="none" stroke="#c91f2a" stroke-width="2.1"/>
<circle cx="337" cy="321.3" r="5.4" fill="#f0a8a8" opacity="0.8"/><circle cx="337" cy="321.3" r="4" fill="#ec1c24"/>
<polyline points="205,357 311,357" fill="none" stroke="#c91f2a" stroke-width="2.1"/>
<circle cx="311" cy="357.5" r="5.4" fill="#f0a8a8" opacity="0.8"/><circle cx="311" cy="357.5" r="4" fill="#ec1c24"/>
<polyline points="205,394.5 351.5,394.5 351.5,351" fill="none" stroke="#c91f2a" stroke-width="2.1"/>
<circle cx="351.5" cy="351" r="5.4" fill="#f0a8a8" opacity="0.8"/><circle cx="351.5" cy="351" r="4" fill="#ec1c24"/>
<polyline points="204.5,450.8 262.2,450.8 262.2,405.5" fill="none" stroke="#c91f2a" stroke-width="2.1"/>
<circle cx="261.6" cy="405.5" r="5.4" fill="#f0a8a8" opacity="0.8"/><circle cx="261.6" cy="405.5" r="4" fill="#ec1c24"/>
<polyline points="503,199.7 433.3,199.7" fill="none" stroke="#c91f2a" stroke-width="2.1"/>
<circle cx="433.3" cy="200.4" r="5.4" fill="#f0a8a8" opacity="0.8"/><circle cx="433.3" cy="200.4" r="4" fill="#ec1c24"/>
<polyline points="503,236.8 460,236.8" fill="none" stroke="#c91f2a" stroke-width="2.1"/>
<circle cx="460" cy="236.7" r="5.4" fill="#f0a8a8" opacity="0.8"/><circle cx="460" cy="236.7" r="4" fill="#ec1c24"/>
<polyline points="503,274.5 427.8,274.5" fill="none" stroke="#c91f2a" stroke-width="2.1"/>
<circle cx="427.8" cy="274.5" r="5.4" fill="#f0a8a8" opacity="0.8"/><circle cx="427.8" cy="274.5" r="4" fill="#ec1c24"/>
<polyline points="503,283.5 457.6,283.5" fill="none" stroke="#c91f2a" stroke-width="2.1"/>
<circle cx="457.6" cy="283.5" r="5.4" fill="#f0a8a8" opacity="0.8"/><circle cx="457.6" cy="283.5" r="4" fill="#ec1c24"/>
<polyline points="503,308 389.5,308 389.5,321.5" fill="none" stroke="#c91f2a" stroke-width="2.1"/>
<circle cx="389.5" cy="321.5" r="5.4" fill="#f0a8a8" opacity="0.8"/><circle cx="389.5" cy="321.5" r="4" fill="#ec1c24"/>
<polyline points="503,340 442,340" fill="none" stroke="#c91f2a" stroke-width="2.1"/>
<circle cx="442.4" cy="340" r="5.4" fill="#f0a8a8" opacity="0.8"/><circle cx="442.4" cy="340" r="4" fill="#ec1c24"/>
<polyline points="503,378.5 386,378.5 386,351" fill="none" stroke="#c91f2a" stroke-width="2.1"/>
<circle cx="386" cy="351" r="5.4" fill="#f0a8a8" opacity="0.8"/><circle cx="386" cy="351" r="4" fill="#ec1c24"/>
<polyline points="503,417.4 395.5,417.4" fill="none" stroke="#c91f2a" stroke-width="2.1"/>
<circle cx="395.5" cy="417.6" r="5.4" fill="#f0a8a8" opacity="0.8"/><circle cx="395.5" cy="417.6" r="4" fill="#ec1c24"/>
<polyline points="503,458.5 454,458.5 454,432" fill="none" stroke="#c91f2a" stroke-width="2.1"/>
<circle cx="454" cy="432" r="5.4" fill="#f0a8a8" opacity="0.8"/><circle cx="454" cy="432" r="4" fill="#ec1c24"/>
<polyline points="368.8,69 368.8,108" fill="none" stroke="#c91f2a" stroke-width="2.1"/>
<circle cx="368.8" cy="108.3" r="5.4" fill="#f0a8a8" opacity="0.8"/><circle cx="368.8" cy="108.3" r="4" fill="#ec1c24"/>
<polyline points="424.3,69 424.3,114" fill="none" stroke="#c91f2a" stroke-width="2.1"/>
<circle cx="424.3" cy="114" r="5.4" fill="#f0a8a8" opacity="0.8"/><circle cx="424.3" cy="114" r="4" fill="#ec1c24"/>
<polyline points="289,466.5 289,520.5 305.4,520.5" fill="none" stroke="#c91f2a" stroke-width="2.1"/>
<polyline points="316.4,466.5 316.4,504.5" fill="none" stroke="#c91f2a" stroke-width="2.1"/>
<polyline points="343,466.5 343,504.5" fill="none" stroke="#c91f2a" stroke-width="2.1"/>
<polyline points="371.4,466.5 371.4,520.5 353.5,520.5" fill="none" stroke="#c91f2a" stroke-width="2.1"/>
<polyline points="396.7,466.5 396.7,504.5" fill="none" stroke="#c91f2a" stroke-width="2.1"/>
<polyline points="425,466.5 425,504.5" fill="none" stroke="#c91f2a" stroke-width="2.1"/>
<circle cx="289" cy="466.5" r="5.4" fill="#f0a8a8" opacity="0.8"/><circle cx="289" cy="466.5" r="4" fill="#ec1c24"/>
<circle cx="316.4" cy="466.5" r="5.4" fill="#f0a8a8" opacity="0.8"/><circle cx="316.4" cy="466.5" r="4" fill="#ec1c24"/>
<circle cx="343" cy="466.5" r="5.4" fill="#f0a8a8" opacity="0.8"/><circle cx="343" cy="466.5" r="4" fill="#ec1c24"/>
<circle cx="371.4" cy="466.5" r="5.4" fill="#f0a8a8" opacity="0.8"/><circle cx="371.4" cy="466.5" r="4" fill="#ec1c24"/>
<circle cx="396.7" cy="466.5" r="5.4" fill="#f0a8a8" opacity="0.8"/><circle cx="396.7" cy="466.5" r="4" fill="#ec1c24"/>
<circle cx="425" cy="466.5" r="5.4" fill="#f0a8a8" opacity="0.8"/><circle cx="425" cy="466.5" r="4" fill="#ec1c24"/>
<text class="t" x="76.20" y="184.00" font-size="19.3" textLength="114.90" lengthAdjust="spacingAndGlyphs">X-axis motor</text>
<text class="t" x="78.30" y="226.00" font-size="19.3" textLength="112.80" lengthAdjust="spacingAndGlyphs">Y-axis motor</text>
<text class="t" x="65.50" y="268.80" font-size="19.3" textLength="126.50" lengthAdjust="spacingAndGlyphs">Z-axis motors</text>
<text class="t" x="52.20" y="311.80" font-size="19.3" textLength="138.60" lengthAdjust="spacingAndGlyphs">Extruder motor</text>
<text class="t" x="15.70" y="336.40" font-size="19.3" textLength="175.80" lengthAdjust="spacingAndGlyphs">Heatbed thermistor</text>
<text class="t" x="48.80" y="363.00" font-size="19.3" textLength="142.00" lengthAdjust="spacingAndGlyphs">Extruder heater</text>
<text class="t" x="54.00" y="400.00" font-size="19.3" textLength="138.00" lengthAdjust="spacingAndGlyphs">Left hotend fan</text>
<text class="t" x="110.75" y="459.50" font-size="19.3" textLength="79.00" lengthAdjust="spacingAndGlyphs">5A fuses</text>
<text class="t" x="122.50" y="470.75" font-size="11" textLength="67.25" lengthAdjust="spacingAndGlyphs">Top - hotend</text>
<text class="t" x="3.50" y="480.75" font-size="11" textLength="186.25" lengthAdjust="spacingAndGlyphs">Bottom - motors, thermistors, fans</text>
<text class="t" x="514.50" y="206.50" font-size="19.3" textLength="187.80" lengthAdjust="spacingAndGlyphs">Raspberry Pi header</text>
<text class="t" x="514.50" y="243.80" font-size="19.3" textLength="142.50" lengthAdjust="spacingAndGlyphs">P.I.N.D.A. probe</text>
<text class="t" x="514.50" y="286.50" font-size="19.3" textLength="105.90" lengthAdjust="spacingAndGlyphs">LCD cables</text>
<text class="t" x="514.50" y="315.40" font-size="19.3" textLength="179.00" lengthAdjust="spacingAndGlyphs">Extruder thermistor</text>
<text class="t" x="514.40" y="346.00" font-size="19.3" textLength="254.10" lengthAdjust="spacingAndGlyphs">Filament sensor (lower row)</text>
<text class="t" x="515.00" y="384.50" font-size="19.3" textLength="129.10" lengthAdjust="spacingAndGlyphs">Front print fan</text>
<text class="t" x="515.80" y="423.00" font-size="19.3" textLength="80.20" lengthAdjust="spacingAndGlyphs">15A fuse</text>
<text class="t" x="515.90" y="433.30" font-size="11" textLength="46.20" lengthAdjust="spacingAndGlyphs">Heatbed</text>
<text class="t" x="514.40" y="464.10" font-size="19.3" textLength="158.60" lengthAdjust="spacingAndGlyphs">PSU power panic</text>
<text class="t" x="349.00" y="63.10" font-size="19.3" textLength="41.10" lengthAdjust="spacingAndGlyphs">USB</text>
<text class="t" x="420.90" y="63.10" font-size="19.3" textLength="120.10" lengthAdjust="spacingAndGlyphs">Reset button</text>
<text class="t" x="654.20" y="70.30" font-size="20" textLength="109.90" lengthAdjust="spacingAndGlyphs">Patch board</text>
<text class="t" x="655.80" y="82.50" font-size="11" textLength="107.20" lengthAdjust="spacingAndGlyphs">only for version 1.0a</text>
<text class="t" x="310.10" y="527.20" font-size="19.3" textLength="39.90" lengthAdjust="spacingAndGlyphs">PSU</text>
<text class="t" x="393.50" y="527.20" font-size="19.3" textLength="76.10" lengthAdjust="spacingAndGlyphs">Heatbed</text>
</svg>
</body></html>
